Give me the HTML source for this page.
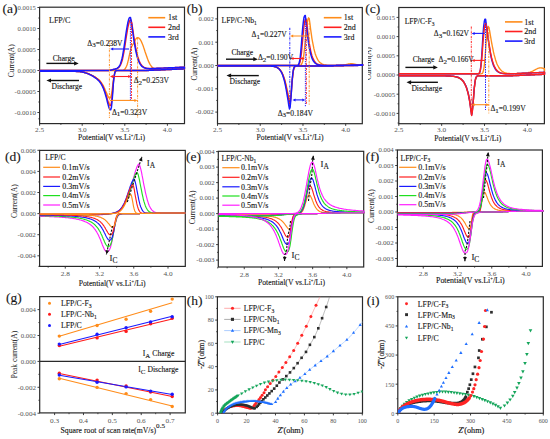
<!DOCTYPE html>
<html><head><meta charset="utf-8"><style>
html,body{margin:0;padding:0;background:#fff;width:550px;height:439px;overflow:hidden}
svg{display:block}
text{font-family:"Liberation Serif",serif}
</style></head><body>
<svg width="550" height="439" viewBox="0 0 550 439">
<rect width="550" height="439" fill="#fff"/>
<rect x="39.60" y="7.20" width="144.90" height="116.40" fill="none" stroke="#2a2a2a" stroke-width="1.2"/>
<line x1="37.40" y1="7.50" x2="39.60" y2="7.50" stroke="#2a2a2a" stroke-width="0.9"/>
<text x="35.90" y="9.84" font-size="7.1" font-family="Liberation Serif" fill="#555555" text-anchor="end" textLength="18.3" lengthAdjust="spacingAndGlyphs">0.0015</text>
<line x1="37.40" y1="28.50" x2="39.60" y2="28.50" stroke="#2a2a2a" stroke-width="0.9"/>
<text x="35.90" y="30.84" font-size="7.1" font-family="Liberation Serif" fill="#555555" text-anchor="end" textLength="18.3" lengthAdjust="spacingAndGlyphs">0.0010</text>
<line x1="37.40" y1="49.50" x2="39.60" y2="49.50" stroke="#2a2a2a" stroke-width="0.9"/>
<text x="35.90" y="51.84" font-size="7.1" font-family="Liberation Serif" fill="#555555" text-anchor="end" textLength="18.3" lengthAdjust="spacingAndGlyphs">0.0005</text>
<line x1="37.40" y1="70.50" x2="39.60" y2="70.50" stroke="#2a2a2a" stroke-width="0.9"/>
<text x="35.90" y="72.84" font-size="7.1" font-family="Liberation Serif" fill="#555555" text-anchor="end" textLength="18.3" lengthAdjust="spacingAndGlyphs">0.0000</text>
<line x1="37.40" y1="91.50" x2="39.60" y2="91.50" stroke="#2a2a2a" stroke-width="0.9"/>
<text x="35.90" y="93.84" font-size="7.1" font-family="Liberation Serif" fill="#555555" text-anchor="end" textLength="21.3" lengthAdjust="spacingAndGlyphs">-0.0005</text>
<line x1="37.40" y1="112.50" x2="39.60" y2="112.50" stroke="#2a2a2a" stroke-width="0.9"/>
<text x="35.90" y="114.84" font-size="7.1" font-family="Liberation Serif" fill="#555555" text-anchor="end" textLength="21.3" lengthAdjust="spacingAndGlyphs">-0.0010</text>
<line x1="38.30" y1="18.00" x2="39.60" y2="18.00" stroke="#2a2a2a" stroke-width="0.8"/>
<line x1="38.30" y1="39.00" x2="39.60" y2="39.00" stroke="#2a2a2a" stroke-width="0.8"/>
<line x1="38.30" y1="60.00" x2="39.60" y2="60.00" stroke="#2a2a2a" stroke-width="0.8"/>
<line x1="38.30" y1="81.00" x2="39.60" y2="81.00" stroke="#2a2a2a" stroke-width="0.8"/>
<line x1="38.30" y1="102.00" x2="39.60" y2="102.00" stroke="#2a2a2a" stroke-width="0.8"/>
<line x1="38.30" y1="118.80" x2="39.60" y2="118.80" stroke="#2a2a2a" stroke-width="0.8"/>
<line x1="39.60" y1="123.60" x2="39.60" y2="125.80" stroke="#2a2a2a" stroke-width="0.9"/>
<text x="39.60" y="132.40" font-size="7.1" font-family="Liberation Serif" fill="#555555" text-anchor="middle" textLength="9.1" lengthAdjust="spacingAndGlyphs">2.5</text>
<line x1="82.20" y1="123.60" x2="82.20" y2="125.80" stroke="#2a2a2a" stroke-width="0.9"/>
<text x="82.20" y="132.40" font-size="7.1" font-family="Liberation Serif" fill="#555555" text-anchor="middle" textLength="9.1" lengthAdjust="spacingAndGlyphs">3.0</text>
<line x1="124.80" y1="123.60" x2="124.80" y2="125.80" stroke="#2a2a2a" stroke-width="0.9"/>
<text x="124.80" y="132.40" font-size="7.1" font-family="Liberation Serif" fill="#555555" text-anchor="middle" textLength="9.1" lengthAdjust="spacingAndGlyphs">3.5</text>
<line x1="167.40" y1="123.60" x2="167.40" y2="125.80" stroke="#2a2a2a" stroke-width="0.9"/>
<text x="167.40" y="132.40" font-size="7.1" font-family="Liberation Serif" fill="#555555" text-anchor="middle" textLength="9.1" lengthAdjust="spacingAndGlyphs">4.0</text>
<line x1="60.90" y1="123.60" x2="60.90" y2="124.90" stroke="#2a2a2a" stroke-width="0.8"/>
<line x1="103.50" y1="123.60" x2="103.50" y2="124.90" stroke="#2a2a2a" stroke-width="0.8"/>
<line x1="146.10" y1="123.60" x2="146.10" y2="124.90" stroke="#2a2a2a" stroke-width="0.8"/>
<text x="2.40" y="13.40" font-size="13.5" font-family="Liberation Serif" fill="#161616" stroke="#161616" stroke-width="0.12" text-anchor="start" >(a)</text>
<text x="49.00" y="22.80" font-size="8" font-family="Liberation Serif" fill="#161616" stroke="#161616" stroke-width="0.12" text-anchor="start" >LFP/C</text>
<text x="0" y="0" font-size="7.4" font-family="Liberation Serif" fill="#161616" text-anchor="middle" transform="translate(14.30,60.80) rotate(-90)">Current(A)</text>
<text x="78.00" y="139.80" font-size="7.7" font-family="Liberation Serif" fill="#161616" stroke="#161616" stroke-width="0.12" text-anchor="start" >Potential(V vs.Li<tspan font-size="0.6em" dy="-3">+</tspan><tspan dy="3">/Li)</tspan></text>
<line x1="148.3" y1="17.70" x2="165.2" y2="17.70" stroke="#ff8c1a" stroke-width="1.6"/>
<text x="168.00" y="20.40" font-size="8" font-family="Liberation Serif" fill="#161616" stroke="#161616" stroke-width="0.12" text-anchor="start" >1st</text>
<line x1="148.3" y1="27.30" x2="165.2" y2="27.30" stroke="#ff2020" stroke-width="1.6"/>
<text x="168.00" y="30.00" font-size="8" font-family="Liberation Serif" fill="#161616" stroke="#161616" stroke-width="0.12" text-anchor="start" >2nd</text>
<line x1="148.3" y1="36.90" x2="165.2" y2="36.90" stroke="#1a1aff" stroke-width="1.6"/>
<text x="168.00" y="39.60" font-size="8" font-family="Liberation Serif" fill="#161616" stroke="#161616" stroke-width="0.12" text-anchor="start" >3rd</text>
<path d="M39.6,70.5 L40.3,70.5 L40.9,70.5 L41.6,70.5 L42.2,70.5 L42.9,70.5 L43.6,70.5 L44.2,70.5 L44.9,70.5 L45.5,70.5 L46.2,70.5 L46.8,70.5 L47.5,70.5 L48.2,70.5 L48.8,70.5 L49.5,70.5 L50.1,70.5 L50.8,70.5 L51.5,70.5 L52.1,70.5 L52.8,70.5 L53.4,70.5 L54.1,70.5 L54.7,70.5 L55.4,70.5 L56.1,70.5 L56.7,70.5 L57.4,70.5 L58.0,70.5 L58.7,70.5 L59.4,70.5 L60.0,70.5 L60.7,70.5 L61.3,70.5 L62.0,70.5 L62.6,70.5 L63.3,70.5 L64.0,70.5 L64.6,70.5 L65.3,70.5 L65.9,70.5 L66.6,70.5 L67.3,70.5 L67.9,70.5 L68.6,70.5 L69.2,70.5 L69.9,70.5 L70.5,70.5 L71.2,70.5 L71.9,70.5 L72.5,70.5 L73.2,70.5 L73.8,70.5 L74.5,70.5 L75.2,70.5 L75.8,70.5 L76.5,70.5 L77.1,70.5 L77.8,70.5 L78.4,70.5 L79.1,70.5 L79.8,70.5 L80.4,70.5 L81.1,70.5 L81.7,70.5 L82.4,70.5 L83.1,70.5 L83.7,70.5 L84.4,70.5 L85.0,70.5 L85.7,70.5 L86.3,70.5 L87.0,70.5 L87.7,70.5 L88.3,70.5 L89.0,70.5 L89.6,70.5 L90.3,70.5 L91.0,70.5 L91.6,70.5 L92.3,70.5 L92.9,70.5 L93.6,70.5 L94.2,70.5 L94.9,70.5 L95.6,70.5 L96.2,70.5 L96.9,70.5 L97.5,70.5 L98.2,70.5 L98.9,70.5 L99.5,70.5 L100.2,70.5 L100.8,70.5 L101.5,70.5 L102.1,70.5 L102.8,70.5 L103.5,70.5 L104.1,70.5 L104.8,70.5 L105.4,70.5 L106.1,70.5 L106.8,70.5 L107.4,70.5 L108.1,70.5 L108.7,70.5 L109.4,70.5 L110.0,70.5 L110.7,70.5 L111.4,70.5 L112.0,70.5 L112.7,70.5 L113.3,70.5 L114.0,70.5 L114.7,70.5 L115.3,70.5 L116.0,70.5 L116.6,70.5 L117.3,70.5 L117.9,70.5 L118.6,70.5 L119.3,70.5 L119.9,70.5 L120.6,70.5 L121.2,70.4 L121.9,70.4 L122.6,70.3 L123.2,70.1 L123.9,69.8 L124.5,69.4 L125.2,68.7 L125.8,67.7 L126.5,66.3 L127.2,64.5 L127.8,62.1 L128.5,59.4 L129.1,56.4 L129.8,53.4 L130.5,50.5 L131.1,48.1 L131.8,46.3 L132.4,45.1 L133.1,44.1 L133.7,43.0 L134.4,41.7 L135.1,40.3 L135.7,39.2 L136.4,38.3 L137.0,37.8 L137.7,37.7 L138.4,37.9 L139.0,38.2 L139.7,38.8 L140.3,39.7 L141.0,40.8 L141.6,42.1 L142.3,43.7 L143.0,45.4 L143.6,47.3 L144.3,49.3 L144.9,51.3 L145.6,53.3 L146.3,55.2 L146.9,57.1 L147.6,58.9 L148.2,60.6 L148.9,62.1 L149.5,63.4 L150.2,64.6 L150.9,65.6 L151.5,66.5 L152.2,67.3 L152.8,67.9 L153.5,68.4 L154.2,68.8 L154.8,69.1 L155.5,69.3 L156.1,69.5 L156.8,69.6 L157.4,69.7 L158.1,69.8 L158.8,69.8 L159.4,69.8 L160.1,69.8 L160.7,69.8 L161.4,69.8 L162.1,69.8 L162.7,69.8 L163.4,69.7 L164.0,69.7 L164.7,69.7 L165.3,69.7 L166.0,69.6 L166.7,69.6 L167.3,69.6 L168.0,69.5 L168.6,69.5 L169.3,69.5 L170.0,69.5 L170.6,69.4 L171.3,69.4 L171.9,69.4 L172.6,69.3 L173.2,69.3 L173.9,69.3 L174.6,69.3 L175.2,69.2 L175.9,69.2 L176.5,69.2 L177.2,69.1 L177.9,69.1 L178.5,69.1 L179.2,69.1 L179.8,69.0 L180.5,69.0 L181.1,69.0 L181.8,68.9 L182.5,68.9 L183.1,68.9 L183.8,68.8 L184.4,68.8 L184.4,68.8 L183.8,68.8 L183.1,68.9 L182.5,68.9 L181.8,68.9 L181.1,69.0 L180.5,69.0 L179.8,69.0 L179.2,69.1 L178.5,69.1 L177.9,69.1 L177.2,69.1 L176.5,69.2 L175.9,69.2 L175.2,69.2 L174.6,69.3 L173.9,69.3 L173.2,69.3 L172.6,69.3 L171.9,69.4 L171.3,69.4 L170.6,69.4 L170.0,69.5 L169.3,69.5 L168.6,69.5 L168.0,69.5 L167.3,69.6 L166.7,69.6 L166.0,69.6 L165.3,69.7 L164.7,69.7 L164.0,69.7 L163.4,69.7 L162.7,69.8 L162.1,69.8 L161.4,69.8 L160.7,69.9 L160.1,69.9 L159.4,69.9 L158.8,69.9 L158.1,70.0 L157.4,70.0 L156.8,70.0 L156.1,70.1 L155.5,70.1 L154.8,70.1 L154.2,70.1 L153.5,70.2 L152.8,70.2 L152.2,70.2 L151.5,70.3 L150.9,70.3 L150.2,70.3 L149.5,70.3 L148.9,70.4 L148.2,70.4 L147.6,70.4 L146.9,70.5 L146.3,70.5 L145.6,70.5 L144.9,70.5 L144.3,70.5 L143.6,70.5 L143.0,70.5 L142.3,70.5 L141.6,70.5 L141.0,70.5 L140.3,70.5 L139.7,70.5 L139.0,70.5 L138.4,70.5 L137.7,70.5 L137.0,70.5 L136.4,70.5 L135.7,70.5 L135.1,70.5 L134.4,70.5 L133.7,70.5 L133.1,70.5 L132.4,70.5 L131.8,70.5 L131.1,70.5 L130.5,70.5 L129.8,70.5 L129.1,70.5 L128.5,70.5 L127.8,70.5 L127.2,70.5 L126.5,70.5 L125.8,70.5 L125.2,70.5 L124.5,70.5 L123.9,70.5 L123.2,70.5 L122.6,70.5 L121.9,70.5 L121.2,70.5 L120.6,70.5 L119.9,70.5 L119.3,70.5 L118.6,70.5 L117.9,70.5 L117.3,70.5 L116.6,70.6 L116.0,70.9 L115.3,71.6 L114.7,73.2 L114.0,76.1 L113.3,80.3 L112.7,85.5 L112.0,90.7 L111.4,94.8 L110.7,97.3 L110.0,98.1 L109.4,98.0 L108.7,97.4 L108.1,96.4 L107.4,95.1 L106.8,93.6 L106.1,92.0 L105.4,90.4 L104.8,88.9 L104.1,87.5 L103.5,86.1 L102.8,84.9 L102.1,83.8 L101.5,82.8 L100.8,81.9 L100.2,81.1 L99.5,80.4 L98.9,79.7 L98.2,79.2 L97.5,78.6 L96.9,78.2 L96.2,77.7 L95.6,77.3 L94.9,76.9 L94.2,76.5 L93.6,76.2 L92.9,75.8 L92.3,75.4 L91.6,75.1 L91.0,74.8 L90.3,74.5 L89.6,74.2 L89.0,74.0 L88.3,73.7 L87.7,73.5 L87.0,73.2 L86.3,73.0 L85.7,72.8 L85.0,72.7 L84.4,72.5 L83.7,72.3 L83.1,72.2 L82.4,72.1 L81.7,72.0 L81.1,71.8 L80.4,71.8 L79.8,71.7 L79.1,71.6 L78.4,71.5 L77.8,71.5 L77.1,71.4 L76.5,71.4 L75.8,71.4 L75.2,71.4 L74.5,71.3 L73.8,71.3 L73.2,71.3 L72.5,71.3 L71.9,71.3 L71.2,71.3 L70.5,71.3 L69.9,71.3 L69.2,71.3 L68.6,71.3 L67.9,71.3 L67.3,71.3 L66.6,71.3 L65.9,71.3 L65.3,71.3 L64.6,71.3 L64.0,71.3 L63.3,71.3 L62.6,71.3 L62.0,71.3 L61.3,71.3 L60.7,71.3 L60.0,71.3 L59.4,71.3 L58.7,71.3 L58.0,71.3 L57.4,71.3 L56.7,71.3 L56.1,71.3 L55.4,71.3 L54.7,71.3 L54.1,71.3 L53.4,71.3 L52.8,71.3 L52.1,71.3 L51.5,71.3 L50.8,71.3 L50.1,71.3 L49.5,71.3 L48.8,71.3 L48.2,71.3 L47.5,71.3 L46.8,71.3 L46.2,71.3 L45.5,71.3 L44.9,71.3 L44.2,71.3 L43.6,71.3 L42.9,71.3 L42.2,71.3 L41.6,71.3 L40.9,71.3 L40.3,71.3 L39.6,71.3" fill="none" stroke="#ff8c1a" stroke-width="1.35" stroke-linejoin="round" />
<path d="M39.6,70.5 L40.3,70.5 L40.9,70.5 L41.6,70.5 L42.2,70.5 L42.9,70.5 L43.6,70.5 L44.2,70.5 L44.9,70.5 L45.5,70.5 L46.2,70.5 L46.8,70.5 L47.5,70.5 L48.2,70.5 L48.8,70.5 L49.5,70.5 L50.1,70.5 L50.8,70.5 L51.5,70.5 L52.1,70.5 L52.8,70.5 L53.4,70.5 L54.1,70.5 L54.7,70.5 L55.4,70.5 L56.1,70.5 L56.7,70.5 L57.4,70.5 L58.0,70.5 L58.7,70.5 L59.4,70.5 L60.0,70.5 L60.7,70.5 L61.3,70.5 L62.0,70.5 L62.6,70.5 L63.3,70.5 L64.0,70.5 L64.6,70.5 L65.3,70.5 L65.9,70.5 L66.6,70.5 L67.3,70.5 L67.9,70.5 L68.6,70.5 L69.2,70.5 L69.9,70.5 L70.5,70.5 L71.2,70.5 L71.9,70.5 L72.5,70.5 L73.2,70.5 L73.8,70.5 L74.5,70.5 L75.2,70.5 L75.8,70.5 L76.5,70.5 L77.1,70.5 L77.8,70.5 L78.4,70.5 L79.1,70.5 L79.8,70.5 L80.4,70.5 L81.1,70.5 L81.7,70.5 L82.4,70.5 L83.1,70.5 L83.7,70.5 L84.4,70.5 L85.0,70.5 L85.7,70.5 L86.3,70.5 L87.0,70.5 L87.7,70.5 L88.3,70.5 L89.0,70.5 L89.6,70.5 L90.3,70.5 L91.0,70.5 L91.6,70.5 L92.3,70.5 L92.9,70.5 L93.6,70.5 L94.2,70.5 L94.9,70.5 L95.6,70.5 L96.2,70.5 L96.9,70.5 L97.5,70.5 L98.2,70.5 L98.9,70.5 L99.5,70.5 L100.2,70.5 L100.8,70.5 L101.5,70.5 L102.1,70.5 L102.8,70.5 L103.5,70.5 L104.1,70.5 L104.8,70.5 L105.4,70.5 L106.1,70.5 L106.8,70.5 L107.4,70.5 L108.1,70.5 L108.7,70.5 L109.4,70.4 L110.0,70.3 L110.7,70.2 L111.4,70.0 L112.0,69.9 L112.7,69.7 L113.3,69.5 L114.0,69.4 L114.7,69.2 L115.3,69.0 L116.0,68.8 L116.6,68.6 L117.3,68.4 L117.9,68.0 L118.6,67.6 L119.3,66.9 L119.9,66.0 L120.6,64.8 L121.2,63.2 L121.9,61.2 L122.6,58.7 L123.2,55.6 L123.9,52.2 L124.5,48.3 L125.2,44.1 L125.8,39.8 L126.5,35.5 L127.2,31.4 L127.8,27.7 L128.5,24.6 L129.1,22.2 L129.8,20.6 L130.5,19.8 L131.1,20.1 L131.8,23.2 L132.4,27.2 L133.1,31.6 L133.7,36.0 L134.4,40.3 L135.1,44.2 L135.7,47.9 L136.4,51.1 L137.0,54.0 L137.7,56.5 L138.4,58.6 L139.0,60.5 L139.7,62.0 L140.3,63.3 L141.0,64.4 L141.6,65.3 L142.3,66.0 L143.0,66.6 L143.6,67.1 L144.3,67.4 L144.9,67.8 L145.6,68.0 L146.3,68.2 L146.9,68.3 L147.6,68.4 L148.2,68.4 L148.9,68.5 L149.5,68.5 L150.2,68.5 L150.9,68.5 L151.5,68.5 L152.2,68.5 L152.8,68.5 L153.5,68.5 L154.2,68.4 L154.8,68.4 L155.5,68.4 L156.1,68.4 L156.8,68.3 L157.4,68.3 L158.1,68.3 L158.8,68.3 L159.4,68.2 L160.1,68.2 L160.7,68.2 L161.4,68.1 L162.1,68.1 L162.7,68.1 L163.4,68.1 L164.0,68.0 L164.7,68.0 L165.3,68.0 L166.0,67.9 L166.7,67.9 L167.3,67.9 L168.0,67.9 L168.6,67.8 L169.3,67.8 L170.0,67.8 L170.6,67.7 L171.3,67.7 L171.9,67.7 L172.6,67.7 L173.2,67.6 L173.9,67.6 L174.6,67.6 L175.2,67.5 L175.9,67.5 L176.5,67.5 L177.2,67.5 L177.9,67.4 L178.5,67.4 L179.2,67.4 L179.8,67.3 L180.5,67.3 L181.1,67.3 L181.8,67.3 L182.5,67.2 L183.1,67.2 L183.8,67.2 L184.4,67.1 L184.4,68.8 L183.8,68.8 L183.1,68.9 L182.5,68.9 L181.8,68.9 L181.1,69.0 L180.5,69.0 L179.8,69.0 L179.2,69.1 L178.5,69.1 L177.9,69.1 L177.2,69.1 L176.5,69.2 L175.9,69.2 L175.2,69.2 L174.6,69.3 L173.9,69.3 L173.2,69.3 L172.6,69.3 L171.9,69.4 L171.3,69.4 L170.6,69.4 L170.0,69.5 L169.3,69.5 L168.6,69.5 L168.0,69.5 L167.3,69.6 L166.7,69.6 L166.0,69.6 L165.3,69.7 L164.7,69.7 L164.0,69.7 L163.4,69.7 L162.7,69.8 L162.1,69.8 L161.4,69.8 L160.7,69.9 L160.1,69.9 L159.4,69.9 L158.8,69.9 L158.1,70.0 L157.4,70.0 L156.8,70.0 L156.1,70.1 L155.5,70.1 L154.8,70.1 L154.2,70.1 L153.5,70.2 L152.8,70.2 L152.2,70.2 L151.5,70.3 L150.9,70.3 L150.2,70.3 L149.5,70.3 L148.9,70.4 L148.2,70.4 L147.6,70.4 L146.9,70.5 L146.3,70.5 L145.6,70.5 L144.9,70.5 L144.3,70.5 L143.6,70.5 L143.0,70.5 L142.3,70.5 L141.6,70.5 L141.0,70.5 L140.3,70.5 L139.7,70.5 L139.0,70.5 L138.4,70.5 L137.7,70.5 L137.0,70.5 L136.4,70.5 L135.7,70.5 L135.1,70.5 L134.4,70.5 L133.7,70.5 L133.1,70.5 L132.4,70.5 L131.8,70.5 L131.1,70.5 L130.5,70.5 L129.8,70.5 L129.1,70.5 L128.5,70.5 L127.8,70.5 L127.2,70.5 L126.5,70.5 L125.8,70.5 L125.2,70.5 L124.5,70.5 L123.9,70.5 L123.2,70.5 L122.6,70.5 L121.9,70.5 L121.2,70.5 L120.6,70.5 L119.9,70.5 L119.3,70.5 L118.6,70.5 L117.9,70.5 L117.3,70.5 L116.6,70.6 L116.0,70.7 L115.3,71.4 L114.7,73.3 L114.0,77.0 L113.3,83.0 L112.7,90.5 L112.0,97.8 L111.4,103.0 L110.7,105.3 L110.0,105.6 L109.4,104.9 L108.7,103.6 L108.1,101.8 L107.4,99.6 L106.8,97.3 L106.1,95.1 L105.4,92.9 L104.8,91.0 L104.1,89.2 L103.5,87.6 L102.8,86.1 L102.1,84.9 L101.5,83.7 L100.8,82.7 L100.2,81.8 L99.5,81.0 L98.9,80.3 L98.2,79.7 L97.5,79.1 L96.9,78.6 L96.2,78.1 L95.6,77.7 L94.9,77.2 L94.2,76.8 L93.6,76.4 L92.9,76.0 L92.3,75.6 L91.6,75.3 L91.0,74.9 L90.3,74.6 L89.6,74.3 L89.0,74.0 L88.3,73.8 L87.7,73.5 L87.0,73.3 L86.3,73.1 L85.7,72.9 L85.0,72.7 L84.4,72.5 L83.7,72.3 L83.1,72.2 L82.4,72.1 L81.7,71.9 L81.1,71.8 L80.4,71.7 L79.8,71.6 L79.1,71.6 L78.4,71.5 L77.8,71.5 L77.1,71.4 L76.5,71.4 L75.8,71.4 L75.2,71.3 L74.5,71.3 L73.8,71.3 L73.2,71.3 L72.5,71.3 L71.9,71.3 L71.2,71.3 L70.5,71.3 L69.9,71.3 L69.2,71.3 L68.6,71.3 L67.9,71.3 L67.3,71.3 L66.6,71.3 L65.9,71.3 L65.3,71.3 L64.6,71.3 L64.0,71.3 L63.3,71.3 L62.6,71.3 L62.0,71.3 L61.3,71.3 L60.7,71.3 L60.0,71.3 L59.4,71.3 L58.7,71.3 L58.0,71.3 L57.4,71.3 L56.7,71.3 L56.1,71.3 L55.4,71.3 L54.7,71.3 L54.1,71.3 L53.4,71.3 L52.8,71.3 L52.1,71.3 L51.5,71.3 L50.8,71.3 L50.1,71.3 L49.5,71.3 L48.8,71.3 L48.2,71.3 L47.5,71.3 L46.8,71.3 L46.2,71.3 L45.5,71.3 L44.9,71.3 L44.2,71.3 L43.6,71.3 L42.9,71.3 L42.2,71.3 L41.6,71.3 L40.9,71.3 L40.3,71.3 L39.6,71.3" fill="none" stroke="#ff2020" stroke-width="1.45" stroke-linejoin="round" />
<path d="M39.6,70.5 L40.3,70.5 L40.9,70.5 L41.6,70.5 L42.2,70.5 L42.9,70.5 L43.6,70.5 L44.2,70.5 L44.9,70.5 L45.5,70.5 L46.2,70.5 L46.8,70.5 L47.5,70.5 L48.2,70.5 L48.8,70.5 L49.5,70.5 L50.1,70.5 L50.8,70.5 L51.5,70.5 L52.1,70.5 L52.8,70.5 L53.4,70.5 L54.1,70.5 L54.7,70.5 L55.4,70.5 L56.1,70.5 L56.7,70.5 L57.4,70.5 L58.0,70.5 L58.7,70.5 L59.4,70.5 L60.0,70.5 L60.7,70.5 L61.3,70.5 L62.0,70.5 L62.6,70.5 L63.3,70.5 L64.0,70.5 L64.6,70.5 L65.3,70.5 L65.9,70.5 L66.6,70.5 L67.3,70.5 L67.9,70.5 L68.6,70.5 L69.2,70.5 L69.9,70.5 L70.5,70.5 L71.2,70.5 L71.9,70.5 L72.5,70.5 L73.2,70.5 L73.8,70.5 L74.5,70.5 L75.2,70.5 L75.8,70.5 L76.5,70.5 L77.1,70.5 L77.8,70.5 L78.4,70.5 L79.1,70.5 L79.8,70.5 L80.4,70.5 L81.1,70.5 L81.7,70.5 L82.4,70.5 L83.1,70.5 L83.7,70.5 L84.4,70.5 L85.0,70.5 L85.7,70.5 L86.3,70.5 L87.0,70.5 L87.7,70.5 L88.3,70.5 L89.0,70.5 L89.6,70.5 L90.3,70.5 L91.0,70.5 L91.6,70.5 L92.3,70.5 L92.9,70.5 L93.6,70.5 L94.2,70.5 L94.9,70.5 L95.6,70.5 L96.2,70.5 L96.9,70.5 L97.5,70.5 L98.2,70.5 L98.9,70.5 L99.5,70.5 L100.2,70.5 L100.8,70.5 L101.5,70.5 L102.1,70.5 L102.8,70.5 L103.5,70.5 L104.1,70.5 L104.8,70.5 L105.4,70.5 L106.1,70.5 L106.8,70.5 L107.4,70.5 L108.1,70.5 L108.7,70.5 L109.4,70.4 L110.0,70.3 L110.7,70.2 L111.4,70.0 L112.0,69.9 L112.7,69.7 L113.3,69.5 L114.0,69.3 L114.7,69.2 L115.3,69.0 L116.0,68.7 L116.6,68.5 L117.3,68.1 L117.9,67.7 L118.6,67.1 L119.3,66.2 L119.9,65.0 L120.6,63.5 L121.2,61.4 L121.9,58.9 L122.6,55.8 L123.2,52.2 L123.9,48.1 L124.5,43.8 L125.2,39.2 L125.8,34.6 L126.5,30.2 L127.2,26.2 L127.8,22.8 L128.5,20.1 L129.1,18.3 L129.8,17.4 L130.5,17.4 L131.1,20.6 L131.8,24.9 L132.4,29.6 L133.1,34.4 L133.7,38.9 L134.4,43.2 L135.1,47.1 L135.7,50.5 L136.4,53.6 L137.0,56.2 L137.7,58.5 L138.4,60.4 L139.0,62.0 L139.7,63.3 L140.3,64.4 L141.0,65.3 L141.6,66.1 L142.3,66.7 L143.0,67.1 L143.6,67.5 L144.3,67.8 L144.9,68.0 L145.6,68.2 L146.3,68.4 L146.9,68.4 L147.6,68.5 L148.2,68.5 L148.9,68.6 L149.5,68.6 L150.2,68.6 L150.9,68.6 L151.5,68.5 L152.2,68.5 L152.8,68.5 L153.5,68.5 L154.2,68.5 L154.8,68.4 L155.5,68.4 L156.1,68.4 L156.8,68.3 L157.4,68.3 L158.1,68.3 L158.8,68.3 L159.4,68.2 L160.1,68.2 L160.7,68.2 L161.4,68.1 L162.1,68.1 L162.7,68.1 L163.4,68.1 L164.0,68.0 L164.7,68.0 L165.3,68.0 L166.0,67.9 L166.7,67.9 L167.3,67.9 L168.0,67.9 L168.6,67.8 L169.3,67.8 L170.0,67.8 L170.6,67.7 L171.3,67.7 L171.9,67.7 L172.6,67.7 L173.2,67.6 L173.9,67.6 L174.6,67.6 L175.2,67.5 L175.9,67.5 L176.5,67.5 L177.2,67.5 L177.9,67.4 L178.5,67.4 L179.2,67.4 L179.8,67.3 L180.5,67.3 L181.1,67.3 L181.8,67.3 L182.5,67.2 L183.1,67.2 L183.8,67.2 L184.4,67.1 L184.4,68.8 L183.8,68.8 L183.1,68.9 L182.5,68.9 L181.8,68.9 L181.1,69.0 L180.5,69.0 L179.8,69.0 L179.2,69.1 L178.5,69.1 L177.9,69.1 L177.2,69.1 L176.5,69.2 L175.9,69.2 L175.2,69.2 L174.6,69.3 L173.9,69.3 L173.2,69.3 L172.6,69.3 L171.9,69.4 L171.3,69.4 L170.6,69.4 L170.0,69.5 L169.3,69.5 L168.6,69.5 L168.0,69.5 L167.3,69.6 L166.7,69.6 L166.0,69.6 L165.3,69.7 L164.7,69.7 L164.0,69.7 L163.4,69.7 L162.7,69.8 L162.1,69.8 L161.4,69.8 L160.7,69.9 L160.1,69.9 L159.4,69.9 L158.8,69.9 L158.1,70.0 L157.4,70.0 L156.8,70.0 L156.1,70.1 L155.5,70.1 L154.8,70.1 L154.2,70.1 L153.5,70.2 L152.8,70.2 L152.2,70.2 L151.5,70.3 L150.9,70.3 L150.2,70.3 L149.5,70.3 L148.9,70.4 L148.2,70.4 L147.6,70.4 L146.9,70.5 L146.3,70.5 L145.6,70.5 L144.9,70.5 L144.3,70.5 L143.6,70.5 L143.0,70.5 L142.3,70.5 L141.6,70.5 L141.0,70.5 L140.3,70.5 L139.7,70.5 L139.0,70.5 L138.4,70.5 L137.7,70.5 L137.0,70.5 L136.4,70.5 L135.7,70.5 L135.1,70.5 L134.4,70.5 L133.7,70.5 L133.1,70.5 L132.4,70.5 L131.8,70.5 L131.1,70.5 L130.5,70.5 L129.8,70.5 L129.1,70.5 L128.5,70.5 L127.8,70.5 L127.2,70.5 L126.5,70.5 L125.8,70.5 L125.2,70.5 L124.5,70.5 L123.9,70.5 L123.2,70.5 L122.6,70.5 L121.9,70.5 L121.2,70.5 L120.6,70.5 L119.9,70.5 L119.3,70.5 L118.6,70.5 L117.9,70.5 L117.3,70.5 L116.6,70.5 L116.0,70.7 L115.3,71.3 L114.7,73.2 L114.0,77.4 L113.3,84.5 L112.7,93.4 L112.0,101.9 L111.4,107.6 L110.7,109.7 L110.0,109.6 L109.4,108.6 L108.7,106.9 L108.1,104.6 L107.4,102.1 L106.8,99.4 L106.1,96.9 L105.4,94.5 L104.8,92.3 L104.1,90.4 L103.5,88.6 L102.8,87.1 L102.1,85.7 L101.5,84.5 L100.8,83.4 L100.2,82.5 L99.5,81.6 L98.9,80.9 L98.2,80.2 L97.5,79.6 L96.9,79.0 L96.2,78.5 L95.6,78.0 L94.9,77.6 L94.2,77.1 L93.6,76.7 L92.9,76.2 L92.3,75.8 L91.6,75.5 L91.0,75.1 L90.3,74.8 L89.6,74.5 L89.0,74.2 L88.3,73.9 L87.7,73.6 L87.0,73.4 L86.3,73.1 L85.7,72.9 L85.0,72.7 L84.4,72.5 L83.7,72.4 L83.1,72.2 L82.4,72.1 L81.7,71.9 L81.1,71.8 L80.4,71.7 L79.8,71.6 L79.1,71.6 L78.4,71.5 L77.8,71.4 L77.1,71.4 L76.5,71.4 L75.8,71.4 L75.2,71.3 L74.5,71.3 L73.8,71.3 L73.2,71.3 L72.5,71.3 L71.9,71.3 L71.2,71.3 L70.5,71.3 L69.9,71.3 L69.2,71.3 L68.6,71.3 L67.9,71.3 L67.3,71.3 L66.6,71.3 L65.9,71.3 L65.3,71.3 L64.6,71.3 L64.0,71.3 L63.3,71.3 L62.6,71.3 L62.0,71.3 L61.3,71.3 L60.7,71.3 L60.0,71.3 L59.4,71.3 L58.7,71.3 L58.0,71.3 L57.4,71.3 L56.7,71.3 L56.1,71.3 L55.4,71.3 L54.7,71.3 L54.1,71.3 L53.4,71.3 L52.8,71.3 L52.1,71.3 L51.5,71.3 L50.8,71.3 L50.1,71.3 L49.5,71.3 L48.8,71.3 L48.2,71.3 L47.5,71.3 L46.8,71.3 L46.2,71.3 L45.5,71.3 L44.9,71.3 L44.2,71.3 L43.6,71.3 L42.9,71.3 L42.2,71.3 L41.6,71.3 L40.9,71.3 L40.3,71.3 L39.6,71.3" fill="none" stroke="#1a1aff" stroke-width="1.45" stroke-linejoin="round" />
<line x1="109.40" y1="40.00" x2="109.40" y2="118.00" stroke="#ff8c1a" stroke-width="0.95" stroke-dasharray="2.2,1,0.6,1"/>
<line x1="137.60" y1="37.50" x2="137.60" y2="118.00" stroke="#ff8c1a" stroke-width="0.95" stroke-dasharray="2.2,1,0.6,1"/>
<line x1="130.40" y1="20.00" x2="130.40" y2="100.00" stroke="#1a1aff" stroke-width="0.95" stroke-dasharray="1.2,1"/>
<line x1="131.40" y1="22.00" x2="131.40" y2="100.00" stroke="#ff2020" stroke-width="0.95" stroke-dasharray="2,1"/>
<line x1="129.00" y1="49.00" x2="112.60" y2="49.00" stroke="#1a1aff" stroke-width="1.1"/>
<path d="M110.20,49.00 L113.20,47.50 L113.20,50.50 Z" fill="#1a1aff"/>
<line x1="112.40" y1="76.50" x2="128.80" y2="76.50" stroke="#ff2020" stroke-width="1.1"/>
<path d="M131.20,76.50 L128.20,78.00 L128.20,75.00 Z" fill="#ff2020"/>
<path d="M110.00,76.50 L113.00,78.00 L113.00,75.00 Z" fill="#ff2020"/>
<line x1="110.00" y1="100.40" x2="135.00" y2="100.40" stroke="#ff8c1a" stroke-width="1.1"/>
<path d="M137.40,100.40 L134.40,101.90 L134.40,98.90 Z" fill="#ff8c1a"/>
<text x="87.30" y="45.50" font-size="7.6" font-family="Liberation Serif" fill="#161616" stroke="#161616" stroke-width="0.12" text-anchor="start" >Δ<tspan font-size="0.92em" dy="1.7">3</tspan><tspan dy="-1.7">=0.238V</tspan></text>
<text x="133.70" y="83.00" font-size="7.6" font-family="Liberation Serif" fill="#161616" stroke="#161616" stroke-width="0.12" text-anchor="start" >Δ<tspan font-size="0.92em" dy="1.7">2</tspan><tspan dy="-1.7">=0.253V</tspan></text>
<text x="111.90" y="114.60" font-size="7.6" font-family="Liberation Serif" fill="#161616" stroke="#161616" stroke-width="0.12" text-anchor="start" >Δ<tspan font-size="0.92em" dy="1.7">1</tspan><tspan dy="-1.7">=0.323V</tspan></text>
<line x1="46.40" y1="63.40" x2="75.02" y2="63.40" stroke="#111" stroke-width="1.4"/>
<path d="M78.70,63.40 L74.10,65.50 L74.10,61.30 Z" fill="#111"/>
<line x1="79.00" y1="80.50" x2="50.08" y2="80.50" stroke="#111" stroke-width="1.4"/>
<path d="M46.40,80.50 L51.00,78.40 L51.00,82.60 Z" fill="#111"/>
<text x="52.80" y="61.30" font-size="7.6" font-family="Liberation Serif" fill="#161616" stroke="#161616" stroke-width="0.12" text-anchor="start" >Charge</text>
<text x="51.50" y="88.60" font-size="7.6" font-family="Liberation Serif" fill="#161616" stroke="#161616" stroke-width="0.12" text-anchor="start" >Discharge</text>
<rect x="217.50" y="7.50" width="144.80" height="116.20" fill="none" stroke="#2a2a2a" stroke-width="1.2"/>
<line x1="215.30" y1="18.90" x2="217.50" y2="18.90" stroke="#2a2a2a" stroke-width="0.9"/>
<text x="213.80" y="21.24" font-size="7.1" font-family="Liberation Serif" fill="#555555" text-anchor="end" textLength="15.2" lengthAdjust="spacingAndGlyphs">0.002</text>
<line x1="215.30" y1="42.20" x2="217.50" y2="42.20" stroke="#2a2a2a" stroke-width="0.9"/>
<text x="213.80" y="44.54" font-size="7.1" font-family="Liberation Serif" fill="#555555" text-anchor="end" textLength="15.2" lengthAdjust="spacingAndGlyphs">0.001</text>
<line x1="215.30" y1="65.50" x2="217.50" y2="65.50" stroke="#2a2a2a" stroke-width="0.9"/>
<text x="213.80" y="67.84" font-size="7.1" font-family="Liberation Serif" fill="#555555" text-anchor="end" textLength="15.2" lengthAdjust="spacingAndGlyphs">0.000</text>
<line x1="215.30" y1="88.80" x2="217.50" y2="88.80" stroke="#2a2a2a" stroke-width="0.9"/>
<text x="213.80" y="91.14" font-size="7.1" font-family="Liberation Serif" fill="#555555" text-anchor="end" textLength="18.3" lengthAdjust="spacingAndGlyphs">-0.001</text>
<line x1="215.30" y1="112.10" x2="217.50" y2="112.10" stroke="#2a2a2a" stroke-width="0.9"/>
<text x="213.80" y="114.44" font-size="7.1" font-family="Liberation Serif" fill="#555555" text-anchor="end" textLength="18.3" lengthAdjust="spacingAndGlyphs">-0.002</text>
<line x1="216.20" y1="30.55" x2="217.50" y2="30.55" stroke="#2a2a2a" stroke-width="0.8"/>
<line x1="216.20" y1="53.85" x2="217.50" y2="53.85" stroke="#2a2a2a" stroke-width="0.8"/>
<line x1="216.20" y1="77.15" x2="217.50" y2="77.15" stroke="#2a2a2a" stroke-width="0.8"/>
<line x1="216.20" y1="100.45" x2="217.50" y2="100.45" stroke="#2a2a2a" stroke-width="0.8"/>
<line x1="217.50" y1="123.70" x2="217.50" y2="125.90" stroke="#2a2a2a" stroke-width="0.9"/>
<text x="217.50" y="132.40" font-size="7.1" font-family="Liberation Serif" fill="#555555" text-anchor="middle" textLength="9.1" lengthAdjust="spacingAndGlyphs">2.5</text>
<line x1="260.23" y1="123.70" x2="260.23" y2="125.90" stroke="#2a2a2a" stroke-width="0.9"/>
<text x="260.23" y="132.40" font-size="7.1" font-family="Liberation Serif" fill="#555555" text-anchor="middle" textLength="9.1" lengthAdjust="spacingAndGlyphs">3.0</text>
<line x1="302.97" y1="123.70" x2="302.97" y2="125.90" stroke="#2a2a2a" stroke-width="0.9"/>
<text x="302.97" y="132.40" font-size="7.1" font-family="Liberation Serif" fill="#555555" text-anchor="middle" textLength="9.1" lengthAdjust="spacingAndGlyphs">3.5</text>
<line x1="345.70" y1="123.70" x2="345.70" y2="125.90" stroke="#2a2a2a" stroke-width="0.9"/>
<text x="345.70" y="132.40" font-size="7.1" font-family="Liberation Serif" fill="#555555" text-anchor="middle" textLength="9.1" lengthAdjust="spacingAndGlyphs">4.0</text>
<line x1="238.87" y1="123.70" x2="238.87" y2="125.00" stroke="#2a2a2a" stroke-width="0.8"/>
<line x1="281.60" y1="123.70" x2="281.60" y2="125.00" stroke="#2a2a2a" stroke-width="0.8"/>
<line x1="324.33" y1="123.70" x2="324.33" y2="125.00" stroke="#2a2a2a" stroke-width="0.8"/>
<text x="186.70" y="13.40" font-size="13.5" font-family="Liberation Serif" fill="#161616" stroke="#161616" stroke-width="0.12" text-anchor="start" >(b)</text>
<text x="221.60" y="22.70" font-size="7.7" font-family="Liberation Serif" fill="#161616" stroke="#161616" stroke-width="0.12" text-anchor="start" >LFP/C-Nb<tspan font-size="0.72em" dy="1.8">1</tspan><tspan dy="-1.8"></tspan></text>
<text x="0" y="0" font-size="7.4" font-family="Liberation Serif" fill="#161616" text-anchor="middle" transform="translate(197.30,64.20) rotate(-90)">Current(A)</text>
<text x="256.60" y="139.80" font-size="7.7" font-family="Liberation Serif" fill="#161616" stroke="#161616" stroke-width="0.12" text-anchor="start" >Potential(V vs.Li<tspan font-size="0.6em" dy="-3">+</tspan><tspan dy="3">/Li)</tspan></text>
<line x1="323.8" y1="17.70" x2="341.5" y2="17.70" stroke="#ff8c1a" stroke-width="1.6"/>
<text x="343.80" y="20.40" font-size="8" font-family="Liberation Serif" fill="#161616" stroke="#161616" stroke-width="0.12" text-anchor="start" >1st</text>
<line x1="323.8" y1="27.30" x2="341.5" y2="27.30" stroke="#ff2020" stroke-width="1.6"/>
<text x="343.80" y="30.00" font-size="8" font-family="Liberation Serif" fill="#161616" stroke="#161616" stroke-width="0.12" text-anchor="start" >2nd</text>
<line x1="323.8" y1="36.90" x2="341.5" y2="36.90" stroke="#1a1aff" stroke-width="1.6"/>
<text x="343.80" y="39.60" font-size="8" font-family="Liberation Serif" fill="#161616" stroke="#161616" stroke-width="0.12" text-anchor="start" >3rd</text>
<path d="M217.5,65.5 L218.2,65.5 L218.8,65.5 L219.5,65.5 L220.1,65.5 L220.8,65.5 L221.5,65.5 L222.1,65.5 L222.8,65.5 L223.4,65.5 L224.1,65.5 L224.8,65.5 L225.4,65.5 L226.1,65.5 L226.7,65.5 L227.4,65.5 L228.1,65.5 L228.7,65.5 L229.4,65.5 L230.0,65.5 L230.7,65.5 L231.4,65.5 L232.0,65.5 L232.7,65.5 L233.4,65.5 L234.0,65.5 L234.7,65.5 L235.3,65.5 L236.0,65.5 L236.7,65.5 L237.3,65.5 L238.0,65.5 L238.6,65.5 L239.3,65.5 L240.0,65.5 L240.6,65.5 L241.3,65.5 L241.9,65.5 L242.6,65.5 L243.3,65.5 L243.9,65.5 L244.6,65.5 L245.2,65.5 L245.9,65.5 L246.6,65.5 L247.2,65.5 L247.9,65.5 L248.5,65.5 L249.2,65.5 L249.9,65.5 L250.5,65.5 L251.2,65.5 L251.8,65.5 L252.5,65.5 L253.2,65.5 L253.8,65.5 L254.5,65.5 L255.1,65.5 L255.8,65.5 L256.5,65.5 L257.1,65.5 L257.8,65.5 L258.4,65.5 L259.1,65.5 L259.8,65.5 L260.4,65.5 L261.1,65.5 L261.7,65.5 L262.4,65.5 L263.1,65.5 L263.7,65.5 L264.4,65.5 L265.1,65.5 L265.7,65.5 L266.4,65.5 L267.0,65.5 L267.7,65.5 L268.4,65.5 L269.0,65.5 L269.7,65.5 L270.3,65.5 L271.0,65.5 L271.7,65.5 L272.3,65.5 L273.0,65.5 L273.6,65.5 L274.3,65.5 L275.0,65.5 L275.6,65.5 L276.3,65.5 L276.9,65.5 L277.6,65.5 L278.3,65.5 L278.9,65.5 L279.6,65.5 L280.2,65.5 L280.9,65.5 L281.6,65.5 L282.2,65.5 L282.9,65.5 L283.5,65.5 L284.2,65.5 L284.9,65.5 L285.5,65.5 L286.2,65.5 L286.8,65.5 L287.5,65.5 L288.2,65.5 L288.8,65.5 L289.5,65.5 L290.1,65.5 L290.8,65.5 L291.5,65.5 L292.1,65.5 L292.8,65.5 L293.4,65.5 L294.1,65.5 L294.8,65.5 L295.4,65.5 L296.1,65.5 L296.8,65.5 L297.4,65.5 L298.1,65.5 L298.7,65.5 L299.4,65.5 L300.1,65.4 L300.7,65.1 L301.4,64.5 L302.0,63.4 L302.7,61.3 L303.4,58.0 L304.0,53.2 L304.7,47.1 L305.3,40.1 L306.0,33.0 L306.7,26.8 L307.3,22.0 L308.0,19.0 L308.6,17.8 L309.3,19.2 L310.0,24.1 L310.6,29.1 L311.3,33.9 L311.9,38.3 L312.6,42.2 L313.3,45.7 L313.9,48.7 L314.6,51.4 L315.2,53.7 L315.9,55.6 L316.6,57.3 L317.2,58.7 L317.9,59.9 L318.5,60.8 L319.2,61.7 L319.9,62.4 L320.5,62.9 L321.2,63.4 L321.8,63.8 L322.5,64.1 L323.2,64.4 L323.8,64.6 L324.5,64.8 L325.1,64.9 L325.8,65.0 L326.5,65.1 L327.1,65.2 L327.8,65.3 L328.5,65.3 L329.1,65.3 L329.8,65.3 L330.4,65.4 L331.1,65.4 L331.8,65.4 L332.4,65.4 L333.1,65.4 L333.7,65.4 L334.4,65.4 L335.1,65.3 L335.7,65.3 L336.4,65.3 L337.0,65.3 L337.7,65.3 L338.4,65.3 L339.0,65.3 L339.7,65.3 L340.3,65.2 L341.0,65.2 L341.7,65.2 L342.3,65.1 L343.0,65.1 L343.6,65.0 L344.3,64.9 L345.0,64.8 L345.6,64.7 L346.3,64.5 L346.9,64.3 L347.6,64.2 L348.3,64.0 L348.9,63.9 L349.6,63.8 L350.2,63.7 L350.9,63.6 L351.6,63.7 L352.2,63.7 L352.9,63.8 L353.5,63.9 L354.2,64.1 L354.9,64.2 L355.5,64.3 L356.2,64.5 L356.8,64.6 L357.5,64.7 L358.2,64.7 L358.8,64.8 L359.5,64.8 L360.2,64.8 L360.8,64.8 L361.5,64.8 L362.1,64.8 L362.8,64.8 L362.8,65.3 L362.1,65.3 L361.5,65.3 L360.8,65.3 L360.2,65.3 L359.5,65.3 L358.8,65.3 L358.2,65.4 L357.5,65.4 L356.8,65.4 L356.2,65.4 L355.5,65.4 L354.9,65.4 L354.2,65.4 L353.5,65.5 L352.9,65.5 L352.2,65.5 L351.6,65.5 L350.9,65.5 L350.2,65.5 L349.6,65.5 L348.9,65.6 L348.3,65.6 L347.6,65.6 L346.9,65.6 L346.3,65.6 L345.6,65.6 L345.0,65.6 L344.3,65.6 L343.6,65.7 L343.0,65.7 L342.3,65.7 L341.7,65.7 L341.0,65.7 L340.3,65.7 L339.7,65.7 L339.0,65.8 L338.4,65.8 L337.7,65.8 L337.0,65.8 L336.4,65.8 L335.7,65.8 L335.1,65.8 L334.4,65.8 L333.7,65.9 L333.1,65.9 L332.4,65.9 L331.8,65.9 L331.1,65.9 L330.4,65.9 L329.8,65.9 L329.1,66.0 L328.5,66.0 L327.8,66.0 L327.1,66.0 L326.5,66.0 L325.8,66.0 L325.1,66.0 L324.5,66.0 L323.8,66.0 L323.2,66.0 L322.5,66.0 L321.8,66.0 L321.2,66.0 L320.5,66.0 L319.9,66.0 L319.2,66.0 L318.5,66.0 L317.9,66.0 L317.2,66.0 L316.6,66.0 L315.9,66.0 L315.2,66.0 L314.6,66.0 L313.9,66.0 L313.3,66.0 L312.6,66.0 L311.9,66.0 L311.3,66.0 L310.6,66.0 L310.0,66.0 L309.3,66.0 L308.6,66.0 L308.0,66.0 L307.3,66.0 L306.7,66.0 L306.0,66.0 L305.3,66.0 L304.7,66.0 L304.0,66.0 L303.4,66.0 L302.7,66.0 L302.0,66.0 L301.4,66.0 L300.7,66.0 L300.1,66.0 L299.4,66.0 L298.7,66.0 L298.1,66.0 L297.4,66.0 L296.8,66.0 L296.1,66.0 L295.4,66.2 L294.8,66.7 L294.1,67.8 L293.4,70.2 L292.8,74.3 L292.1,80.4 L291.5,87.9 L290.8,95.2 L290.1,100.0 L289.5,100.3 L288.8,97.6 L288.2,94.5 L287.5,91.3 L286.8,88.2 L286.2,85.3 L285.5,82.7 L284.9,80.3 L284.2,78.2 L283.5,76.3 L282.9,74.6 L282.2,73.2 L281.6,72.0 L280.9,71.0 L280.2,70.1 L279.6,69.4 L278.9,68.8 L278.3,68.3 L277.6,67.8 L276.9,67.5 L276.3,67.2 L275.6,67.0 L275.0,66.8 L274.3,66.6 L273.6,66.5 L273.0,66.4 L272.3,66.3 L271.7,66.2 L271.0,66.2 L270.3,66.1 L269.7,66.1 L269.0,66.1 L268.4,66.0 L267.7,66.0 L267.0,66.0 L266.4,66.0 L265.7,66.0 L265.1,66.0 L264.4,66.0 L263.7,66.0 L263.1,66.0 L262.4,66.0 L261.7,66.0 L261.1,66.0 L260.4,66.0 L259.8,66.0 L259.1,66.0 L258.4,66.0 L257.8,66.0 L257.1,66.0 L256.5,66.0 L255.8,66.0 L255.1,66.0 L254.5,66.0 L253.8,66.0 L253.2,66.0 L252.5,66.0 L251.8,66.0 L251.2,66.0 L250.5,66.0 L249.9,66.0 L249.2,66.0 L248.5,66.0 L247.9,66.0 L247.2,66.0 L246.6,66.0 L245.9,66.0 L245.2,66.0 L244.6,66.0 L243.9,66.0 L243.3,66.0 L242.6,66.0 L241.9,66.0 L241.3,66.0 L240.6,66.0 L240.0,66.0 L239.3,66.0 L238.6,66.0 L238.0,66.0 L237.3,66.0 L236.7,66.0 L236.0,66.0 L235.3,66.0 L234.7,66.0 L234.0,66.0 L233.4,66.0 L232.7,66.0 L232.0,66.0 L231.4,66.0 L230.7,66.0 L230.0,66.0 L229.4,66.0 L228.7,66.0 L228.1,66.0 L227.4,66.0 L226.7,66.0 L226.1,66.0 L225.4,66.0 L224.8,66.0 L224.1,66.0 L223.4,66.0 L222.8,66.0 L222.1,66.0 L221.5,66.0 L220.8,66.0 L220.1,66.0 L219.5,66.0 L218.8,66.0 L218.2,66.0 L217.5,66.0" fill="none" stroke="#ff8c1a" stroke-width="1.35" stroke-linejoin="round" />
<path d="M217.5,65.5 L218.2,65.5 L218.8,65.5 L219.5,65.5 L220.1,65.5 L220.8,65.5 L221.5,65.5 L222.1,65.5 L222.8,65.5 L223.4,65.5 L224.1,65.5 L224.8,65.5 L225.4,65.5 L226.1,65.5 L226.7,65.5 L227.4,65.5 L228.1,65.5 L228.7,65.5 L229.4,65.5 L230.0,65.5 L230.7,65.5 L231.4,65.5 L232.0,65.5 L232.7,65.5 L233.4,65.5 L234.0,65.5 L234.7,65.5 L235.3,65.5 L236.0,65.5 L236.7,65.5 L237.3,65.5 L238.0,65.5 L238.6,65.5 L239.3,65.5 L240.0,65.5 L240.6,65.5 L241.3,65.5 L241.9,65.5 L242.6,65.5 L243.3,65.5 L243.9,65.5 L244.6,65.5 L245.2,65.5 L245.9,65.5 L246.6,65.5 L247.2,65.5 L247.9,65.5 L248.5,65.5 L249.2,65.5 L249.9,65.5 L250.5,65.5 L251.2,65.5 L251.8,65.5 L252.5,65.5 L253.2,65.5 L253.8,65.5 L254.5,65.5 L255.1,65.5 L255.8,65.5 L256.5,65.5 L257.1,65.5 L257.8,65.5 L258.4,65.5 L259.1,65.5 L259.8,65.5 L260.4,65.5 L261.1,65.5 L261.7,65.5 L262.4,65.5 L263.1,65.5 L263.7,65.5 L264.4,65.5 L265.1,65.5 L265.7,65.5 L266.4,65.5 L267.0,65.5 L267.7,65.5 L268.4,65.5 L269.0,65.5 L269.7,65.5 L270.3,65.5 L271.0,65.5 L271.7,65.5 L272.3,65.5 L273.0,65.5 L273.6,65.5 L274.3,65.5 L275.0,65.5 L275.6,65.5 L276.3,65.5 L276.9,65.5 L277.6,65.5 L278.3,65.5 L278.9,65.5 L279.6,65.5 L280.2,65.5 L280.9,65.5 L281.6,65.5 L282.2,65.5 L282.9,65.5 L283.5,65.5 L284.2,65.5 L284.9,65.5 L285.5,65.5 L286.2,65.5 L286.8,65.5 L287.5,65.5 L288.2,65.5 L288.8,65.5 L289.5,65.5 L290.1,65.5 L290.8,65.5 L291.5,65.5 L292.1,65.5 L292.8,65.5 L293.4,65.5 L294.1,65.5 L294.8,65.5 L295.4,65.5 L296.1,65.5 L296.8,65.5 L297.4,65.4 L298.1,65.2 L298.7,64.8 L299.4,63.7 L300.1,61.7 L300.7,58.2 L301.4,53.1 L302.0,46.5 L302.7,39.1 L303.4,31.8 L304.0,25.8 L304.7,21.6 L305.3,19.5 L306.0,18.9 L306.7,22.8 L307.3,28.5 L308.0,34.1 L308.6,39.1 L309.3,43.5 L310.0,47.4 L310.6,50.6 L311.3,53.4 L311.9,55.7 L312.6,57.6 L313.3,59.1 L313.9,60.4 L314.6,61.4 L315.2,62.3 L315.9,63.0 L316.6,63.5 L317.2,63.9 L317.9,64.3 L318.5,64.5 L319.2,64.7 L319.9,64.9 L320.5,65.0 L321.2,65.1 L321.8,65.2 L322.5,65.3 L323.2,65.3 L323.8,65.4 L324.5,65.4 L325.1,65.4 L325.8,65.4 L326.5,65.5 L327.1,65.5 L327.8,65.5 L328.5,65.5 L329.1,65.5 L329.8,65.5 L330.4,65.5 L331.1,65.4 L331.8,65.4 L332.4,65.4 L333.1,65.4 L333.7,65.4 L334.4,65.4 L335.1,65.4 L335.7,65.4 L336.4,65.3 L337.0,65.3 L337.7,65.3 L338.4,65.3 L339.0,65.3 L339.7,65.3 L340.3,65.3 L341.0,65.2 L341.7,65.2 L342.3,65.2 L343.0,65.2 L343.6,65.2 L344.3,65.2 L345.0,65.2 L345.6,65.2 L346.3,65.1 L346.9,65.1 L347.6,65.1 L348.3,65.1 L348.9,65.1 L349.6,65.1 L350.2,65.1 L350.9,65.0 L351.6,65.0 L352.2,65.0 L352.9,65.0 L353.5,65.0 L354.2,65.0 L354.9,65.0 L355.5,64.9 L356.2,64.9 L356.8,64.9 L357.5,64.9 L358.2,64.9 L358.8,64.9 L359.5,64.9 L360.2,64.9 L360.8,64.8 L361.5,64.8 L362.1,64.8 L362.8,64.8 L362.8,65.3 L362.1,65.3 L361.5,65.3 L360.8,65.3 L360.2,65.3 L359.5,65.3 L358.8,65.3 L358.2,65.4 L357.5,65.4 L356.8,65.4 L356.2,65.4 L355.5,65.4 L354.9,65.4 L354.2,65.4 L353.5,65.5 L352.9,65.5 L352.2,65.5 L351.6,65.5 L350.9,65.5 L350.2,65.5 L349.6,65.5 L348.9,65.6 L348.3,65.6 L347.6,65.6 L346.9,65.6 L346.3,65.6 L345.6,65.6 L345.0,65.6 L344.3,65.6 L343.6,65.7 L343.0,65.7 L342.3,65.7 L341.7,65.7 L341.0,65.7 L340.3,65.7 L339.7,65.7 L339.0,65.8 L338.4,65.8 L337.7,65.8 L337.0,65.8 L336.4,65.8 L335.7,65.8 L335.1,65.8 L334.4,65.8 L333.7,65.9 L333.1,65.9 L332.4,65.9 L331.8,65.9 L331.1,65.9 L330.4,65.9 L329.8,65.9 L329.1,66.0 L328.5,66.0 L327.8,66.0 L327.1,66.0 L326.5,66.0 L325.8,66.0 L325.1,66.0 L324.5,66.0 L323.8,66.0 L323.2,66.0 L322.5,66.0 L321.8,66.0 L321.2,66.0 L320.5,66.0 L319.9,66.0 L319.2,66.0 L318.5,66.0 L317.9,66.0 L317.2,66.0 L316.6,66.0 L315.9,66.0 L315.2,66.0 L314.6,66.0 L313.9,66.0 L313.3,66.0 L312.6,66.0 L311.9,66.0 L311.3,66.0 L310.6,66.0 L310.0,66.0 L309.3,66.0 L308.6,66.0 L308.0,66.0 L307.3,66.0 L306.7,66.0 L306.0,66.0 L305.3,66.0 L304.7,66.0 L304.0,66.0 L303.4,66.0 L302.7,66.0 L302.0,66.0 L301.4,66.0 L300.7,66.0 L300.1,66.0 L299.4,66.0 L298.7,66.0 L298.1,66.0 L297.4,66.0 L296.8,66.0 L296.1,66.0 L295.4,66.2 L294.8,66.8 L294.1,68.0 L293.4,70.6 L292.8,75.2 L292.1,82.0 L291.5,90.3 L290.8,98.3 L290.1,103.6 L289.5,104.0 L288.8,100.9 L288.2,97.3 L287.5,93.6 L286.8,90.1 L286.2,86.8 L285.5,83.9 L284.9,81.2 L284.2,78.8 L283.5,76.8 L282.9,75.0 L282.2,73.5 L281.6,72.2 L280.9,71.1 L280.2,70.2 L279.6,69.4 L278.9,68.7 L278.3,68.2 L277.6,67.8 L276.9,67.4 L276.3,67.1 L275.6,66.9 L275.0,66.7 L274.3,66.6 L273.6,66.4 L273.0,66.3 L272.3,66.3 L271.7,66.2 L271.0,66.1 L270.3,66.1 L269.7,66.1 L269.0,66.0 L268.4,66.0 L267.7,66.0 L267.0,66.0 L266.4,66.0 L265.7,66.0 L265.1,66.0 L264.4,66.0 L263.7,66.0 L263.1,66.0 L262.4,66.0 L261.7,66.0 L261.1,66.0 L260.4,66.0 L259.8,66.0 L259.1,66.0 L258.4,66.0 L257.8,66.0 L257.1,66.0 L256.5,66.0 L255.8,66.0 L255.1,66.0 L254.5,66.0 L253.8,66.0 L253.2,66.0 L252.5,66.0 L251.8,66.0 L251.2,66.0 L250.5,66.0 L249.9,66.0 L249.2,66.0 L248.5,66.0 L247.9,66.0 L247.2,66.0 L246.6,66.0 L245.9,66.0 L245.2,66.0 L244.6,66.0 L243.9,66.0 L243.3,66.0 L242.6,66.0 L241.9,66.0 L241.3,66.0 L240.6,66.0 L240.0,66.0 L239.3,66.0 L238.6,66.0 L238.0,66.0 L237.3,66.0 L236.7,66.0 L236.0,66.0 L235.3,66.0 L234.7,66.0 L234.0,66.0 L233.4,66.0 L232.7,66.0 L232.0,66.0 L231.4,66.0 L230.7,66.0 L230.0,66.0 L229.4,66.0 L228.7,66.0 L228.1,66.0 L227.4,66.0 L226.7,66.0 L226.1,66.0 L225.4,66.0 L224.8,66.0 L224.1,66.0 L223.4,66.0 L222.8,66.0 L222.1,66.0 L221.5,66.0 L220.8,66.0 L220.1,66.0 L219.5,66.0 L218.8,66.0 L218.2,66.0 L217.5,66.0" fill="none" stroke="#ff2020" stroke-width="1.45" stroke-linejoin="round" />
<path d="M217.5,65.5 L218.2,65.5 L218.8,65.5 L219.5,65.5 L220.1,65.5 L220.8,65.5 L221.5,65.5 L222.1,65.5 L222.8,65.5 L223.4,65.5 L224.1,65.5 L224.8,65.5 L225.4,65.5 L226.1,65.5 L226.7,65.5 L227.4,65.5 L228.1,65.5 L228.7,65.5 L229.4,65.5 L230.0,65.5 L230.7,65.5 L231.4,65.5 L232.0,65.5 L232.7,65.5 L233.4,65.5 L234.0,65.5 L234.7,65.5 L235.3,65.5 L236.0,65.5 L236.7,65.5 L237.3,65.5 L238.0,65.5 L238.6,65.5 L239.3,65.5 L240.0,65.5 L240.6,65.5 L241.3,65.5 L241.9,65.5 L242.6,65.5 L243.3,65.5 L243.9,65.5 L244.6,65.5 L245.2,65.5 L245.9,65.5 L246.6,65.5 L247.2,65.5 L247.9,65.5 L248.5,65.5 L249.2,65.5 L249.9,65.5 L250.5,65.5 L251.2,65.5 L251.8,65.5 L252.5,65.5 L253.2,65.5 L253.8,65.5 L254.5,65.5 L255.1,65.5 L255.8,65.5 L256.5,65.5 L257.1,65.5 L257.8,65.5 L258.4,65.5 L259.1,65.5 L259.8,65.5 L260.4,65.5 L261.1,65.5 L261.7,65.5 L262.4,65.5 L263.1,65.5 L263.7,65.5 L264.4,65.5 L265.1,65.5 L265.7,65.5 L266.4,65.5 L267.0,65.5 L267.7,65.5 L268.4,65.5 L269.0,65.5 L269.7,65.5 L270.3,65.5 L271.0,65.5 L271.7,65.5 L272.3,65.5 L273.0,65.5 L273.6,65.5 L274.3,65.5 L275.0,65.5 L275.6,65.5 L276.3,65.5 L276.9,65.5 L277.6,65.5 L278.3,65.5 L278.9,65.5 L279.6,65.5 L280.2,65.5 L280.9,65.5 L281.6,65.5 L282.2,65.5 L282.9,65.5 L283.5,65.5 L284.2,65.5 L284.9,65.5 L285.5,65.5 L286.2,65.5 L286.8,65.5 L287.5,65.5 L288.2,65.5 L288.8,65.5 L289.5,65.5 L290.1,65.5 L290.8,65.5 L291.5,65.5 L292.1,65.5 L292.8,65.5 L293.4,65.5 L294.1,65.5 L294.8,65.5 L295.4,65.5 L296.1,65.5 L296.8,65.5 L297.4,65.4 L298.1,65.1 L298.7,64.2 L299.4,62.1 L300.1,58.3 L300.7,52.4 L301.4,44.5 L302.0,35.8 L302.7,27.7 L303.4,21.4 L304.0,17.4 L304.7,15.7 L305.3,15.4 L306.0,20.9 L306.7,27.3 L307.3,33.4 L308.0,38.8 L308.6,43.6 L309.3,47.6 L310.0,51.0 L310.6,53.8 L311.3,56.1 L311.9,58.0 L312.6,59.6 L313.3,60.8 L313.9,61.8 L314.6,62.6 L315.2,63.3 L315.9,63.7 L316.6,64.1 L317.2,64.4 L317.9,64.7 L318.5,64.9 L319.2,65.0 L319.9,65.1 L320.5,65.2 L321.2,65.3 L321.8,65.3 L322.5,65.4 L323.2,65.4 L323.8,65.4 L324.5,65.4 L325.1,65.5 L325.8,65.5 L326.5,65.5 L327.1,65.5 L327.8,65.5 L328.5,65.5 L329.1,65.5 L329.8,65.5 L330.4,65.5 L331.1,65.4 L331.8,65.4 L332.4,65.4 L333.1,65.4 L333.7,65.4 L334.4,65.4 L335.1,65.4 L335.7,65.4 L336.4,65.3 L337.0,65.3 L337.7,65.3 L338.4,65.3 L339.0,65.3 L339.7,65.3 L340.3,65.3 L341.0,65.2 L341.7,65.2 L342.3,65.2 L343.0,65.2 L343.6,65.2 L344.3,65.2 L345.0,65.2 L345.6,65.2 L346.3,65.1 L346.9,65.1 L347.6,65.1 L348.3,65.1 L348.9,65.1 L349.6,65.1 L350.2,65.1 L350.9,65.0 L351.6,65.0 L352.2,65.0 L352.9,65.0 L353.5,65.0 L354.2,65.0 L354.9,65.0 L355.5,64.9 L356.2,64.9 L356.8,64.9 L357.5,64.9 L358.2,64.9 L358.8,64.9 L359.5,64.9 L360.2,64.9 L360.8,64.8 L361.5,64.8 L362.1,64.8 L362.8,64.8 L362.8,65.3 L362.1,65.3 L361.5,65.3 L360.8,65.3 L360.2,65.3 L359.5,65.3 L358.8,65.3 L358.2,65.4 L357.5,65.4 L356.8,65.4 L356.2,65.4 L355.5,65.4 L354.9,65.4 L354.2,65.4 L353.5,65.5 L352.9,65.5 L352.2,65.5 L351.6,65.5 L350.9,65.5 L350.2,65.5 L349.6,65.5 L348.9,65.6 L348.3,65.6 L347.6,65.6 L346.9,65.6 L346.3,65.6 L345.6,65.6 L345.0,65.6 L344.3,65.6 L343.6,65.7 L343.0,65.7 L342.3,65.7 L341.7,65.7 L341.0,65.7 L340.3,65.7 L339.7,65.7 L339.0,65.8 L338.4,65.8 L337.7,65.8 L337.0,65.8 L336.4,65.8 L335.7,65.8 L335.1,65.8 L334.4,65.8 L333.7,65.9 L333.1,65.9 L332.4,65.9 L331.8,65.9 L331.1,65.9 L330.4,65.9 L329.8,65.9 L329.1,66.0 L328.5,66.0 L327.8,66.0 L327.1,66.0 L326.5,66.0 L325.8,66.0 L325.1,66.0 L324.5,66.0 L323.8,66.0 L323.2,66.0 L322.5,66.0 L321.8,66.0 L321.2,66.0 L320.5,66.0 L319.9,66.0 L319.2,66.0 L318.5,66.0 L317.9,66.0 L317.2,66.0 L316.6,66.0 L315.9,66.0 L315.2,66.0 L314.6,66.0 L313.9,66.0 L313.3,66.0 L312.6,66.0 L311.9,66.0 L311.3,66.0 L310.6,66.0 L310.0,66.0 L309.3,66.0 L308.6,66.0 L308.0,66.0 L307.3,66.0 L306.7,66.0 L306.0,66.0 L305.3,66.0 L304.7,66.0 L304.0,66.0 L303.4,66.0 L302.7,66.0 L302.0,66.0 L301.4,66.0 L300.7,66.0 L300.1,66.0 L299.4,66.0 L298.7,66.0 L298.1,66.0 L297.4,66.0 L296.8,66.0 L296.1,66.0 L295.4,66.1 L294.8,66.4 L294.1,67.3 L293.4,69.4 L292.8,73.6 L292.1,80.7 L291.5,90.2 L290.8,100.2 L290.1,107.6 L289.5,109.1 L288.8,105.6 L288.2,101.4 L287.5,97.2 L286.8,93.1 L286.2,89.3 L285.5,85.9 L284.9,82.8 L284.2,80.1 L283.5,77.8 L282.9,75.7 L282.2,74.0 L281.6,72.6 L280.9,71.4 L280.2,70.4 L279.6,69.5 L278.9,68.8 L278.3,68.3 L277.6,67.8 L276.9,67.4 L276.3,67.1 L275.6,66.9 L275.0,66.7 L274.3,66.5 L273.6,66.4 L273.0,66.3 L272.3,66.2 L271.7,66.2 L271.0,66.1 L270.3,66.1 L269.7,66.1 L269.0,66.0 L268.4,66.0 L267.7,66.0 L267.0,66.0 L266.4,66.0 L265.7,66.0 L265.1,66.0 L264.4,66.0 L263.7,66.0 L263.1,66.0 L262.4,66.0 L261.7,66.0 L261.1,66.0 L260.4,66.0 L259.8,66.0 L259.1,66.0 L258.4,66.0 L257.8,66.0 L257.1,66.0 L256.5,66.0 L255.8,66.0 L255.1,66.0 L254.5,66.0 L253.8,66.0 L253.2,66.0 L252.5,66.0 L251.8,66.0 L251.2,66.0 L250.5,66.0 L249.9,66.0 L249.2,66.0 L248.5,66.0 L247.9,66.0 L247.2,66.0 L246.6,66.0 L245.9,66.0 L245.2,66.0 L244.6,66.0 L243.9,66.0 L243.3,66.0 L242.6,66.0 L241.9,66.0 L241.3,66.0 L240.6,66.0 L240.0,66.0 L239.3,66.0 L238.6,66.0 L238.0,66.0 L237.3,66.0 L236.7,66.0 L236.0,66.0 L235.3,66.0 L234.7,66.0 L234.0,66.0 L233.4,66.0 L232.7,66.0 L232.0,66.0 L231.4,66.0 L230.7,66.0 L230.0,66.0 L229.4,66.0 L228.7,66.0 L228.1,66.0 L227.4,66.0 L226.7,66.0 L226.1,66.0 L225.4,66.0 L224.8,66.0 L224.1,66.0 L223.4,66.0 L222.8,66.0 L222.1,66.0 L221.5,66.0 L220.8,66.0 L220.1,66.0 L219.5,66.0 L218.8,66.0 L218.2,66.0 L217.5,66.0" fill="none" stroke="#1a1aff" stroke-width="1.45" stroke-linejoin="round" />
<line x1="289.80" y1="27.80" x2="289.80" y2="108.00" stroke="#1a1aff" stroke-width="0.95" stroke-dasharray="2.2,1,0.6,1"/>
<line x1="305.40" y1="17.00" x2="305.40" y2="106.40" stroke="#1a1aff" stroke-width="0.95" stroke-dasharray="1.2,1"/>
<line x1="306.40" y1="20.00" x2="306.40" y2="104.00" stroke="#ff2020" stroke-width="0.95" stroke-dasharray="2.2,1,0.6,1"/>
<line x1="309.20" y1="18.00" x2="309.20" y2="105.00" stroke="#ff8c1a" stroke-width="0.95" stroke-dasharray="2.2,1,0.6,1"/>
<line x1="309.20" y1="36.00" x2="292.60" y2="36.00" stroke="#ff8c1a" stroke-width="1.0"/>
<path d="M290.20,36.00 L293.20,34.50 L293.20,37.50 Z" fill="#ff8c1a"/>
<line x1="292.90" y1="58.50" x2="302.40" y2="58.50" stroke="#ff2020" stroke-width="1.1"/>
<path d="M304.80,58.50 L301.80,60.00 L301.80,57.00 Z" fill="#ff2020"/>
<path d="M290.50,58.50 L293.50,60.00 L293.50,57.00 Z" fill="#ff2020"/>
<line x1="294.90" y1="99.90" x2="302.90" y2="99.90" stroke="#1a1aff" stroke-width="1.1"/>
<path d="M305.30,99.90 L302.30,101.40 L302.30,98.40 Z" fill="#1a1aff"/>
<path d="M292.50,99.90 L295.50,101.40 L295.50,98.40 Z" fill="#1a1aff"/>
<text x="251.50" y="37.30" font-size="7.6" font-family="Liberation Serif" fill="#161616" stroke="#161616" stroke-width="0.12" text-anchor="start" >Δ<tspan font-size="0.92em" dy="1.7">1</tspan><tspan dy="-1.7">=0.227V</tspan></text>
<text x="257.90" y="60.20" font-size="7.6" font-family="Liberation Serif" fill="#161616" stroke="#161616" stroke-width="0.12" text-anchor="start" >Δ<tspan font-size="0.92em" dy="1.7">2</tspan><tspan dy="-1.7">=0.190V</tspan></text>
<text x="277.70" y="115.50" font-size="7.6" font-family="Liberation Serif" fill="#161616" stroke="#161616" stroke-width="0.12" text-anchor="start" >Δ<tspan font-size="0.92em" dy="1.7">3</tspan><tspan dy="-1.7">=0.184V</tspan></text>
<line x1="226.00" y1="59.20" x2="254.22" y2="59.20" stroke="#111" stroke-width="1.4"/>
<path d="M257.90,59.20 L253.30,61.30 L253.30,57.10 Z" fill="#111"/>
<line x1="258.80" y1="75.60" x2="230.18" y2="75.60" stroke="#111" stroke-width="1.4"/>
<path d="M226.50,75.60 L231.10,73.50 L231.10,77.70 Z" fill="#111"/>
<text x="231.40" y="54.60" font-size="7.6" font-family="Liberation Serif" fill="#161616" stroke="#161616" stroke-width="0.12" text-anchor="start" >Charge</text>
<text x="229.60" y="84.40" font-size="7.6" font-family="Liberation Serif" fill="#161616" stroke="#161616" stroke-width="0.12" text-anchor="start" >Discharge</text>
<rect x="398.80" y="7.50" width="145.60" height="116.20" fill="none" stroke="#2a2a2a" stroke-width="1.2"/>
<line x1="396.60" y1="17.40" x2="398.80" y2="17.40" stroke="#2a2a2a" stroke-width="0.9"/>
<text x="395.10" y="19.74" font-size="7.1" font-family="Liberation Serif" fill="#555555" text-anchor="end" textLength="18.3" lengthAdjust="spacingAndGlyphs">0.0015</text>
<line x1="396.60" y1="36.60" x2="398.80" y2="36.60" stroke="#2a2a2a" stroke-width="0.9"/>
<text x="395.10" y="38.94" font-size="7.1" font-family="Liberation Serif" fill="#555555" text-anchor="end" textLength="18.3" lengthAdjust="spacingAndGlyphs">0.0010</text>
<line x1="396.60" y1="55.80" x2="398.80" y2="55.80" stroke="#2a2a2a" stroke-width="0.9"/>
<text x="395.10" y="58.14" font-size="7.1" font-family="Liberation Serif" fill="#555555" text-anchor="end" textLength="18.3" lengthAdjust="spacingAndGlyphs">0.0005</text>
<line x1="396.60" y1="75.00" x2="398.80" y2="75.00" stroke="#2a2a2a" stroke-width="0.9"/>
<text x="395.10" y="77.34" font-size="7.1" font-family="Liberation Serif" fill="#555555" text-anchor="end" textLength="18.3" lengthAdjust="spacingAndGlyphs">0.0000</text>
<line x1="396.60" y1="94.20" x2="398.80" y2="94.20" stroke="#2a2a2a" stroke-width="0.9"/>
<text x="395.10" y="96.54" font-size="7.1" font-family="Liberation Serif" fill="#555555" text-anchor="end" textLength="21.3" lengthAdjust="spacingAndGlyphs">-0.0005</text>
<line x1="396.60" y1="113.40" x2="398.80" y2="113.40" stroke="#2a2a2a" stroke-width="0.9"/>
<text x="395.10" y="115.74" font-size="7.1" font-family="Liberation Serif" fill="#555555" text-anchor="end" textLength="21.3" lengthAdjust="spacingAndGlyphs">-0.0010</text>
<line x1="397.50" y1="27.00" x2="398.80" y2="27.00" stroke="#2a2a2a" stroke-width="0.8"/>
<line x1="397.50" y1="46.20" x2="398.80" y2="46.20" stroke="#2a2a2a" stroke-width="0.8"/>
<line x1="397.50" y1="65.40" x2="398.80" y2="65.40" stroke="#2a2a2a" stroke-width="0.8"/>
<line x1="397.50" y1="84.60" x2="398.80" y2="84.60" stroke="#2a2a2a" stroke-width="0.8"/>
<line x1="397.50" y1="103.80" x2="398.80" y2="103.80" stroke="#2a2a2a" stroke-width="0.8"/>
<line x1="397.50" y1="123.00" x2="398.80" y2="123.00" stroke="#2a2a2a" stroke-width="0.8"/>
<line x1="398.80" y1="123.70" x2="398.80" y2="125.90" stroke="#2a2a2a" stroke-width="0.9"/>
<text x="398.80" y="132.40" font-size="7.1" font-family="Liberation Serif" fill="#555555" text-anchor="middle" textLength="9.1" lengthAdjust="spacingAndGlyphs">2.5</text>
<line x1="441.67" y1="123.70" x2="441.67" y2="125.90" stroke="#2a2a2a" stroke-width="0.9"/>
<text x="441.67" y="132.40" font-size="7.1" font-family="Liberation Serif" fill="#555555" text-anchor="middle" textLength="9.1" lengthAdjust="spacingAndGlyphs">3.0</text>
<line x1="484.53" y1="123.70" x2="484.53" y2="125.90" stroke="#2a2a2a" stroke-width="0.9"/>
<text x="484.53" y="132.40" font-size="7.1" font-family="Liberation Serif" fill="#555555" text-anchor="middle" textLength="9.1" lengthAdjust="spacingAndGlyphs">3.5</text>
<line x1="527.40" y1="123.70" x2="527.40" y2="125.90" stroke="#2a2a2a" stroke-width="0.9"/>
<text x="527.40" y="132.40" font-size="7.1" font-family="Liberation Serif" fill="#555555" text-anchor="middle" textLength="9.1" lengthAdjust="spacingAndGlyphs">4.0</text>
<line x1="420.23" y1="123.70" x2="420.23" y2="125.00" stroke="#2a2a2a" stroke-width="0.8"/>
<line x1="463.10" y1="123.70" x2="463.10" y2="125.00" stroke="#2a2a2a" stroke-width="0.8"/>
<line x1="505.97" y1="123.70" x2="505.97" y2="125.00" stroke="#2a2a2a" stroke-width="0.8"/>
<text x="365.20" y="13.40" font-size="13.5" font-family="Liberation Serif" fill="#161616" stroke="#161616" stroke-width="0.12" text-anchor="start" >(c)</text>
<text x="404.70" y="24.20" font-size="7.6" font-family="Liberation Serif" fill="#161616" stroke="#161616" stroke-width="0.12" text-anchor="start" >LFP/C-F<tspan font-size="0.72em" dy="1.8">3</tspan><tspan dy="-1.8"></tspan></text>
<clipPath id="cc"><rect x="368" y="0" width="30" height="140"/></clipPath><g clip-path="url(#cc)">
<text x="0" y="0" font-size="7.4" font-family="Liberation Serif" fill="#161616" text-anchor="middle" transform="translate(371.40,63.60) rotate(-90)">Current(A)</text>
</g>
<text x="434.30" y="141.00" font-size="7.7" font-family="Liberation Serif" fill="#161616" stroke="#161616" stroke-width="0.12" text-anchor="start" >Potential(V vs.Li<tspan font-size="0.6em" dy="-3">+</tspan><tspan dy="3">/Li)</tspan></text>
<line x1="505" y1="21.90" x2="522.5" y2="21.90" stroke="#ff8c1a" stroke-width="1.6"/>
<text x="524.30" y="24.60" font-size="8" font-family="Liberation Serif" fill="#161616" stroke="#161616" stroke-width="0.12" text-anchor="start" >1st</text>
<line x1="505" y1="31.50" x2="522.5" y2="31.50" stroke="#ff2020" stroke-width="1.6"/>
<text x="524.30" y="34.20" font-size="8" font-family="Liberation Serif" fill="#161616" stroke="#161616" stroke-width="0.12" text-anchor="start" >2nd</text>
<line x1="505" y1="41.10" x2="522.5" y2="41.10" stroke="#1a1aff" stroke-width="1.6"/>
<text x="524.30" y="43.80" font-size="8" font-family="Liberation Serif" fill="#161616" stroke="#161616" stroke-width="0.12" text-anchor="start" >3rd</text>
<path d="M398.8,73.8 L399.5,73.8 L400.1,73.8 L400.8,73.8 L401.4,73.8 L402.1,73.8 L402.8,73.8 L403.4,73.8 L404.1,73.8 L404.8,73.8 L405.4,73.8 L406.1,73.8 L406.7,73.8 L407.4,73.8 L408.1,73.8 L408.7,73.8 L409.4,73.8 L410.1,73.8 L410.7,73.8 L411.4,73.8 L412.0,73.8 L412.7,73.8 L413.4,73.8 L414.0,73.8 L414.7,73.8 L415.4,73.8 L416.0,73.8 L416.7,73.8 L417.3,73.8 L418.0,73.8 L418.7,73.8 L419.3,73.8 L420.0,73.8 L420.7,73.8 L421.3,73.8 L422.0,73.8 L422.6,73.8 L423.3,73.8 L424.0,73.8 L424.6,73.8 L425.3,73.8 L426.0,73.8 L426.6,73.8 L427.3,73.8 L427.9,73.8 L428.6,73.8 L429.3,73.8 L429.9,73.8 L430.6,73.8 L431.3,73.8 L431.9,73.8 L432.6,73.8 L433.2,73.8 L433.9,73.8 L434.6,73.8 L435.2,73.8 L435.9,73.8 L436.6,73.8 L437.2,73.8 L437.9,73.8 L438.5,73.8 L439.2,73.8 L439.9,73.8 L440.5,73.8 L441.2,73.8 L441.9,73.8 L442.5,73.8 L443.2,73.8 L443.8,73.8 L444.5,73.8 L445.2,73.8 L445.8,73.8 L446.5,73.8 L447.2,73.8 L447.8,73.8 L448.5,73.8 L449.1,73.8 L449.8,73.8 L450.5,73.8 L451.1,73.8 L451.8,73.8 L452.5,73.8 L453.1,73.8 L453.8,73.8 L454.4,73.8 L455.1,73.8 L455.8,73.8 L456.4,73.8 L457.1,73.8 L457.8,73.8 L458.4,73.8 L459.1,73.8 L459.7,73.8 L460.4,73.8 L461.1,73.8 L461.7,73.8 L462.4,73.8 L463.1,73.8 L463.7,73.8 L464.4,73.8 L465.0,73.8 L465.7,73.8 L466.4,73.8 L467.0,73.8 L467.7,73.8 L468.4,73.8 L469.0,73.8 L469.7,73.8 L470.3,73.8 L471.0,73.8 L471.7,73.8 L472.3,73.8 L473.0,73.8 L473.7,73.8 L474.3,73.8 L475.0,73.8 L475.6,73.8 L476.3,73.8 L477.0,73.8 L477.6,73.8 L478.3,73.8 L479.0,73.8 L479.6,73.8 L480.3,73.8 L480.9,73.8 L481.6,73.7 L482.3,73.3 L482.9,72.3 L483.6,70.0 L484.3,65.7 L484.9,58.9 L485.6,50.3 L486.2,41.1 L486.9,33.3 L487.6,28.3 L488.2,26.4 L488.9,27.3 L489.6,30.6 L490.2,34.4 L490.9,38.3 L491.5,42.0 L492.2,45.6 L492.9,49.0 L493.5,52.1 L494.2,54.9 L494.9,57.4 L495.5,59.7 L496.2,61.7 L496.8,63.4 L497.5,65.0 L498.2,66.3 L498.8,67.5 L499.5,68.5 L500.2,69.3 L500.8,70.1 L501.5,70.7 L502.1,71.2 L502.8,71.7 L503.5,72.0 L504.1,72.3 L504.8,72.6 L505.5,72.8 L506.1,73.0 L506.8,73.2 L507.4,73.3 L508.1,73.4 L508.8,73.5 L509.4,73.5 L510.1,73.6 L510.8,73.6 L511.4,73.6 L512.1,73.6 L512.7,73.6 L513.4,73.6 L514.1,73.6 L514.7,73.6 L515.4,73.6 L516.1,73.6 L516.7,73.5 L517.4,73.5 L518.0,73.5 L518.7,73.5 L519.4,73.4 L520.0,73.4 L520.7,73.4 L521.4,73.3 L522.0,73.3 L522.7,73.3 L523.3,73.2 L524.0,73.2 L524.7,73.1 L525.3,73.1 L526.0,73.0 L526.7,72.9 L527.3,72.8 L528.0,72.7 L528.6,72.5 L529.3,72.4 L530.0,72.2 L530.6,72.0 L531.3,71.7 L532.0,71.4 L532.6,71.1 L533.3,70.8 L533.9,70.4 L534.6,70.1 L535.3,69.7 L535.9,69.3 L536.6,69.0 L537.3,68.7 L537.9,68.4 L538.6,68.2 L539.2,68.0 L539.9,67.9 L540.6,67.9 L541.2,67.9 L541.9,68.0 L542.6,68.1 L543.2,68.3 L543.9,68.5 L544.5,68.7 L544.5,74.2 L543.9,74.3 L543.2,74.3 L542.6,74.3 L541.9,74.4 L541.2,74.4 L540.6,74.4 L539.9,74.4 L539.2,74.5 L538.6,74.5 L537.9,74.5 L537.3,74.6 L536.6,74.6 L535.9,74.6 L535.3,74.6 L534.6,74.7 L533.9,74.7 L533.3,74.7 L532.6,74.8 L532.0,74.8 L531.3,74.8 L530.6,74.9 L530.0,74.9 L529.3,74.9 L528.6,74.9 L528.0,75.0 L527.3,75.0 L526.7,75.0 L526.0,75.1 L525.3,75.1 L524.7,75.1 L524.0,75.2 L523.3,75.2 L522.7,75.2 L522.0,75.2 L521.4,75.3 L520.7,75.3 L520.0,75.3 L519.4,75.4 L518.7,75.4 L518.0,75.4 L517.4,75.4 L516.7,75.5 L516.1,75.5 L515.4,75.5 L514.7,75.6 L514.1,75.6 L513.4,75.6 L512.7,75.7 L512.1,75.7 L511.4,75.7 L510.8,75.7 L510.1,75.8 L509.4,75.8 L508.8,75.8 L508.1,75.8 L507.4,75.8 L506.8,75.8 L506.1,75.8 L505.5,75.8 L504.8,75.8 L504.1,75.8 L503.5,75.8 L502.8,75.8 L502.1,75.8 L501.5,75.8 L500.8,75.8 L500.2,75.8 L499.5,75.8 L498.8,75.8 L498.2,75.8 L497.5,75.8 L496.8,75.8 L496.2,75.8 L495.5,75.8 L494.9,75.8 L494.2,75.8 L493.5,75.8 L492.9,75.8 L492.2,75.8 L491.5,75.8 L490.9,75.8 L490.2,75.8 L489.6,75.8 L488.9,75.8 L488.2,75.8 L487.6,75.8 L486.9,75.8 L486.2,75.8 L485.6,75.8 L484.9,75.8 L484.3,75.8 L483.6,75.8 L482.9,75.8 L482.3,75.8 L481.6,75.8 L480.9,75.8 L480.3,75.8 L479.6,75.8 L479.0,75.8 L478.3,75.8 L477.6,75.9 L477.0,76.3 L476.3,77.2 L475.6,79.2 L475.0,82.9 L474.3,88.8 L473.7,96.5 L473.0,104.6 L472.3,111.0 L471.7,113.4 L471.0,108.3 L470.3,103.9 L469.7,100.1 L469.0,96.8 L468.4,93.9 L467.7,91.5 L467.0,89.3 L466.4,87.5 L465.7,85.9 L465.0,84.5 L464.4,83.3 L463.7,82.3 L463.1,81.4 L462.4,80.7 L461.7,80.0 L461.1,79.4 L460.4,78.9 L459.7,78.5 L459.1,78.1 L458.4,77.8 L457.8,77.5 L457.1,77.3 L456.4,77.1 L455.8,76.9 L455.1,76.8 L454.4,76.6 L453.8,76.5 L453.1,76.4 L452.5,76.3 L451.8,76.2 L451.1,76.2 L450.5,76.1 L449.8,76.1 L449.1,76.0 L448.5,76.0 L447.8,76.0 L447.2,75.9 L446.5,75.9 L445.8,75.9 L445.2,75.9 L444.5,75.9 L443.8,75.9 L443.2,75.8 L442.5,75.8 L441.9,75.8 L441.2,75.8 L440.5,75.8 L439.9,75.8 L439.2,75.8 L438.5,75.8 L437.9,75.8 L437.2,75.8 L436.6,75.8 L435.9,75.8 L435.2,75.8 L434.6,75.8 L433.9,75.8 L433.2,75.8 L432.6,75.8 L431.9,75.8 L431.3,75.8 L430.6,75.8 L429.9,75.8 L429.3,75.8 L428.6,75.8 L427.9,75.8 L427.3,75.8 L426.6,75.8 L426.0,75.8 L425.3,75.8 L424.6,75.8 L424.0,75.8 L423.3,75.8 L422.6,75.8 L422.0,75.8 L421.3,75.8 L420.7,75.8 L420.0,75.8 L419.3,75.8 L418.7,75.8 L418.0,75.8 L417.3,75.8 L416.7,75.8 L416.0,75.8 L415.4,75.8 L414.7,75.8 L414.0,75.8 L413.4,75.8 L412.7,75.8 L412.0,75.8 L411.4,75.8 L410.7,75.8 L410.1,75.8 L409.4,75.8 L408.7,75.8 L408.1,75.8 L407.4,75.8 L406.7,75.8 L406.1,75.8 L405.4,75.8 L404.8,75.8 L404.1,75.8 L403.4,75.8 L402.8,75.8 L402.1,75.8 L401.4,75.8 L400.8,75.8 L400.1,75.8 L399.5,75.8 L398.8,75.8" fill="none" stroke="#ff8c1a" stroke-width="1.35" stroke-linejoin="round" />
<path d="M398.8,73.8 L399.5,73.8 L400.1,73.8 L400.8,73.8 L401.4,73.8 L402.1,73.8 L402.8,73.8 L403.4,73.8 L404.1,73.8 L404.8,73.8 L405.4,73.8 L406.1,73.8 L406.7,73.8 L407.4,73.8 L408.1,73.8 L408.7,73.8 L409.4,73.8 L410.1,73.8 L410.7,73.8 L411.4,73.8 L412.0,73.8 L412.7,73.8 L413.4,73.8 L414.0,73.8 L414.7,73.8 L415.4,73.8 L416.0,73.8 L416.7,73.8 L417.3,73.8 L418.0,73.8 L418.7,73.8 L419.3,73.8 L420.0,73.8 L420.7,73.8 L421.3,73.8 L422.0,73.8 L422.6,73.8 L423.3,73.8 L424.0,73.8 L424.6,73.8 L425.3,73.8 L426.0,73.8 L426.6,73.8 L427.3,73.8 L427.9,73.8 L428.6,73.8 L429.3,73.8 L429.9,73.8 L430.6,73.8 L431.3,73.8 L431.9,73.8 L432.6,73.8 L433.2,73.8 L433.9,73.8 L434.6,73.8 L435.2,73.8 L435.9,73.8 L436.6,73.8 L437.2,73.8 L437.9,73.8 L438.5,73.8 L439.2,73.8 L439.9,73.8 L440.5,73.8 L441.2,73.8 L441.9,73.8 L442.5,73.8 L443.2,73.8 L443.8,73.8 L444.5,73.8 L445.2,73.8 L445.8,73.8 L446.5,73.8 L447.2,73.8 L447.8,73.8 L448.5,73.8 L449.1,73.8 L449.8,73.8 L450.5,73.8 L451.1,73.8 L451.8,73.8 L452.5,73.8 L453.1,73.8 L453.8,73.8 L454.4,73.8 L455.1,73.8 L455.8,73.8 L456.4,73.8 L457.1,73.8 L457.8,73.8 L458.4,73.8 L459.1,73.8 L459.7,73.8 L460.4,73.8 L461.1,73.8 L461.7,73.8 L462.4,73.8 L463.1,73.8 L463.7,73.8 L464.4,73.8 L465.0,73.8 L465.7,73.8 L466.4,73.8 L467.0,73.8 L467.7,73.8 L468.4,73.8 L469.0,73.8 L469.7,73.8 L470.3,73.8 L471.0,73.8 L471.7,73.8 L472.3,73.8 L473.0,73.8 L473.7,73.8 L474.3,73.8 L475.0,73.8 L475.6,73.8 L476.3,73.8 L477.0,73.8 L477.6,73.8 L478.3,73.8 L479.0,73.6 L479.6,72.7 L480.3,70.5 L480.9,65.6 L481.6,57.6 L482.3,47.1 L482.9,36.2 L483.6,27.1 L484.3,21.5 L484.9,19.2 L485.6,19.3 L486.2,23.6 L486.9,28.8 L487.6,34.2 L488.2,39.4 L488.9,44.2 L489.6,48.5 L490.2,52.4 L490.9,55.9 L491.5,58.8 L492.2,61.4 L492.9,63.6 L493.5,65.4 L494.2,67.0 L494.9,68.2 L495.5,69.3 L496.2,70.2 L496.8,70.9 L497.5,71.5 L498.2,72.0 L498.8,72.4 L499.5,72.7 L500.2,72.9 L500.8,73.1 L501.5,73.3 L502.1,73.4 L502.8,73.5 L503.5,73.6 L504.1,73.6 L504.8,73.7 L505.5,73.7 L506.1,73.8 L506.8,73.8 L507.4,73.8 L508.1,73.8 L508.8,73.8 L509.4,73.8 L510.1,73.8 L510.8,73.8 L511.4,73.8 L512.1,73.8 L512.7,73.7 L513.4,73.7 L514.1,73.7 L514.7,73.6 L515.4,73.6 L516.1,73.6 L516.7,73.6 L517.4,73.5 L518.0,73.5 L518.7,73.5 L519.4,73.4 L520.0,73.4 L520.7,73.4 L521.4,73.4 L522.0,73.3 L522.7,73.3 L523.3,73.3 L524.0,73.2 L524.7,73.2 L525.3,73.2 L526.0,73.1 L526.7,73.1 L527.3,73.1 L528.0,73.1 L528.6,73.0 L529.3,73.0 L530.0,73.0 L530.6,72.9 L531.3,72.9 L532.0,72.9 L532.6,72.8 L533.3,72.8 L533.9,72.8 L534.6,72.8 L535.3,72.7 L535.9,72.7 L536.6,72.7 L537.3,72.6 L537.9,72.6 L538.6,72.6 L539.2,72.5 L539.9,72.5 L540.6,72.5 L541.2,72.5 L541.9,72.4 L542.6,72.4 L543.2,72.4 L543.9,72.3 L544.5,72.3 L544.5,74.2 L543.9,74.3 L543.2,74.3 L542.6,74.3 L541.9,74.4 L541.2,74.4 L540.6,74.4 L539.9,74.4 L539.2,74.5 L538.6,74.5 L537.9,74.5 L537.3,74.6 L536.6,74.6 L535.9,74.6 L535.3,74.6 L534.6,74.7 L533.9,74.7 L533.3,74.7 L532.6,74.8 L532.0,74.8 L531.3,74.8 L530.6,74.9 L530.0,74.9 L529.3,74.9 L528.6,74.9 L528.0,75.0 L527.3,75.0 L526.7,75.0 L526.0,75.1 L525.3,75.1 L524.7,75.1 L524.0,75.2 L523.3,75.2 L522.7,75.2 L522.0,75.2 L521.4,75.3 L520.7,75.3 L520.0,75.3 L519.4,75.4 L518.7,75.4 L518.0,75.4 L517.4,75.4 L516.7,75.5 L516.1,75.5 L515.4,75.5 L514.7,75.6 L514.1,75.6 L513.4,75.6 L512.7,75.7 L512.1,75.7 L511.4,75.7 L510.8,75.7 L510.1,75.8 L509.4,75.8 L508.8,75.8 L508.1,75.8 L507.4,75.8 L506.8,75.8 L506.1,75.8 L505.5,75.8 L504.8,75.8 L504.1,75.8 L503.5,75.8 L502.8,75.8 L502.1,75.8 L501.5,75.8 L500.8,75.8 L500.2,75.8 L499.5,75.8 L498.8,75.8 L498.2,75.8 L497.5,75.8 L496.8,75.8 L496.2,75.8 L495.5,75.8 L494.9,75.8 L494.2,75.8 L493.5,75.8 L492.9,75.8 L492.2,75.8 L491.5,75.8 L490.9,75.8 L490.2,75.8 L489.6,75.8 L488.9,75.8 L488.2,75.8 L487.6,75.8 L486.9,75.8 L486.2,75.8 L485.6,75.8 L484.9,75.8 L484.3,75.8 L483.6,75.8 L482.9,75.8 L482.3,75.8 L481.6,75.8 L480.9,75.8 L480.3,75.8 L479.6,75.8 L479.0,75.8 L478.3,75.8 L477.6,75.9 L477.0,76.2 L476.3,77.0 L475.6,78.7 L475.0,82.0 L474.3,87.5 L473.7,95.1 L473.0,103.7 L472.3,111.0 L471.7,114.8 L471.0,110.6 L470.3,105.5 L469.7,101.2 L469.0,97.5 L468.4,94.3 L467.7,91.6 L467.0,89.3 L466.4,87.3 L465.7,85.6 L465.0,84.2 L464.4,83.0 L463.7,81.9 L463.1,81.0 L462.4,80.3 L461.7,79.6 L461.1,79.0 L460.4,78.6 L459.7,78.2 L459.1,77.8 L458.4,77.5 L457.8,77.3 L457.1,77.0 L456.4,76.9 L455.8,76.7 L455.1,76.6 L454.4,76.4 L453.8,76.3 L453.1,76.3 L452.5,76.2 L451.8,76.1 L451.1,76.1 L450.5,76.0 L449.8,76.0 L449.1,76.0 L448.5,75.9 L447.8,75.9 L447.2,75.9 L446.5,75.9 L445.8,75.9 L445.2,75.8 L444.5,75.8 L443.8,75.8 L443.2,75.8 L442.5,75.8 L441.9,75.8 L441.2,75.8 L440.5,75.8 L439.9,75.8 L439.2,75.8 L438.5,75.8 L437.9,75.8 L437.2,75.8 L436.6,75.8 L435.9,75.8 L435.2,75.8 L434.6,75.8 L433.9,75.8 L433.2,75.8 L432.6,75.8 L431.9,75.8 L431.3,75.8 L430.6,75.8 L429.9,75.8 L429.3,75.8 L428.6,75.8 L427.9,75.8 L427.3,75.8 L426.6,75.8 L426.0,75.8 L425.3,75.8 L424.6,75.8 L424.0,75.8 L423.3,75.8 L422.6,75.8 L422.0,75.8 L421.3,75.8 L420.7,75.8 L420.0,75.8 L419.3,75.8 L418.7,75.8 L418.0,75.8 L417.3,75.8 L416.7,75.8 L416.0,75.8 L415.4,75.8 L414.7,75.8 L414.0,75.8 L413.4,75.8 L412.7,75.8 L412.0,75.8 L411.4,75.8 L410.7,75.8 L410.1,75.8 L409.4,75.8 L408.7,75.8 L408.1,75.8 L407.4,75.8 L406.7,75.8 L406.1,75.8 L405.4,75.8 L404.8,75.8 L404.1,75.8 L403.4,75.8 L402.8,75.8 L402.1,75.8 L401.4,75.8 L400.8,75.8 L400.1,75.8 L399.5,75.8 L398.8,75.8" fill="none" stroke="#1a1aff" stroke-width="1.45" stroke-linejoin="round" />
<path d="M398.8,73.8 L399.5,73.8 L400.1,73.8 L400.8,73.8 L401.4,73.8 L402.1,73.8 L402.8,73.8 L403.4,73.8 L404.1,73.8 L404.8,73.8 L405.4,73.8 L406.1,73.8 L406.7,73.8 L407.4,73.8 L408.1,73.8 L408.7,73.8 L409.4,73.8 L410.1,73.8 L410.7,73.8 L411.4,73.8 L412.0,73.8 L412.7,73.8 L413.4,73.8 L414.0,73.8 L414.7,73.8 L415.4,73.8 L416.0,73.8 L416.7,73.8 L417.3,73.8 L418.0,73.8 L418.7,73.8 L419.3,73.8 L420.0,73.8 L420.7,73.8 L421.3,73.8 L422.0,73.8 L422.6,73.8 L423.3,73.8 L424.0,73.8 L424.6,73.8 L425.3,73.8 L426.0,73.8 L426.6,73.8 L427.3,73.8 L427.9,73.8 L428.6,73.8 L429.3,73.8 L429.9,73.8 L430.6,73.8 L431.3,73.8 L431.9,73.8 L432.6,73.8 L433.2,73.8 L433.9,73.8 L434.6,73.8 L435.2,73.8 L435.9,73.8 L436.6,73.8 L437.2,73.8 L437.9,73.8 L438.5,73.8 L439.2,73.8 L439.9,73.8 L440.5,73.8 L441.2,73.8 L441.9,73.8 L442.5,73.8 L443.2,73.8 L443.8,73.8 L444.5,73.8 L445.2,73.8 L445.8,73.8 L446.5,73.8 L447.2,73.8 L447.8,73.8 L448.5,73.8 L449.1,73.8 L449.8,73.8 L450.5,73.8 L451.1,73.8 L451.8,73.8 L452.5,73.8 L453.1,73.8 L453.8,73.8 L454.4,73.8 L455.1,73.8 L455.8,73.8 L456.4,73.8 L457.1,73.8 L457.8,73.8 L458.4,73.8 L459.1,73.8 L459.7,73.8 L460.4,73.8 L461.1,73.8 L461.7,73.8 L462.4,73.8 L463.1,73.8 L463.7,73.8 L464.4,73.8 L465.0,73.8 L465.7,73.8 L466.4,73.8 L467.0,73.8 L467.7,73.8 L468.4,73.8 L469.0,73.8 L469.7,73.8 L470.3,73.8 L471.0,73.8 L471.7,73.8 L472.3,73.8 L473.0,73.8 L473.7,73.8 L474.3,73.8 L475.0,73.8 L475.6,73.8 L476.3,73.8 L477.0,73.8 L477.6,73.8 L478.3,73.7 L479.0,73.3 L479.6,72.4 L480.3,70.3 L480.9,66.5 L481.6,60.4 L482.3,52.4 L482.9,43.5 L483.6,35.2 L484.3,28.7 L484.9,25.0 L485.6,23.6 L486.2,25.0 L486.9,29.2 L487.6,33.9 L488.2,38.7 L488.9,43.2 L489.6,47.4 L490.2,51.2 L490.9,54.6 L491.5,57.6 L492.2,60.2 L492.9,62.4 L493.5,64.4 L494.2,66.0 L494.9,67.4 L495.5,68.6 L496.2,69.5 L496.8,70.4 L497.5,71.0 L498.2,71.6 L498.8,72.0 L499.5,72.4 L500.2,72.7 L500.8,72.9 L501.5,73.1 L502.1,73.3 L502.8,73.4 L503.5,73.5 L504.1,73.6 L504.8,73.6 L505.5,73.7 L506.1,73.7 L506.8,73.7 L507.4,73.8 L508.1,73.8 L508.8,73.8 L509.4,73.8 L510.1,73.8 L510.8,73.8 L511.4,73.8 L512.1,73.8 L512.7,73.7 L513.4,73.7 L514.1,73.7 L514.7,73.6 L515.4,73.6 L516.1,73.6 L516.7,73.6 L517.4,73.5 L518.0,73.5 L518.7,73.5 L519.4,73.4 L520.0,73.4 L520.7,73.4 L521.4,73.4 L522.0,73.3 L522.7,73.3 L523.3,73.3 L524.0,73.2 L524.7,73.2 L525.3,73.2 L526.0,73.1 L526.7,73.1 L527.3,73.1 L528.0,73.1 L528.6,73.0 L529.3,73.0 L530.0,73.0 L530.6,72.9 L531.3,72.9 L532.0,72.9 L532.6,72.8 L533.3,72.8 L533.9,72.8 L534.6,72.8 L535.3,72.7 L535.9,72.7 L536.6,72.7 L537.3,72.6 L537.9,72.6 L538.6,72.6 L539.2,72.5 L539.9,72.5 L540.6,72.5 L541.2,72.5 L541.9,72.4 L542.6,72.4 L543.2,72.4 L543.9,72.3 L544.5,72.3 L544.5,74.2 L543.9,74.3 L543.2,74.3 L542.6,74.3 L541.9,74.4 L541.2,74.4 L540.6,74.4 L539.9,74.4 L539.2,74.5 L538.6,74.5 L537.9,74.5 L537.3,74.6 L536.6,74.6 L535.9,74.6 L535.3,74.6 L534.6,74.7 L533.9,74.7 L533.3,74.7 L532.6,74.8 L532.0,74.8 L531.3,74.8 L530.6,74.9 L530.0,74.9 L529.3,74.9 L528.6,74.9 L528.0,75.0 L527.3,75.0 L526.7,75.0 L526.0,75.1 L525.3,75.1 L524.7,75.1 L524.0,75.2 L523.3,75.2 L522.7,75.2 L522.0,75.2 L521.4,75.3 L520.7,75.3 L520.0,75.3 L519.4,75.4 L518.7,75.4 L518.0,75.4 L517.4,75.4 L516.7,75.5 L516.1,75.5 L515.4,75.5 L514.7,75.6 L514.1,75.6 L513.4,75.6 L512.7,75.7 L512.1,75.7 L511.4,75.7 L510.8,75.7 L510.1,75.8 L509.4,75.8 L508.8,75.8 L508.1,75.8 L507.4,75.8 L506.8,75.8 L506.1,75.8 L505.5,75.8 L504.8,75.8 L504.1,75.8 L503.5,75.8 L502.8,75.8 L502.1,75.8 L501.5,75.8 L500.8,75.8 L500.2,75.8 L499.5,75.8 L498.8,75.8 L498.2,75.8 L497.5,75.8 L496.8,75.8 L496.2,75.8 L495.5,75.8 L494.9,75.8 L494.2,75.8 L493.5,75.8 L492.9,75.8 L492.2,75.8 L491.5,75.8 L490.9,75.8 L490.2,75.8 L489.6,75.8 L488.9,75.8 L488.2,75.8 L487.6,75.8 L486.9,75.8 L486.2,75.8 L485.6,75.8 L484.9,75.8 L484.3,75.8 L483.6,75.8 L482.9,75.8 L482.3,75.8 L481.6,75.8 L480.9,75.8 L480.3,75.8 L479.6,75.8 L479.0,75.8 L478.3,75.8 L477.6,75.9 L477.0,76.2 L476.3,77.0 L475.6,78.7 L475.0,82.1 L474.3,87.8 L473.7,95.5 L473.0,104.2 L472.3,111.7 L471.7,115.5 L471.0,111.3 L470.3,106.1 L469.7,101.7 L469.0,97.9 L468.4,94.7 L467.7,91.9 L467.0,89.6 L466.4,87.5 L465.7,85.8 L465.0,84.4 L464.4,83.1 L463.7,82.0 L463.1,81.1 L462.4,80.3 L461.7,79.7 L461.1,79.1 L460.4,78.6 L459.7,78.2 L459.1,77.8 L458.4,77.5 L457.8,77.3 L457.1,77.1 L456.4,76.9 L455.8,76.7 L455.1,76.6 L454.4,76.5 L453.8,76.4 L453.1,76.3 L452.5,76.2 L451.8,76.1 L451.1,76.1 L450.5,76.0 L449.8,76.0 L449.1,76.0 L448.5,75.9 L447.8,75.9 L447.2,75.9 L446.5,75.9 L445.8,75.9 L445.2,75.8 L444.5,75.8 L443.8,75.8 L443.2,75.8 L442.5,75.8 L441.9,75.8 L441.2,75.8 L440.5,75.8 L439.9,75.8 L439.2,75.8 L438.5,75.8 L437.9,75.8 L437.2,75.8 L436.6,75.8 L435.9,75.8 L435.2,75.8 L434.6,75.8 L433.9,75.8 L433.2,75.8 L432.6,75.8 L431.9,75.8 L431.3,75.8 L430.6,75.8 L429.9,75.8 L429.3,75.8 L428.6,75.8 L427.9,75.8 L427.3,75.8 L426.6,75.8 L426.0,75.8 L425.3,75.8 L424.6,75.8 L424.0,75.8 L423.3,75.8 L422.6,75.8 L422.0,75.8 L421.3,75.8 L420.7,75.8 L420.0,75.8 L419.3,75.8 L418.7,75.8 L418.0,75.8 L417.3,75.8 L416.7,75.8 L416.0,75.8 L415.4,75.8 L414.7,75.8 L414.0,75.8 L413.4,75.8 L412.7,75.8 L412.0,75.8 L411.4,75.8 L410.7,75.8 L410.1,75.8 L409.4,75.8 L408.7,75.8 L408.1,75.8 L407.4,75.8 L406.7,75.8 L406.1,75.8 L405.4,75.8 L404.8,75.8 L404.1,75.8 L403.4,75.8 L402.8,75.8 L402.1,75.8 L401.4,75.8 L400.8,75.8 L400.1,75.8 L399.5,75.8 L398.8,75.8" fill="none" stroke="#ff2020" stroke-width="1.45" stroke-linejoin="round" />
<line x1="471.30" y1="26.50" x2="471.30" y2="116.00" stroke="#ff2020" stroke-width="0.95" stroke-dasharray="2.2,1,0.6,1"/>
<line x1="485.50" y1="19.00" x2="485.50" y2="110.00" stroke="#1a1aff" stroke-width="0.95" stroke-dasharray="1.5,1"/>
<line x1="488.80" y1="27.00" x2="488.80" y2="113.80" stroke="#ff8c1a" stroke-width="0.95" stroke-dasharray="2.2,1,0.6,1"/>
<line x1="484.70" y1="33.40" x2="474.00" y2="33.40" stroke="#1a1aff" stroke-width="1.1"/>
<path d="M471.60,33.40 L474.60,31.90 L474.60,34.90 Z" fill="#1a1aff"/>
<line x1="484.70" y1="60.40" x2="474.00" y2="60.40" stroke="#ff2020" stroke-width="1.1"/>
<path d="M471.60,60.40 L474.60,58.90 L474.60,61.90 Z" fill="#ff2020"/>
<line x1="474.00" y1="104.70" x2="486.80" y2="104.70" stroke="#ff8c1a" stroke-width="1.1"/>
<path d="M489.20,104.70 L486.20,106.20 L486.20,103.20 Z" fill="#ff8c1a"/>
<path d="M471.60,104.70 L474.60,106.20 L474.60,103.20 Z" fill="#ff8c1a"/>
<text x="433.80" y="36.20" font-size="7.6" font-family="Liberation Serif" fill="#161616" stroke="#161616" stroke-width="0.12" text-anchor="start" >Δ<tspan font-size="0.92em" dy="1.7">3</tspan><tspan dy="-1.7">=0.162V</tspan></text>
<text x="438.60" y="62.40" font-size="7.6" font-family="Liberation Serif" fill="#161616" stroke="#161616" stroke-width="0.12" text-anchor="start" >Δ<tspan font-size="0.92em" dy="1.7">2</tspan><tspan dy="-1.7">=0.166V</tspan></text>
<text x="490.40" y="111.00" font-size="7.6" font-family="Liberation Serif" fill="#161616" stroke="#161616" stroke-width="0.12" text-anchor="start" >Δ<tspan font-size="0.92em" dy="1.7">1</tspan><tspan dy="-1.7">=0.199V</tspan></text>
<line x1="405.40" y1="67.40" x2="434.22" y2="67.40" stroke="#111" stroke-width="1.4"/>
<path d="M437.90,67.40 L433.30,69.50 L433.30,65.30 Z" fill="#111"/>
<line x1="437.90" y1="82.30" x2="410.18" y2="82.30" stroke="#111" stroke-width="1.4"/>
<path d="M406.50,82.30 L411.10,80.20 L411.10,84.40 Z" fill="#111"/>
<text x="412.70" y="62.40" font-size="7.6" font-family="Liberation Serif" fill="#161616" stroke="#161616" stroke-width="0.12" text-anchor="start" >Charge</text>
<text x="411.40" y="90.50" font-size="7.6" font-family="Liberation Serif" fill="#161616" stroke="#161616" stroke-width="0.12" text-anchor="start" >Discharge</text>
<rect x="39.60" y="150.40" width="145.70" height="116.00" fill="none" stroke="#2a2a2a" stroke-width="1.2"/>
<line x1="37.40" y1="150.30" x2="39.60" y2="150.30" stroke="#2a2a2a" stroke-width="0.9"/>
<text x="35.90" y="152.64" font-size="7.1" font-family="Liberation Serif" fill="#555555" text-anchor="end" textLength="15.2" lengthAdjust="spacingAndGlyphs">0.006</text>
<line x1="37.40" y1="171.40" x2="39.60" y2="171.40" stroke="#2a2a2a" stroke-width="0.9"/>
<text x="35.90" y="173.74" font-size="7.1" font-family="Liberation Serif" fill="#555555" text-anchor="end" textLength="15.2" lengthAdjust="spacingAndGlyphs">0.004</text>
<line x1="37.40" y1="192.50" x2="39.60" y2="192.50" stroke="#2a2a2a" stroke-width="0.9"/>
<text x="35.90" y="194.84" font-size="7.1" font-family="Liberation Serif" fill="#555555" text-anchor="end" textLength="15.2" lengthAdjust="spacingAndGlyphs">0.002</text>
<line x1="37.40" y1="213.60" x2="39.60" y2="213.60" stroke="#2a2a2a" stroke-width="0.9"/>
<text x="35.90" y="215.94" font-size="7.1" font-family="Liberation Serif" fill="#555555" text-anchor="end" textLength="15.2" lengthAdjust="spacingAndGlyphs">0.000</text>
<line x1="37.40" y1="234.70" x2="39.60" y2="234.70" stroke="#2a2a2a" stroke-width="0.9"/>
<text x="35.90" y="237.04" font-size="7.1" font-family="Liberation Serif" fill="#555555" text-anchor="end" textLength="18.3" lengthAdjust="spacingAndGlyphs">-0.002</text>
<line x1="37.40" y1="255.80" x2="39.60" y2="255.80" stroke="#2a2a2a" stroke-width="0.9"/>
<text x="35.90" y="258.14" font-size="7.1" font-family="Liberation Serif" fill="#555555" text-anchor="end" textLength="18.3" lengthAdjust="spacingAndGlyphs">-0.004</text>
<line x1="38.30" y1="160.85" x2="39.60" y2="160.85" stroke="#2a2a2a" stroke-width="0.8"/>
<line x1="38.30" y1="181.95" x2="39.60" y2="181.95" stroke="#2a2a2a" stroke-width="0.8"/>
<line x1="38.30" y1="203.05" x2="39.60" y2="203.05" stroke="#2a2a2a" stroke-width="0.8"/>
<line x1="38.30" y1="224.15" x2="39.60" y2="224.15" stroke="#2a2a2a" stroke-width="0.8"/>
<line x1="38.30" y1="245.25" x2="39.60" y2="245.25" stroke="#2a2a2a" stroke-width="0.8"/>
<line x1="38.30" y1="266.35" x2="39.60" y2="266.35" stroke="#2a2a2a" stroke-width="0.8"/>
<line x1="65.28" y1="266.40" x2="65.28" y2="268.60" stroke="#2a2a2a" stroke-width="0.9"/>
<text x="65.28" y="275.80" font-size="7.1" font-family="Liberation Serif" fill="#555555" text-anchor="middle" textLength="9.1" lengthAdjust="spacingAndGlyphs">2.8</text>
<line x1="99.52" y1="266.40" x2="99.52" y2="268.60" stroke="#2a2a2a" stroke-width="0.9"/>
<text x="99.52" y="275.80" font-size="7.1" font-family="Liberation Serif" fill="#555555" text-anchor="middle" textLength="9.1" lengthAdjust="spacingAndGlyphs">3.2</text>
<line x1="133.76" y1="266.40" x2="133.76" y2="268.60" stroke="#2a2a2a" stroke-width="0.9"/>
<text x="133.76" y="275.80" font-size="7.1" font-family="Liberation Serif" fill="#555555" text-anchor="middle" textLength="9.1" lengthAdjust="spacingAndGlyphs">3.6</text>
<line x1="168.00" y1="266.40" x2="168.00" y2="268.60" stroke="#2a2a2a" stroke-width="0.9"/>
<text x="168.00" y="275.80" font-size="7.1" font-family="Liberation Serif" fill="#555555" text-anchor="middle" textLength="9.1" lengthAdjust="spacingAndGlyphs">4.0</text>
<line x1="48.16" y1="266.40" x2="48.16" y2="267.70" stroke="#2a2a2a" stroke-width="0.8"/>
<line x1="82.40" y1="266.40" x2="82.40" y2="267.70" stroke="#2a2a2a" stroke-width="0.8"/>
<line x1="116.64" y1="266.40" x2="116.64" y2="267.70" stroke="#2a2a2a" stroke-width="0.8"/>
<line x1="150.88" y1="266.40" x2="150.88" y2="267.70" stroke="#2a2a2a" stroke-width="0.8"/>
<text x="4.90" y="160.60" font-size="13.5" font-family="Liberation Serif" fill="#161616" stroke="#161616" stroke-width="0.12" text-anchor="start" >(d)</text>
<text x="45.20" y="160.00" font-size="7.6" font-family="Liberation Serif" fill="#161616" stroke="#161616" stroke-width="0.12" text-anchor="start" >LFP/C</text>
<text x="0" y="0" font-size="7.6" font-family="Liberation Serif" fill="#161616" text-anchor="middle" transform="translate(17.00,201.20) rotate(-90)">Current(A)</text>
<text x="78.70" y="285.50" font-size="7.7" font-family="Liberation Serif" fill="#161616" stroke="#161616" stroke-width="0.12" text-anchor="start" >Potential(V vs.Li<tspan font-size="0.6em" dy="-3">+</tspan><tspan dy="3">/Li)</tspan></text>
<line x1="43.2" y1="167.30" x2="60.1" y2="167.30" stroke="#ff8c1a" stroke-width="1.2"/>
<text x="62.30" y="170.00" font-size="8" font-family="Liberation Serif" fill="#161616" stroke="#161616" stroke-width="0.12" text-anchor="start" >0.1mV/s</text>
<line x1="43.2" y1="177.00" x2="60.1" y2="177.00" stroke="#ff2020" stroke-width="1.2"/>
<text x="62.30" y="179.70" font-size="8" font-family="Liberation Serif" fill="#161616" stroke="#161616" stroke-width="0.12" text-anchor="start" >0.2mV/s</text>
<line x1="43.2" y1="186.40" x2="60.1" y2="186.40" stroke="#1a1aff" stroke-width="1.2"/>
<text x="62.30" y="189.10" font-size="8" font-family="Liberation Serif" fill="#161616" stroke="#161616" stroke-width="0.12" text-anchor="start" >0.3mV/s</text>
<line x1="43.2" y1="195.60" x2="60.1" y2="195.60" stroke="#1fdf1f" stroke-width="1.2"/>
<text x="62.30" y="198.30" font-size="8" font-family="Liberation Serif" fill="#161616" stroke="#161616" stroke-width="0.12" text-anchor="start" >0.4mV/s</text>
<line x1="43.2" y1="205.00" x2="60.1" y2="205.00" stroke="#ff1fff" stroke-width="1.2"/>
<text x="62.30" y="207.70" font-size="8" font-family="Liberation Serif" fill="#161616" stroke="#161616" stroke-width="0.12" text-anchor="start" >0.5mV/s</text>
<path d="M39.6,215.1 L40.3,215.1 L40.9,215.1 L41.6,215.1 L42.2,215.1 L42.9,215.1 L43.6,215.1 L44.2,215.1 L44.9,215.1 L45.6,215.1 L46.2,215.1 L46.9,215.1 L47.5,215.1 L48.2,215.1 L48.9,215.1 L49.5,215.1 L50.2,215.1 L50.8,215.1 L51.5,215.1 L52.2,215.1 L52.8,215.1 L53.5,215.1 L54.2,215.1 L54.8,215.1 L55.5,215.1 L56.1,215.1 L56.8,215.1 L57.5,215.1 L58.1,215.1 L58.8,215.1 L59.4,215.1 L60.1,215.1 L60.8,215.1 L61.4,215.1 L62.1,215.1 L62.8,215.1 L63.4,215.1 L64.1,215.1 L64.7,215.1 L65.4,215.1 L66.1,215.1 L66.7,215.1 L67.4,215.1 L68.0,215.1 L68.7,215.1 L69.4,215.1 L70.0,215.1 L70.7,215.1 L71.3,215.1 L72.0,215.1 L72.7,215.1 L73.3,215.1 L74.0,215.1 L74.7,215.1 L75.3,215.1 L76.0,215.1 L76.6,215.1 L77.3,215.1 L78.0,215.1 L78.6,215.1 L79.3,215.1 L79.9,215.1 L80.6,215.1 L81.3,215.1 L81.9,215.1 L82.6,215.1 L83.3,215.1 L83.9,215.1 L84.6,215.1 L85.2,215.1 L85.9,215.1 L86.6,215.1 L87.2,215.1 L87.9,215.1 L88.5,215.1 L89.2,215.1 L89.9,215.1 L90.5,215.1 L91.2,215.1 L91.9,215.1 L92.5,215.1 L93.2,215.1 L93.8,215.0 L94.5,215.0 L95.2,215.0 L95.8,215.0 L96.5,214.9 L97.1,214.9 L97.8,214.9 L98.5,214.8 L99.1,214.8 L99.8,214.8 L100.5,214.7 L101.1,214.7 L101.8,214.6 L102.4,214.6 L103.1,214.5 L103.8,214.4 L104.4,214.4 L105.1,214.3 L105.7,214.3 L106.4,214.2 L107.1,214.1 L107.7,214.0 L108.4,213.9 L109.1,213.9 L109.7,213.8 L110.4,213.7 L111.0,213.5 L111.7,213.4 L112.4,213.3 L113.0,213.1 L113.7,212.9 L114.3,212.7 L115.0,212.5 L115.7,212.3 L116.3,212.0 L117.0,211.7 L117.7,211.3 L118.3,210.9 L119.0,210.5 L119.6,210.0 L120.3,209.4 L121.0,208.8 L121.6,208.1 L122.3,207.3 L122.9,206.4 L123.6,205.4 L124.3,204.3 L124.9,203.1 L125.6,201.8 L126.3,200.4 L126.9,198.9 L127.6,197.3 L128.2,195.5 L128.9,193.6 L129.6,191.6 L130.2,189.5 L130.9,187.3 L131.5,185.1 L132.2,182.7 L132.9,180.4 L133.5,178.0 L134.2,175.7 L134.8,173.4 L135.5,171.2 L136.2,169.1 L136.8,167.3 L137.5,165.7 L138.2,164.6 L138.8,164.0 L139.5,164.8 L140.1,166.6 L140.8,169.1 L141.5,172.1 L142.1,175.4 L142.8,178.8 L143.4,182.3 L144.1,185.8 L144.8,189.1 L145.4,192.3 L146.1,195.2 L146.8,197.9 L147.4,200.3 L148.1,202.4 L148.7,204.3 L149.4,205.9 L150.1,207.2 L150.7,208.4 L151.4,209.3 L152.0,210.1 L152.7,210.8 L153.4,211.3 L154.0,211.7 L154.7,212.0 L155.4,212.3 L156.0,212.5 L156.7,212.6 L157.3,212.7 L158.0,212.8 L158.7,212.9 L159.3,212.9 L160.0,212.9 L160.6,213.0 L161.3,213.0 L162.0,213.0 L162.6,213.0 L163.3,213.0 L164.0,213.0 L164.6,213.0 L165.3,213.0 L165.9,213.0 L166.6,213.0 L167.3,213.0 L167.9,213.0 L168.6,213.0 L169.2,213.0 L169.9,213.0 L170.6,213.0 L171.2,213.0 L171.9,213.0 L172.6,213.0 L173.2,213.0 L173.9,213.0 L174.5,213.0 L175.2,213.0 L175.9,213.0 L176.5,213.0 L177.2,213.0 L177.8,213.0 L178.5,213.0 L179.2,213.0 L179.8,213.0 L180.5,213.0 L181.2,213.0 L181.8,213.0 L182.5,213.0 L183.1,213.0 L183.8,213.0 L184.5,213.0 L185.1,213.0 L185.1,213.0 L184.5,213.0 L183.8,213.0 L183.1,213.0 L182.5,213.0 L181.8,213.0 L181.2,213.0 L180.5,213.0 L179.8,213.0 L179.2,213.0 L178.5,213.0 L177.8,213.0 L177.2,213.0 L176.5,213.0 L175.9,213.0 L175.2,213.0 L174.5,213.0 L173.9,213.0 L173.2,213.0 L172.6,213.0 L171.9,213.0 L171.2,213.0 L170.6,213.0 L169.9,213.0 L169.2,213.0 L168.6,213.0 L167.9,213.0 L167.3,213.0 L166.6,213.0 L165.9,213.0 L165.3,213.0 L164.6,213.0 L164.0,213.0 L163.3,213.0 L162.6,213.0 L162.0,213.0 L161.3,213.0 L160.6,213.0 L160.0,213.1 L159.3,213.1 L158.7,213.1 L158.0,213.1 L157.3,213.1 L156.7,213.1 L156.0,213.1 L155.4,213.2 L154.7,213.2 L154.0,213.2 L153.4,213.2 L152.7,213.2 L152.0,213.3 L151.4,213.3 L150.7,213.3 L150.1,213.3 L149.4,213.3 L148.7,213.3 L148.1,213.4 L147.4,213.4 L146.8,213.4 L146.1,213.4 L145.4,213.4 L144.8,213.4 L144.1,213.5 L143.4,213.5 L142.8,213.5 L142.1,213.5 L141.5,213.5 L140.8,213.5 L140.1,213.5 L139.5,213.6 L138.8,213.6 L138.2,213.6 L137.5,213.6 L136.8,213.6 L136.2,213.6 L135.5,213.6 L134.8,213.6 L134.2,213.6 L133.5,213.6 L132.9,213.6 L132.2,213.6 L131.5,213.6 L130.9,213.6 L130.2,213.6 L129.6,213.6 L128.9,213.6 L128.2,213.6 L127.6,213.6 L126.9,213.6 L126.3,213.6 L125.6,213.6 L124.9,213.6 L124.3,213.6 L123.6,213.7 L122.9,213.7 L122.3,213.8 L121.6,213.9 L121.0,214.0 L120.3,214.2 L119.6,214.5 L119.0,214.9 L118.3,215.5 L117.7,216.5 L117.0,217.8 L116.3,219.7 L115.7,222.1 L115.0,225.0 L114.3,228.3 L113.7,232.0 L113.0,235.7 L112.4,239.2 L111.7,242.5 L111.0,245.3 L110.4,247.6 L109.7,249.3 L109.1,250.5 L108.4,251.1 L107.7,251.5 L107.1,251.6 L106.4,251.6 L105.7,251.2 L105.1,250.5 L104.4,249.4 L103.8,248.1 L103.1,246.5 L102.4,244.9 L101.8,243.2 L101.1,241.5 L100.5,239.8 L99.8,238.2 L99.1,236.7 L98.5,235.3 L97.8,234.0 L97.1,232.8 L96.5,231.6 L95.8,230.6 L95.2,229.6 L94.5,228.8 L93.8,227.9 L93.2,227.2 L92.5,226.5 L91.9,225.9 L91.2,225.3 L90.5,224.8 L89.9,224.3 L89.2,223.8 L88.5,223.4 L87.9,223.0 L87.2,222.6 L86.6,222.3 L85.9,222.0 L85.2,221.7 L84.6,221.4 L83.9,221.1 L83.3,220.9 L82.6,220.7 L81.9,220.4 L81.3,220.2 L80.6,220.0 L79.9,219.9 L79.3,219.7 L78.6,219.5 L78.0,219.4 L77.3,219.2 L76.6,219.1 L76.0,219.0 L75.3,218.8 L74.7,218.7 L74.0,218.6 L73.3,218.5 L72.7,218.4 L72.0,218.3 L71.3,218.2 L70.7,218.1 L70.0,218.1 L69.4,218.0 L68.7,217.9 L68.0,217.8 L67.4,217.7 L66.7,217.7 L66.1,217.6 L65.4,217.6 L64.7,217.5 L64.1,217.4 L63.4,217.4 L62.8,217.3 L62.1,217.3 L61.4,217.2 L60.8,217.2 L60.1,217.1 L59.4,217.1 L58.8,217.0 L58.1,217.0 L57.5,217.0 L56.8,216.9 L56.1,216.9 L55.5,216.8 L54.8,216.8 L54.2,216.8 L53.5,216.7 L52.8,216.7 L52.2,216.7 L51.5,216.7 L50.8,216.6 L50.2,216.6 L49.5,216.6 L48.9,216.5 L48.2,216.5 L47.5,216.5 L46.9,216.5 L46.2,216.4 L45.6,216.4 L44.9,216.4 L44.2,216.4 L43.6,216.4 L42.9,216.3 L42.2,216.3 L41.6,216.3 L40.9,216.3 L40.3,216.3 L39.6,216.2" fill="none" stroke="#ff1fff" stroke-width="1.15" stroke-linejoin="round" />
<path d="M39.6,214.8 L40.3,214.8 L40.9,214.8 L41.6,214.8 L42.2,214.8 L42.9,214.8 L43.6,214.8 L44.2,214.8 L44.9,214.8 L45.6,214.8 L46.2,214.8 L46.9,214.8 L47.5,214.8 L48.2,214.8 L48.9,214.8 L49.5,214.8 L50.2,214.8 L50.8,214.8 L51.5,214.8 L52.2,214.8 L52.8,214.8 L53.5,214.8 L54.2,214.8 L54.8,214.8 L55.5,214.8 L56.1,214.8 L56.8,214.8 L57.5,214.8 L58.1,214.8 L58.8,214.8 L59.4,214.8 L60.1,214.8 L60.8,214.8 L61.4,214.8 L62.1,214.8 L62.8,214.8 L63.4,214.8 L64.1,214.8 L64.7,214.8 L65.4,214.8 L66.1,214.8 L66.7,214.8 L67.4,214.8 L68.0,214.8 L68.7,214.8 L69.4,214.8 L70.0,214.8 L70.7,214.8 L71.3,214.8 L72.0,214.8 L72.7,214.8 L73.3,214.8 L74.0,214.8 L74.7,214.8 L75.3,214.8 L76.0,214.8 L76.6,214.8 L77.3,214.8 L78.0,214.8 L78.6,214.8 L79.3,214.8 L79.9,214.8 L80.6,214.8 L81.3,214.8 L81.9,214.8 L82.6,214.8 L83.3,214.8 L83.9,214.8 L84.6,214.8 L85.2,214.8 L85.9,214.8 L86.6,214.8 L87.2,214.8 L87.9,214.8 L88.5,214.8 L89.2,214.8 L89.9,214.8 L90.5,214.8 L91.2,214.8 L91.9,214.8 L92.5,214.8 L93.2,214.7 L93.8,214.7 L94.5,214.7 L95.2,214.7 L95.8,214.7 L96.5,214.7 L97.1,214.6 L97.8,214.6 L98.5,214.6 L99.1,214.5 L99.8,214.5 L100.5,214.5 L101.1,214.4 L101.8,214.4 L102.4,214.4 L103.1,214.3 L103.8,214.3 L104.4,214.2 L105.1,214.2 L105.7,214.1 L106.4,214.1 L107.1,214.0 L107.7,214.0 L108.4,213.9 L109.1,213.8 L109.7,213.8 L110.4,213.7 L111.0,213.6 L111.7,213.5 L112.4,213.4 L113.0,213.3 L113.7,213.1 L114.3,213.0 L115.0,212.8 L115.7,212.6 L116.3,212.3 L117.0,212.0 L117.7,211.7 L118.3,211.3 L119.0,210.9 L119.6,210.4 L120.3,209.9 L121.0,209.2 L121.6,208.5 L122.3,207.7 L122.9,206.8 L123.6,205.8 L124.3,204.7 L124.9,203.5 L125.6,202.1 L126.3,200.7 L126.9,199.1 L127.6,197.4 L128.2,195.6 L128.9,193.7 L129.6,191.7 L130.2,189.7 L130.9,187.6 L131.5,185.4 L132.2,183.3 L132.9,181.2 L133.5,179.2 L134.2,177.4 L134.8,175.7 L135.5,174.3 L136.2,173.1 L136.8,172.5 L137.5,173.0 L138.2,174.7 L138.8,177.2 L139.5,180.2 L140.1,183.5 L140.8,187.0 L141.5,190.4 L142.1,193.6 L142.8,196.7 L143.4,199.5 L144.1,201.9 L144.8,204.1 L145.4,205.9 L146.1,207.5 L146.8,208.7 L147.4,209.8 L148.1,210.6 L148.7,211.3 L149.4,211.8 L150.1,212.2 L150.7,212.4 L151.4,212.7 L152.0,212.8 L152.7,212.9 L153.4,213.0 L154.0,213.0 L154.7,213.1 L155.4,213.1 L156.0,213.1 L156.7,213.1 L157.3,213.1 L158.0,213.1 L158.7,213.1 L159.3,213.1 L160.0,213.1 L160.6,213.0 L161.3,213.0 L162.0,213.0 L162.6,213.0 L163.3,213.0 L164.0,213.0 L164.6,213.0 L165.3,213.0 L165.9,213.0 L166.6,213.0 L167.3,213.0 L167.9,213.0 L168.6,213.0 L169.2,213.0 L169.9,213.0 L170.6,213.0 L171.2,213.0 L171.9,213.0 L172.6,213.0 L173.2,213.0 L173.9,213.0 L174.5,213.0 L175.2,213.0 L175.9,213.0 L176.5,213.0 L177.2,213.0 L177.8,213.0 L178.5,213.0 L179.2,213.0 L179.8,213.0 L180.5,213.0 L181.2,213.0 L181.8,213.0 L182.5,213.0 L183.1,213.0 L183.8,213.0 L184.5,213.0 L185.1,213.0 L185.1,213.0 L184.5,213.0 L183.8,213.0 L183.1,213.0 L182.5,213.0 L181.8,213.0 L181.2,213.0 L180.5,213.0 L179.8,213.0 L179.2,213.0 L178.5,213.0 L177.8,213.0 L177.2,213.0 L176.5,213.0 L175.9,213.0 L175.2,213.0 L174.5,213.0 L173.9,213.0 L173.2,213.0 L172.6,213.0 L171.9,213.0 L171.2,213.0 L170.6,213.0 L169.9,213.0 L169.2,213.0 L168.6,213.0 L167.9,213.0 L167.3,213.0 L166.6,213.0 L165.9,213.0 L165.3,213.0 L164.6,213.0 L164.0,213.0 L163.3,213.0 L162.6,213.0 L162.0,213.0 L161.3,213.0 L160.6,213.0 L160.0,213.1 L159.3,213.1 L158.7,213.1 L158.0,213.1 L157.3,213.1 L156.7,213.1 L156.0,213.1 L155.4,213.2 L154.7,213.2 L154.0,213.2 L153.4,213.2 L152.7,213.2 L152.0,213.3 L151.4,213.3 L150.7,213.3 L150.1,213.3 L149.4,213.3 L148.7,213.3 L148.1,213.4 L147.4,213.4 L146.8,213.4 L146.1,213.4 L145.4,213.4 L144.8,213.4 L144.1,213.5 L143.4,213.5 L142.8,213.5 L142.1,213.5 L141.5,213.5 L140.8,213.5 L140.1,213.5 L139.5,213.6 L138.8,213.6 L138.2,213.6 L137.5,213.6 L136.8,213.6 L136.2,213.6 L135.5,213.6 L134.8,213.6 L134.2,213.6 L133.5,213.6 L132.9,213.6 L132.2,213.6 L131.5,213.6 L130.9,213.6 L130.2,213.6 L129.6,213.6 L128.9,213.6 L128.2,213.6 L127.6,213.6 L126.9,213.6 L126.3,213.6 L125.6,213.6 L124.9,213.6 L124.3,213.6 L123.6,213.6 L122.9,213.7 L122.3,213.8 L121.6,213.8 L121.0,213.9 L120.3,214.0 L119.6,214.2 L119.0,214.5 L118.3,215.0 L117.7,215.9 L117.0,217.2 L116.3,219.0 L115.7,221.5 L115.0,224.6 L114.3,228.1 L113.7,231.8 L113.0,235.4 L112.4,238.7 L111.7,241.4 L111.0,243.6 L110.4,245.0 L109.7,245.9 L109.1,246.3 L108.4,246.4 L107.7,246.4 L107.1,246.0 L106.4,245.3 L105.7,244.2 L105.1,242.9 L104.4,241.5 L103.8,239.9 L103.1,238.4 L102.4,236.8 L101.8,235.3 L101.1,233.9 L100.5,232.6 L99.8,231.3 L99.1,230.2 L98.5,229.1 L97.8,228.2 L97.1,227.3 L96.5,226.5 L95.8,225.8 L95.2,225.1 L94.5,224.5 L93.8,223.9 L93.2,223.4 L92.5,222.9 L91.9,222.5 L91.2,222.1 L90.5,221.7 L89.9,221.4 L89.2,221.1 L88.5,220.8 L87.9,220.5 L87.2,220.2 L86.6,220.0 L85.9,219.8 L85.2,219.6 L84.6,219.4 L83.9,219.2 L83.3,219.0 L82.6,218.8 L81.9,218.7 L81.3,218.5 L80.6,218.4 L79.9,218.3 L79.3,218.2 L78.6,218.0 L78.0,217.9 L77.3,217.8 L76.6,217.7 L76.0,217.6 L75.3,217.6 L74.7,217.5 L74.0,217.4 L73.3,217.3 L72.7,217.2 L72.0,217.2 L71.3,217.1 L70.7,217.0 L70.0,217.0 L69.4,216.9 L68.7,216.9 L68.0,216.8 L67.4,216.8 L66.7,216.7 L66.1,216.7 L65.4,216.6 L64.7,216.6 L64.1,216.5 L63.4,216.5 L62.8,216.5 L62.1,216.4 L61.4,216.4 L60.8,216.3 L60.1,216.3 L59.4,216.3 L58.8,216.2 L58.1,216.2 L57.5,216.2 L56.8,216.2 L56.1,216.1 L55.5,216.1 L54.8,216.1 L54.2,216.0 L53.5,216.0 L52.8,216.0 L52.2,216.0 L51.5,216.0 L50.8,215.9 L50.2,215.9 L49.5,215.9 L48.9,215.9 L48.2,215.9 L47.5,215.8 L46.9,215.8 L46.2,215.8 L45.6,215.8 L44.9,215.8 L44.2,215.7 L43.6,215.7 L42.9,215.7 L42.2,215.7 L41.6,215.7 L40.9,215.7 L40.3,215.7 L39.6,215.6" fill="none" stroke="#1fdf1f" stroke-width="1.15" stroke-linejoin="round" />
<path d="M39.6,214.4 L40.3,214.4 L40.9,214.4 L41.6,214.4 L42.2,214.4 L42.9,214.4 L43.6,214.4 L44.2,214.4 L44.9,214.4 L45.6,214.4 L46.2,214.4 L46.9,214.4 L47.5,214.4 L48.2,214.4 L48.9,214.4 L49.5,214.4 L50.2,214.4 L50.8,214.4 L51.5,214.4 L52.2,214.4 L52.8,214.4 L53.5,214.4 L54.2,214.4 L54.8,214.4 L55.5,214.4 L56.1,214.4 L56.8,214.4 L57.5,214.4 L58.1,214.4 L58.8,214.4 L59.4,214.4 L60.1,214.4 L60.8,214.4 L61.4,214.4 L62.1,214.4 L62.8,214.4 L63.4,214.4 L64.1,214.4 L64.7,214.4 L65.4,214.4 L66.1,214.4 L66.7,214.4 L67.4,214.4 L68.0,214.4 L68.7,214.4 L69.4,214.4 L70.0,214.4 L70.7,214.4 L71.3,214.4 L72.0,214.4 L72.7,214.4 L73.3,214.4 L74.0,214.4 L74.7,214.4 L75.3,214.4 L76.0,214.4 L76.6,214.4 L77.3,214.4 L78.0,214.4 L78.6,214.4 L79.3,214.4 L79.9,214.4 L80.6,214.4 L81.3,214.4 L81.9,214.4 L82.6,214.4 L83.3,214.4 L83.9,214.4 L84.6,214.4 L85.2,214.4 L85.9,214.4 L86.6,214.4 L87.2,214.4 L87.9,214.4 L88.5,214.4 L89.2,214.4 L89.9,214.4 L90.5,214.4 L91.2,214.4 L91.9,214.4 L92.5,214.4 L93.2,214.4 L93.8,214.4 L94.5,214.4 L95.2,214.4 L95.8,214.4 L96.5,214.4 L97.1,214.4 L97.8,214.3 L98.5,214.3 L99.1,214.3 L99.8,214.3 L100.5,214.2 L101.1,214.2 L101.8,214.2 L102.4,214.2 L103.1,214.1 L103.8,214.1 L104.4,214.1 L105.1,214.0 L105.7,214.0 L106.4,214.0 L107.1,213.9 L107.7,213.9 L108.4,213.8 L109.1,213.8 L109.7,213.7 L110.4,213.7 L111.0,213.6 L111.7,213.5 L112.4,213.4 L113.0,213.3 L113.7,213.1 L114.3,212.9 L115.0,212.7 L115.7,212.5 L116.3,212.2 L117.0,211.9 L117.7,211.5 L118.3,211.1 L119.0,210.6 L119.6,210.0 L120.3,209.3 L121.0,208.5 L121.6,207.6 L122.3,206.6 L122.9,205.5 L123.6,204.2 L124.3,202.9 L124.9,201.4 L125.6,199.8 L126.3,198.1 L126.9,196.3 L127.6,194.4 L128.2,192.4 L128.9,190.4 L129.6,188.5 L130.2,186.5 L130.9,184.7 L131.5,183.0 L132.2,181.6 L132.9,180.4 L133.5,179.5 L134.2,179.2 L134.8,180.6 L135.5,183.0 L136.2,186.2 L136.8,189.6 L137.5,193.2 L138.2,196.6 L138.8,199.8 L139.5,202.6 L140.1,205.0 L140.8,207.0 L141.5,208.6 L142.1,209.9 L142.8,210.9 L143.4,211.6 L144.1,212.2 L144.8,212.6 L145.4,212.8 L146.1,213.0 L146.8,213.1 L147.4,213.2 L148.1,213.3 L148.7,213.3 L149.4,213.3 L150.1,213.3 L150.7,213.3 L151.4,213.3 L152.0,213.2 L152.7,213.2 L153.4,213.2 L154.0,213.2 L154.7,213.2 L155.4,213.2 L156.0,213.1 L156.7,213.1 L157.3,213.1 L158.0,213.1 L158.7,213.1 L159.3,213.1 L160.0,213.1 L160.6,213.0 L161.3,213.0 L162.0,213.0 L162.6,213.0 L163.3,213.0 L164.0,213.0 L164.6,213.0 L165.3,213.0 L165.9,213.0 L166.6,213.0 L167.3,213.0 L167.9,213.0 L168.6,213.0 L169.2,213.0 L169.9,213.0 L170.6,213.0 L171.2,213.0 L171.9,213.0 L172.6,213.0 L173.2,213.0 L173.9,213.0 L174.5,213.0 L175.2,213.0 L175.9,213.0 L176.5,213.0 L177.2,213.0 L177.8,213.0 L178.5,213.0 L179.2,213.0 L179.8,213.0 L180.5,213.0 L181.2,213.0 L181.8,213.0 L182.5,213.0 L183.1,213.0 L183.8,213.0 L184.5,213.0 L185.1,213.0 L185.1,213.0 L184.5,213.0 L183.8,213.0 L183.1,213.0 L182.5,213.0 L181.8,213.0 L181.2,213.0 L180.5,213.0 L179.8,213.0 L179.2,213.0 L178.5,213.0 L177.8,213.0 L177.2,213.0 L176.5,213.0 L175.9,213.0 L175.2,213.0 L174.5,213.0 L173.9,213.0 L173.2,213.0 L172.6,213.0 L171.9,213.0 L171.2,213.0 L170.6,213.0 L169.9,213.0 L169.2,213.0 L168.6,213.0 L167.9,213.0 L167.3,213.0 L166.6,213.0 L165.9,213.0 L165.3,213.0 L164.6,213.0 L164.0,213.0 L163.3,213.0 L162.6,213.0 L162.0,213.0 L161.3,213.0 L160.6,213.0 L160.0,213.1 L159.3,213.1 L158.7,213.1 L158.0,213.1 L157.3,213.1 L156.7,213.1 L156.0,213.1 L155.4,213.2 L154.7,213.2 L154.0,213.2 L153.4,213.2 L152.7,213.2 L152.0,213.3 L151.4,213.3 L150.7,213.3 L150.1,213.3 L149.4,213.3 L148.7,213.3 L148.1,213.4 L147.4,213.4 L146.8,213.4 L146.1,213.4 L145.4,213.4 L144.8,213.4 L144.1,213.5 L143.4,213.5 L142.8,213.5 L142.1,213.5 L141.5,213.5 L140.8,213.5 L140.1,213.5 L139.5,213.6 L138.8,213.6 L138.2,213.6 L137.5,213.6 L136.8,213.6 L136.2,213.6 L135.5,213.6 L134.8,213.6 L134.2,213.6 L133.5,213.6 L132.9,213.6 L132.2,213.6 L131.5,213.6 L130.9,213.6 L130.2,213.6 L129.6,213.6 L128.9,213.6 L128.2,213.6 L127.6,213.6 L126.9,213.6 L126.3,213.6 L125.6,213.6 L124.9,213.6 L124.3,213.6 L123.6,213.6 L122.9,213.7 L122.3,213.7 L121.6,213.8 L121.0,213.8 L120.3,213.9 L119.6,214.0 L119.0,214.2 L118.3,214.6 L117.7,215.4 L117.0,216.6 L116.3,218.5 L115.7,221.1 L115.0,224.2 L114.3,227.7 L113.7,231.1 L113.0,234.2 L112.4,236.7 L111.7,238.4 L111.0,239.5 L110.4,239.9 L109.7,240.1 L109.1,240.0 L108.4,239.7 L107.7,239.0 L107.1,238.0 L106.4,236.8 L105.7,235.5 L105.1,234.1 L104.4,232.7 L103.8,231.4 L103.1,230.1 L102.4,229.0 L101.8,227.9 L101.1,226.9 L100.5,226.0 L99.8,225.2 L99.1,224.4 L98.5,223.7 L97.8,223.1 L97.1,222.6 L96.5,222.0 L95.8,221.6 L95.2,221.2 L94.5,220.8 L93.8,220.4 L93.2,220.1 L92.5,219.8 L91.9,219.5 L91.2,219.2 L90.5,219.0 L89.9,218.8 L89.2,218.6 L88.5,218.4 L87.9,218.2 L87.2,218.1 L86.6,217.9 L85.9,217.8 L85.2,217.6 L84.6,217.5 L83.9,217.4 L83.3,217.3 L82.6,217.2 L81.9,217.1 L81.3,217.0 L80.6,216.9 L79.9,216.8 L79.3,216.7 L78.6,216.7 L78.0,216.6 L77.3,216.5 L76.6,216.5 L76.0,216.4 L75.3,216.3 L74.7,216.3 L74.0,216.2 L73.3,216.2 L72.7,216.1 L72.0,216.1 L71.3,216.0 L70.7,216.0 L70.0,216.0 L69.4,215.9 L68.7,215.9 L68.0,215.8 L67.4,215.8 L66.7,215.8 L66.1,215.7 L65.4,215.7 L64.7,215.7 L64.1,215.7 L63.4,215.6 L62.8,215.6 L62.1,215.6 L61.4,215.6 L60.8,215.5 L60.1,215.5 L59.4,215.5 L58.8,215.5 L58.1,215.4 L57.5,215.4 L56.8,215.4 L56.1,215.4 L55.5,215.4 L54.8,215.4 L54.2,215.3 L53.5,215.3 L52.8,215.3 L52.2,215.3 L51.5,215.3 L50.8,215.3 L50.2,215.2 L49.5,215.2 L48.9,215.2 L48.2,215.2 L47.5,215.2 L46.9,215.2 L46.2,215.2 L45.6,215.2 L44.9,215.1 L44.2,215.1 L43.6,215.1 L42.9,215.1 L42.2,215.1 L41.6,215.1 L40.9,215.1 L40.3,215.1 L39.6,215.1" fill="none" stroke="#1a1aff" stroke-width="1.15" stroke-linejoin="round" />
<path d="M39.6,214.1 L40.3,214.1 L40.9,214.1 L41.6,214.1 L42.2,214.1 L42.9,214.1 L43.6,214.1 L44.2,214.1 L44.9,214.1 L45.6,214.1 L46.2,214.1 L46.9,214.1 L47.5,214.1 L48.2,214.1 L48.9,214.1 L49.5,214.1 L50.2,214.1 L50.8,214.1 L51.5,214.1 L52.2,214.1 L52.8,214.1 L53.5,214.1 L54.2,214.1 L54.8,214.1 L55.5,214.1 L56.1,214.1 L56.8,214.1 L57.5,214.1 L58.1,214.1 L58.8,214.1 L59.4,214.1 L60.1,214.1 L60.8,214.1 L61.4,214.1 L62.1,214.1 L62.8,214.1 L63.4,214.1 L64.1,214.1 L64.7,214.1 L65.4,214.1 L66.1,214.1 L66.7,214.1 L67.4,214.1 L68.0,214.1 L68.7,214.1 L69.4,214.1 L70.0,214.1 L70.7,214.1 L71.3,214.1 L72.0,214.1 L72.7,214.1 L73.3,214.1 L74.0,214.1 L74.7,214.1 L75.3,214.1 L76.0,214.1 L76.6,214.1 L77.3,214.1 L78.0,214.1 L78.6,214.1 L79.3,214.1 L79.9,214.1 L80.6,214.1 L81.3,214.1 L81.9,214.1 L82.6,214.1 L83.3,214.1 L83.9,214.1 L84.6,214.1 L85.2,214.1 L85.9,214.1 L86.6,214.1 L87.2,214.1 L87.9,214.1 L88.5,214.1 L89.2,214.1 L89.9,214.1 L90.5,214.1 L91.2,214.1 L91.9,214.1 L92.5,214.1 L93.2,214.1 L93.8,214.1 L94.5,214.1 L95.2,214.1 L95.8,214.1 L96.5,214.1 L97.1,214.1 L97.8,214.1 L98.5,214.0 L99.1,214.0 L99.8,214.0 L100.5,214.0 L101.1,214.0 L101.8,214.0 L102.4,214.0 L103.1,213.9 L103.8,213.9 L104.4,213.9 L105.1,213.9 L105.7,213.9 L106.4,213.8 L107.1,213.8 L107.7,213.8 L108.4,213.8 L109.1,213.7 L109.7,213.7 L110.4,213.7 L111.0,213.6 L111.7,213.6 L112.4,213.5 L113.0,213.4 L113.7,213.3 L114.3,213.2 L115.0,213.1 L115.7,212.9 L116.3,212.7 L117.0,212.5 L117.7,212.1 L118.3,211.8 L119.0,211.3 L119.6,210.8 L120.3,210.1 L121.0,209.4 L121.6,208.6 L122.3,207.6 L122.9,206.5 L123.6,205.2 L124.3,203.9 L124.9,202.4 L125.6,200.7 L126.3,199.0 L126.9,197.2 L127.6,195.4 L128.2,193.5 L128.9,191.7 L129.6,189.9 L130.2,188.3 L130.9,186.9 L131.5,185.7 L132.2,184.9 L132.9,184.6 L133.5,186.2 L134.2,189.2 L134.8,192.9 L135.5,196.8 L136.2,200.4 L136.8,203.7 L137.5,206.4 L138.2,208.5 L138.8,210.1 L139.5,211.3 L140.1,212.1 L140.8,212.6 L141.5,213.0 L142.1,213.2 L142.8,213.3 L143.4,213.4 L144.1,213.4 L144.8,213.4 L145.4,213.4 L146.1,213.4 L146.8,213.4 L147.4,213.4 L148.1,213.4 L148.7,213.3 L149.4,213.3 L150.1,213.3 L150.7,213.3 L151.4,213.3 L152.0,213.3 L152.7,213.2 L153.4,213.2 L154.0,213.2 L154.7,213.2 L155.4,213.2 L156.0,213.1 L156.7,213.1 L157.3,213.1 L158.0,213.1 L158.7,213.1 L159.3,213.1 L160.0,213.1 L160.6,213.0 L161.3,213.0 L162.0,213.0 L162.6,213.0 L163.3,213.0 L164.0,213.0 L164.6,213.0 L165.3,213.0 L165.9,213.0 L166.6,213.0 L167.3,213.0 L167.9,213.0 L168.6,213.0 L169.2,213.0 L169.9,213.0 L170.6,213.0 L171.2,213.0 L171.9,213.0 L172.6,213.0 L173.2,213.0 L173.9,213.0 L174.5,213.0 L175.2,213.0 L175.9,213.0 L176.5,213.0 L177.2,213.0 L177.8,213.0 L178.5,213.0 L179.2,213.0 L179.8,213.0 L180.5,213.0 L181.2,213.0 L181.8,213.0 L182.5,213.0 L183.1,213.0 L183.8,213.0 L184.5,213.0 L185.1,213.0 L185.1,213.0 L184.5,213.0 L183.8,213.0 L183.1,213.0 L182.5,213.0 L181.8,213.0 L181.2,213.0 L180.5,213.0 L179.8,213.0 L179.2,213.0 L178.5,213.0 L177.8,213.0 L177.2,213.0 L176.5,213.0 L175.9,213.0 L175.2,213.0 L174.5,213.0 L173.9,213.0 L173.2,213.0 L172.6,213.0 L171.9,213.0 L171.2,213.0 L170.6,213.0 L169.9,213.0 L169.2,213.0 L168.6,213.0 L167.9,213.0 L167.3,213.0 L166.6,213.0 L165.9,213.0 L165.3,213.0 L164.6,213.0 L164.0,213.0 L163.3,213.0 L162.6,213.0 L162.0,213.0 L161.3,213.0 L160.6,213.0 L160.0,213.1 L159.3,213.1 L158.7,213.1 L158.0,213.1 L157.3,213.1 L156.7,213.1 L156.0,213.1 L155.4,213.2 L154.7,213.2 L154.0,213.2 L153.4,213.2 L152.7,213.2 L152.0,213.3 L151.4,213.3 L150.7,213.3 L150.1,213.3 L149.4,213.3 L148.7,213.3 L148.1,213.4 L147.4,213.4 L146.8,213.4 L146.1,213.4 L145.4,213.4 L144.8,213.4 L144.1,213.5 L143.4,213.5 L142.8,213.5 L142.1,213.5 L141.5,213.5 L140.8,213.5 L140.1,213.5 L139.5,213.6 L138.8,213.6 L138.2,213.6 L137.5,213.6 L136.8,213.6 L136.2,213.6 L135.5,213.6 L134.8,213.6 L134.2,213.6 L133.5,213.6 L132.9,213.6 L132.2,213.6 L131.5,213.6 L130.9,213.6 L130.2,213.6 L129.6,213.6 L128.9,213.6 L128.2,213.6 L127.6,213.6 L126.9,213.6 L126.3,213.6 L125.6,213.6 L124.9,213.6 L124.3,213.6 L123.6,213.6 L122.9,213.6 L122.3,213.7 L121.6,213.7 L121.0,213.7 L120.3,213.8 L119.6,213.8 L119.0,213.9 L118.3,214.1 L117.7,214.5 L117.0,215.4 L116.3,216.9 L115.7,219.2 L115.0,222.2 L114.3,225.5 L113.7,228.8 L113.0,231.5 L112.4,233.3 L111.7,234.4 L111.0,234.8 L110.4,234.9 L109.7,234.8 L109.1,234.3 L108.4,233.5 L107.7,232.5 L107.1,231.4 L106.4,230.2 L105.7,229.0 L105.1,227.9 L104.4,226.8 L103.8,225.8 L103.1,224.9 L102.4,224.0 L101.8,223.2 L101.1,222.6 L100.5,221.9 L99.8,221.4 L99.1,220.9 L98.5,220.4 L97.8,220.0 L97.1,219.6 L96.5,219.3 L95.8,219.0 L95.2,218.7 L94.5,218.4 L93.8,218.2 L93.2,218.0 L92.5,217.8 L91.9,217.6 L91.2,217.4 L90.5,217.3 L89.9,217.1 L89.2,217.0 L88.5,216.8 L87.9,216.7 L87.2,216.6 L86.6,216.5 L85.9,216.4 L85.2,216.3 L84.6,216.2 L83.9,216.2 L83.3,216.1 L82.6,216.0 L81.9,216.0 L81.3,215.9 L80.6,215.8 L79.9,215.8 L79.3,215.7 L78.6,215.7 L78.0,215.6 L77.3,215.6 L76.6,215.5 L76.0,215.5 L75.3,215.4 L74.7,215.4 L74.0,215.4 L73.3,215.3 L72.7,215.3 L72.0,215.3 L71.3,215.2 L70.7,215.2 L70.0,215.2 L69.4,215.2 L68.7,215.1 L68.0,215.1 L67.4,215.1 L66.7,215.1 L66.1,215.0 L65.4,215.0 L64.7,215.0 L64.1,215.0 L63.4,215.0 L62.8,214.9 L62.1,214.9 L61.4,214.9 L60.8,214.9 L60.1,214.9 L59.4,214.9 L58.8,214.8 L58.1,214.8 L57.5,214.8 L56.8,214.8 L56.1,214.8 L55.5,214.8 L54.8,214.8 L54.2,214.8 L53.5,214.7 L52.8,214.7 L52.2,214.7 L51.5,214.7 L50.8,214.7 L50.2,214.7 L49.5,214.7 L48.9,214.7 L48.2,214.7 L47.5,214.7 L46.9,214.6 L46.2,214.6 L45.6,214.6 L44.9,214.6 L44.2,214.6 L43.6,214.6 L42.9,214.6 L42.2,214.6 L41.6,214.6 L40.9,214.6 L40.3,214.6 L39.6,214.6" fill="none" stroke="#ff2020" stroke-width="1.15" stroke-linejoin="round" />
<path d="M39.6,213.8 L40.3,213.8 L40.9,213.8 L41.6,213.8 L42.2,213.8 L42.9,213.8 L43.6,213.8 L44.2,213.8 L44.9,213.8 L45.6,213.8 L46.2,213.8 L46.9,213.8 L47.5,213.8 L48.2,213.8 L48.9,213.8 L49.5,213.8 L50.2,213.8 L50.8,213.8 L51.5,213.8 L52.2,213.8 L52.8,213.8 L53.5,213.8 L54.2,213.8 L54.8,213.8 L55.5,213.8 L56.1,213.8 L56.8,213.8 L57.5,213.8 L58.1,213.8 L58.8,213.8 L59.4,213.8 L60.1,213.8 L60.8,213.8 L61.4,213.8 L62.1,213.8 L62.8,213.8 L63.4,213.8 L64.1,213.8 L64.7,213.8 L65.4,213.8 L66.1,213.8 L66.7,213.8 L67.4,213.8 L68.0,213.8 L68.7,213.8 L69.4,213.8 L70.0,213.8 L70.7,213.8 L71.3,213.8 L72.0,213.8 L72.7,213.8 L73.3,213.8 L74.0,213.8 L74.7,213.8 L75.3,213.8 L76.0,213.8 L76.6,213.8 L77.3,213.8 L78.0,213.8 L78.6,213.8 L79.3,213.8 L79.9,213.8 L80.6,213.8 L81.3,213.8 L81.9,213.8 L82.6,213.8 L83.3,213.8 L83.9,213.8 L84.6,213.8 L85.2,213.8 L85.9,213.8 L86.6,213.8 L87.2,213.8 L87.9,213.8 L88.5,213.8 L89.2,213.8 L89.9,213.8 L90.5,213.8 L91.2,213.8 L91.9,213.8 L92.5,213.8 L93.2,213.8 L93.8,213.8 L94.5,213.8 L95.2,213.8 L95.8,213.8 L96.5,213.8 L97.1,213.8 L97.8,213.8 L98.5,213.8 L99.1,213.8 L99.8,213.8 L100.5,213.8 L101.1,213.8 L101.8,213.7 L102.4,213.7 L103.1,213.7 L103.8,213.7 L104.4,213.7 L105.1,213.7 L105.7,213.7 L106.4,213.7 L107.1,213.7 L107.7,213.7 L108.4,213.7 L109.1,213.7 L109.7,213.6 L110.4,213.6 L111.0,213.6 L111.7,213.6 L112.4,213.6 L113.0,213.5 L113.7,213.5 L114.3,213.4 L115.0,213.3 L115.7,213.2 L116.3,213.1 L117.0,212.9 L117.7,212.7 L118.3,212.4 L119.0,212.0 L119.6,211.6 L120.3,211.1 L121.0,210.4 L121.6,209.7 L122.3,208.9 L122.9,207.9 L123.6,206.9 L124.3,205.7 L124.9,204.4 L125.6,203.1 L126.3,201.7 L126.9,200.3 L127.6,199.0 L128.2,197.7 L128.9,196.6 L129.6,195.6 L130.2,195.0 L130.9,194.6 L131.5,195.8 L132.2,199.1 L132.9,202.9 L133.5,206.3 L134.2,209.0 L134.8,211.0 L135.5,212.2 L136.2,212.9 L136.8,213.2 L137.5,213.4 L138.2,213.5 L138.8,213.5 L139.5,213.5 L140.1,213.5 L140.8,213.5 L141.5,213.5 L142.1,213.5 L142.8,213.5 L143.4,213.5 L144.1,213.5 L144.8,213.4 L145.4,213.4 L146.1,213.4 L146.8,213.4 L147.4,213.4 L148.1,213.4 L148.7,213.3 L149.4,213.3 L150.1,213.3 L150.7,213.3 L151.4,213.3 L152.0,213.3 L152.7,213.2 L153.4,213.2 L154.0,213.2 L154.7,213.2 L155.4,213.2 L156.0,213.1 L156.7,213.1 L157.3,213.1 L158.0,213.1 L158.7,213.1 L159.3,213.1 L160.0,213.1 L160.6,213.0 L161.3,213.0 L162.0,213.0 L162.6,213.0 L163.3,213.0 L164.0,213.0 L164.6,213.0 L165.3,213.0 L165.9,213.0 L166.6,213.0 L167.3,213.0 L167.9,213.0 L168.6,213.0 L169.2,213.0 L169.9,213.0 L170.6,213.0 L171.2,213.0 L171.9,213.0 L172.6,213.0 L173.2,213.0 L173.9,213.0 L174.5,213.0 L175.2,213.0 L175.9,213.0 L176.5,213.0 L177.2,213.0 L177.8,213.0 L178.5,213.0 L179.2,213.0 L179.8,213.0 L180.5,213.0 L181.2,213.0 L181.8,213.0 L182.5,213.0 L183.1,213.0 L183.8,213.0 L184.5,213.0 L185.1,213.0 L185.1,213.0 L184.5,213.0 L183.8,213.0 L183.1,213.0 L182.5,213.0 L181.8,213.0 L181.2,213.0 L180.5,213.0 L179.8,213.0 L179.2,213.0 L178.5,213.0 L177.8,213.0 L177.2,213.0 L176.5,213.0 L175.9,213.0 L175.2,213.0 L174.5,213.0 L173.9,213.0 L173.2,213.0 L172.6,213.0 L171.9,213.0 L171.2,213.0 L170.6,213.0 L169.9,213.0 L169.2,213.0 L168.6,213.0 L167.9,213.0 L167.3,213.0 L166.6,213.0 L165.9,213.0 L165.3,213.0 L164.6,213.0 L164.0,213.0 L163.3,213.0 L162.6,213.0 L162.0,213.0 L161.3,213.0 L160.6,213.0 L160.0,213.1 L159.3,213.1 L158.7,213.1 L158.0,213.1 L157.3,213.1 L156.7,213.1 L156.0,213.1 L155.4,213.2 L154.7,213.2 L154.0,213.2 L153.4,213.2 L152.7,213.2 L152.0,213.3 L151.4,213.3 L150.7,213.3 L150.1,213.3 L149.4,213.3 L148.7,213.3 L148.1,213.4 L147.4,213.4 L146.8,213.4 L146.1,213.4 L145.4,213.4 L144.8,213.4 L144.1,213.5 L143.4,213.5 L142.8,213.5 L142.1,213.5 L141.5,213.5 L140.8,213.5 L140.1,213.5 L139.5,213.6 L138.8,213.6 L138.2,213.6 L137.5,213.6 L136.8,213.6 L136.2,213.6 L135.5,213.6 L134.8,213.6 L134.2,213.6 L133.5,213.6 L132.9,213.6 L132.2,213.6 L131.5,213.6 L130.9,213.6 L130.2,213.6 L129.6,213.6 L128.9,213.6 L128.2,213.6 L127.6,213.6 L126.9,213.6 L126.3,213.6 L125.6,213.6 L124.9,213.6 L124.3,213.6 L123.6,213.6 L122.9,213.6 L122.3,213.6 L121.6,213.6 L121.0,213.7 L120.3,213.7 L119.6,213.7 L119.0,213.8 L118.3,214.1 L117.7,214.8 L117.0,216.3 L116.3,218.5 L115.7,221.2 L115.0,223.8 L114.3,225.7 L113.7,226.7 L113.0,227.1 L112.4,227.1 L111.7,226.9 L111.0,226.4 L110.4,225.8 L109.7,225.0 L109.1,224.2 L108.4,223.4 L107.7,222.6 L107.1,221.8 L106.4,221.1 L105.7,220.5 L105.1,219.9 L104.4,219.4 L103.8,219.0 L103.1,218.6 L102.4,218.2 L101.8,217.9 L101.1,217.6 L100.5,217.3 L99.8,217.1 L99.1,216.9 L98.5,216.7 L97.8,216.5 L97.1,216.3 L96.5,216.2 L95.8,216.1 L95.2,215.9 L94.5,215.8 L93.8,215.7 L93.2,215.6 L92.5,215.5 L91.9,215.5 L91.2,215.4 L90.5,215.3 L89.9,215.2 L89.2,215.2 L88.5,215.1 L87.9,215.1 L87.2,215.0 L86.6,215.0 L85.9,214.9 L85.2,214.9 L84.6,214.9 L83.9,214.8 L83.3,214.8 L82.6,214.7 L81.9,214.7 L81.3,214.7 L80.6,214.7 L79.9,214.6 L79.3,214.6 L78.6,214.6 L78.0,214.6 L77.3,214.5 L76.6,214.5 L76.0,214.5 L75.3,214.5 L74.7,214.5 L74.0,214.4 L73.3,214.4 L72.7,214.4 L72.0,214.4 L71.3,214.4 L70.7,214.4 L70.0,214.4 L69.4,214.3 L68.7,214.3 L68.0,214.3 L67.4,214.3 L66.7,214.3 L66.1,214.3 L65.4,214.3 L64.7,214.3 L64.1,214.3 L63.4,214.2 L62.8,214.2 L62.1,214.2 L61.4,214.2 L60.8,214.2 L60.1,214.2 L59.4,214.2 L58.8,214.2 L58.1,214.2 L57.5,214.2 L56.8,214.2 L56.1,214.2 L55.5,214.2 L54.8,214.1 L54.2,214.1 L53.5,214.1 L52.8,214.1 L52.2,214.1 L51.5,214.1 L50.8,214.1 L50.2,214.1 L49.5,214.1 L48.9,214.1 L48.2,214.1 L47.5,214.1 L46.9,214.1 L46.2,214.1 L45.6,214.1 L44.9,214.1 L44.2,214.1 L43.6,214.1 L42.9,214.1 L42.2,214.1 L41.6,214.1 L40.9,214.0 L40.3,214.0 L39.6,214.0" fill="none" stroke="#ff8c1a" stroke-width="1.15" stroke-linejoin="round" />
<path d="M127.3,202.0 L141.9,156.8" fill="none" stroke="#111" stroke-width="1.1" stroke-dasharray="2.2,1.4"/>
<line x1="134.60" y1="179.40" x2="140.87" y2="160.00" stroke="#111" stroke-width="0.01"/>
<path d="M141.90,156.80 L142.42,161.38 L138.80,160.21 Z" fill="#111"/>
<path d="M112.5,226.0 L106.4,254.5" fill="none" stroke="#111" stroke-width="1.1" stroke-dasharray="2.2,1.4"/>
<line x1="109.45" y1="240.25" x2="107.10" y2="251.21" stroke="#111" stroke-width="0.01"/>
<path d="M106.40,254.50 L105.42,250.00 L109.14,250.79 Z" fill="#111"/>
<text x="146.80" y="165.50" font-size="8.8" font-family="Liberation Serif" fill="#161616" stroke="#161616" stroke-width="0.12" text-anchor="start" >I<tspan font-size="0.85em" dy="2.0">A</tspan><tspan dy="-2.0"></tspan></text>
<text x="109.50" y="261.20" font-size="8.8" font-family="Liberation Serif" fill="#161616" stroke="#161616" stroke-width="0.12" text-anchor="start" >I<tspan font-size="0.85em" dy="2.0">C</tspan><tspan dy="-2.0"></tspan></text>
<rect x="218.30" y="151.30" width="145.40" height="115.70" fill="none" stroke="#2a2a2a" stroke-width="1.2"/>
<line x1="216.10" y1="151.60" x2="218.30" y2="151.60" stroke="#2a2a2a" stroke-width="0.9"/>
<text x="214.60" y="153.94" font-size="7.1" font-family="Liberation Serif" fill="#555555" text-anchor="end" textLength="15.2" lengthAdjust="spacingAndGlyphs">0.004</text>
<line x1="216.10" y1="167.10" x2="218.30" y2="167.10" stroke="#2a2a2a" stroke-width="0.9"/>
<text x="214.60" y="169.44" font-size="7.1" font-family="Liberation Serif" fill="#555555" text-anchor="end" textLength="15.2" lengthAdjust="spacingAndGlyphs">0.003</text>
<line x1="216.10" y1="182.60" x2="218.30" y2="182.60" stroke="#2a2a2a" stroke-width="0.9"/>
<text x="214.60" y="184.94" font-size="7.1" font-family="Liberation Serif" fill="#555555" text-anchor="end" textLength="15.2" lengthAdjust="spacingAndGlyphs">0.002</text>
<line x1="216.10" y1="198.10" x2="218.30" y2="198.10" stroke="#2a2a2a" stroke-width="0.9"/>
<text x="214.60" y="200.44" font-size="7.1" font-family="Liberation Serif" fill="#555555" text-anchor="end" textLength="15.2" lengthAdjust="spacingAndGlyphs">0.001</text>
<line x1="216.10" y1="213.60" x2="218.30" y2="213.60" stroke="#2a2a2a" stroke-width="0.9"/>
<text x="214.60" y="215.94" font-size="7.1" font-family="Liberation Serif" fill="#555555" text-anchor="end" textLength="15.2" lengthAdjust="spacingAndGlyphs">0.000</text>
<line x1="216.10" y1="229.10" x2="218.30" y2="229.10" stroke="#2a2a2a" stroke-width="0.9"/>
<text x="214.60" y="231.44" font-size="7.1" font-family="Liberation Serif" fill="#555555" text-anchor="end" textLength="18.3" lengthAdjust="spacingAndGlyphs">-0.001</text>
<line x1="216.10" y1="244.60" x2="218.30" y2="244.60" stroke="#2a2a2a" stroke-width="0.9"/>
<text x="214.60" y="246.94" font-size="7.1" font-family="Liberation Serif" fill="#555555" text-anchor="end" textLength="18.3" lengthAdjust="spacingAndGlyphs">-0.002</text>
<line x1="216.10" y1="260.10" x2="218.30" y2="260.10" stroke="#2a2a2a" stroke-width="0.9"/>
<text x="214.60" y="262.44" font-size="7.1" font-family="Liberation Serif" fill="#555555" text-anchor="end" textLength="18.3" lengthAdjust="spacingAndGlyphs">-0.003</text>
<line x1="217.00" y1="159.35" x2="218.30" y2="159.35" stroke="#2a2a2a" stroke-width="0.8"/>
<line x1="217.00" y1="174.85" x2="218.30" y2="174.85" stroke="#2a2a2a" stroke-width="0.8"/>
<line x1="217.00" y1="190.35" x2="218.30" y2="190.35" stroke="#2a2a2a" stroke-width="0.8"/>
<line x1="217.00" y1="205.85" x2="218.30" y2="205.85" stroke="#2a2a2a" stroke-width="0.8"/>
<line x1="217.00" y1="221.35" x2="218.30" y2="221.35" stroke="#2a2a2a" stroke-width="0.8"/>
<line x1="217.00" y1="236.85" x2="218.30" y2="236.85" stroke="#2a2a2a" stroke-width="0.8"/>
<line x1="217.00" y1="252.35" x2="218.30" y2="252.35" stroke="#2a2a2a" stroke-width="0.8"/>
<line x1="217.00" y1="267.85" x2="218.30" y2="267.85" stroke="#2a2a2a" stroke-width="0.8"/>
<line x1="244.25" y1="267.00" x2="244.25" y2="269.20" stroke="#2a2a2a" stroke-width="0.9"/>
<text x="244.25" y="277.00" font-size="7.1" font-family="Liberation Serif" fill="#555555" text-anchor="middle" textLength="9.1" lengthAdjust="spacingAndGlyphs">2.8</text>
<line x1="278.45" y1="267.00" x2="278.45" y2="269.20" stroke="#2a2a2a" stroke-width="0.9"/>
<text x="278.45" y="277.00" font-size="7.1" font-family="Liberation Serif" fill="#555555" text-anchor="middle" textLength="9.1" lengthAdjust="spacingAndGlyphs">3.2</text>
<line x1="312.65" y1="267.00" x2="312.65" y2="269.20" stroke="#2a2a2a" stroke-width="0.9"/>
<text x="312.65" y="277.00" font-size="7.1" font-family="Liberation Serif" fill="#555555" text-anchor="middle" textLength="9.1" lengthAdjust="spacingAndGlyphs">3.6</text>
<line x1="346.85" y1="267.00" x2="346.85" y2="269.20" stroke="#2a2a2a" stroke-width="0.9"/>
<text x="346.85" y="277.00" font-size="7.1" font-family="Liberation Serif" fill="#555555" text-anchor="middle" textLength="9.1" lengthAdjust="spacingAndGlyphs">4.0</text>
<line x1="227.15" y1="267.00" x2="227.15" y2="268.30" stroke="#2a2a2a" stroke-width="0.8"/>
<line x1="261.35" y1="267.00" x2="261.35" y2="268.30" stroke="#2a2a2a" stroke-width="0.8"/>
<line x1="295.55" y1="267.00" x2="295.55" y2="268.30" stroke="#2a2a2a" stroke-width="0.8"/>
<line x1="329.75" y1="267.00" x2="329.75" y2="268.30" stroke="#2a2a2a" stroke-width="0.8"/>
<text x="186.00" y="160.60" font-size="13.5" font-family="Liberation Serif" fill="#161616" stroke="#161616" stroke-width="0.12" text-anchor="start" >(e)</text>
<text x="221.40" y="161.00" font-size="7.6" font-family="Liberation Serif" fill="#161616" stroke="#161616" stroke-width="0.12" text-anchor="start" >LFP/C-Nb<tspan font-size="0.72em" dy="1.8">1</tspan><tspan dy="-1.8"></tspan></text>
<text x="0" y="0" font-size="7.6" font-family="Liberation Serif" fill="#161616" text-anchor="middle" transform="translate(194.50,207.40) rotate(-90)">Current(A)</text>
<text x="258.00" y="285.20" font-size="7.7" font-family="Liberation Serif" fill="#161616" stroke="#161616" stroke-width="0.12" text-anchor="start" >Potential(V vs.Li<tspan font-size="0.6em" dy="-3">+</tspan><tspan dy="3">/Li)</tspan></text>
<line x1="222.3" y1="167.70" x2="239.6" y2="167.70" stroke="#ff8c1a" stroke-width="1.2"/>
<text x="241.10" y="170.40" font-size="8" font-family="Liberation Serif" fill="#161616" stroke="#161616" stroke-width="0.12" text-anchor="start" >0.1mV/s</text>
<line x1="222.3" y1="177.30" x2="239.6" y2="177.30" stroke="#ff2020" stroke-width="1.2"/>
<text x="241.10" y="180.00" font-size="8" font-family="Liberation Serif" fill="#161616" stroke="#161616" stroke-width="0.12" text-anchor="start" >0.2mV/s</text>
<line x1="222.3" y1="186.80" x2="239.6" y2="186.80" stroke="#1a1aff" stroke-width="1.2"/>
<text x="241.10" y="189.50" font-size="8" font-family="Liberation Serif" fill="#161616" stroke="#161616" stroke-width="0.12" text-anchor="start" >0.3mV/s</text>
<line x1="222.3" y1="196.00" x2="239.6" y2="196.00" stroke="#1fdf1f" stroke-width="1.2"/>
<text x="241.10" y="198.70" font-size="8" font-family="Liberation Serif" fill="#161616" stroke="#161616" stroke-width="0.12" text-anchor="start" >0.4mV/s</text>
<line x1="222.3" y1="205.20" x2="239.6" y2="205.20" stroke="#ff1fff" stroke-width="1.2"/>
<text x="241.10" y="207.90" font-size="8" font-family="Liberation Serif" fill="#161616" stroke="#161616" stroke-width="0.12" text-anchor="start" >0.5mV/s</text>
<path d="M218.6,214.8 L219.3,214.8 L219.9,214.8 L220.6,214.8 L221.2,214.8 L221.9,214.8 L222.6,214.8 L223.2,214.8 L223.9,214.8 L224.5,214.8 L225.2,214.8 L225.9,214.8 L226.5,214.8 L227.2,214.8 L227.8,214.8 L228.5,214.8 L229.2,214.8 L229.8,214.8 L230.5,214.8 L231.2,214.8 L231.8,214.8 L232.5,214.8 L233.1,214.8 L233.8,214.8 L234.5,214.8 L235.1,214.8 L235.8,214.8 L236.4,214.8 L237.1,214.8 L237.8,214.8 L238.4,214.8 L239.1,214.8 L239.7,214.8 L240.4,214.8 L241.1,214.8 L241.7,214.8 L242.4,214.8 L243.0,214.8 L243.7,214.8 L244.4,214.8 L245.0,214.8 L245.7,214.8 L246.3,214.8 L247.0,214.8 L247.7,214.8 L248.3,214.8 L249.0,214.8 L249.7,214.8 L250.3,214.8 L251.0,214.8 L251.6,214.8 L252.3,214.8 L253.0,214.8 L253.6,214.8 L254.3,214.8 L254.9,214.8 L255.6,214.8 L256.3,214.8 L256.9,214.8 L257.6,214.8 L258.2,214.8 L258.9,214.8 L259.6,214.8 L260.2,214.8 L260.9,214.8 L261.5,214.8 L262.2,214.8 L262.9,214.8 L263.5,214.8 L264.2,214.8 L264.8,214.8 L265.5,214.8 L266.2,214.8 L266.8,214.8 L267.5,214.8 L268.2,214.8 L268.8,214.8 L269.5,214.8 L270.1,214.8 L270.8,214.8 L271.5,214.8 L272.1,214.8 L272.8,214.8 L273.4,214.8 L274.1,214.8 L274.8,214.8 L275.4,214.7 L276.1,214.7 L276.7,214.7 L277.4,214.6 L278.1,214.6 L278.7,214.6 L279.4,214.5 L280.0,214.5 L280.7,214.5 L281.4,214.4 L282.0,214.4 L282.7,214.4 L283.3,214.3 L284.0,214.3 L284.7,214.2 L285.3,214.2 L286.0,214.2 L286.7,214.1 L287.3,214.1 L288.0,214.0 L288.6,214.0 L289.3,214.0 L290.0,213.9 L290.6,213.9 L291.3,213.8 L291.9,213.8 L292.6,213.8 L293.3,213.8 L293.9,213.7 L294.6,213.7 L295.2,213.7 L295.9,213.7 L296.6,213.6 L297.2,213.6 L297.9,213.6 L298.5,213.5 L299.2,213.4 L299.9,213.2 L300.5,213.0 L301.2,212.6 L301.8,212.0 L302.5,211.1 L303.2,209.9 L303.8,208.4 L304.5,206.5 L305.1,204.4 L305.8,202.1 L306.5,199.8 L307.1,197.7 L307.8,196.1 L308.5,195.0 L309.1,194.7 L309.8,195.0 L310.4,195.9 L311.1,197.2 L311.8,198.7 L312.4,200.4 L313.1,202.1 L313.7,203.7 L314.4,205.2 L315.1,206.5 L315.7,207.6 L316.4,208.5 L317.0,209.3 L317.7,210.0 L318.4,210.5 L319.0,211.0 L319.7,211.4 L320.3,211.7 L321.0,211.9 L321.7,212.1 L322.3,212.3 L323.0,212.4 L323.6,212.5 L324.3,212.6 L325.0,212.7 L325.6,212.7 L326.3,212.8 L327.0,212.8 L327.6,212.8 L328.3,212.9 L328.9,212.9 L329.6,212.9 L330.3,212.9 L330.9,212.9 L331.6,212.9 L332.2,212.9 L332.9,212.8 L333.6,212.8 L334.2,212.8 L334.9,212.8 L335.5,212.8 L336.2,212.8 L336.9,212.8 L337.5,212.8 L338.2,212.7 L338.8,212.7 L339.5,212.7 L340.2,212.7 L340.8,212.7 L341.5,212.7 L342.1,212.7 L342.8,212.7 L343.5,212.7 L344.1,212.6 L344.8,212.6 L345.5,212.6 L346.1,212.6 L346.8,212.6 L347.4,212.6 L348.1,212.6 L348.8,212.6 L349.4,212.6 L350.1,212.6 L350.7,212.7 L351.4,212.7 L352.1,212.7 L352.7,212.7 L353.4,212.7 L354.0,212.7 L354.7,212.7 L355.4,212.7 L356.0,212.7 L356.7,212.7 L357.3,212.7 L358.0,212.7 L358.7,212.7 L359.3,212.7 L360.0,212.7 L360.6,212.7 L361.3,212.7 L362.0,212.7 L362.6,212.7 L363.3,212.7 L364.0,212.7 L364.0,212.7 L363.3,212.7 L362.6,212.7 L362.0,212.7 L361.3,212.7 L360.6,212.7 L360.0,212.7 L359.3,212.7 L358.7,212.7 L358.0,212.7 L357.3,212.7 L356.7,212.7 L356.0,212.7 L355.4,212.7 L354.7,212.7 L354.0,212.7 L353.4,212.7 L352.7,212.7 L352.1,212.7 L351.4,212.7 L350.7,212.7 L350.1,212.7 L349.4,212.7 L348.8,212.7 L348.1,212.7 L347.4,212.7 L346.8,212.7 L346.1,212.7 L345.5,212.7 L344.8,212.7 L344.1,212.7 L343.5,212.7 L342.8,212.7 L342.1,212.7 L341.5,212.7 L340.8,212.7 L340.2,212.8 L339.5,212.8 L338.8,212.8 L338.2,212.8 L337.5,212.8 L336.9,212.9 L336.2,212.9 L335.5,212.9 L334.9,212.9 L334.2,213.0 L333.6,213.0 L332.9,213.0 L332.2,213.0 L331.6,213.1 L330.9,213.1 L330.3,213.1 L329.6,213.1 L328.9,213.2 L328.3,213.2 L327.6,213.2 L327.0,213.2 L326.3,213.3 L325.6,213.3 L325.0,213.3 L324.3,213.3 L323.6,213.4 L323.0,213.4 L322.3,213.4 L321.7,213.4 L321.0,213.5 L320.3,213.5 L319.7,213.5 L319.0,213.5 L318.4,213.5 L317.7,213.5 L317.0,213.6 L316.4,213.6 L315.7,213.6 L315.1,213.6 L314.4,213.6 L313.7,213.6 L313.1,213.6 L312.4,213.6 L311.8,213.6 L311.1,213.6 L310.4,213.6 L309.8,213.6 L309.1,213.6 L308.5,213.6 L307.8,213.6 L307.1,213.6 L306.5,213.6 L305.8,213.6 L305.1,213.6 L304.5,213.6 L303.8,213.6 L303.2,213.6 L302.5,213.7 L301.8,213.7 L301.2,213.8 L300.5,213.8 L299.9,213.9 L299.2,214.0 L298.5,214.1 L297.9,214.2 L297.2,214.3 L296.6,214.4 L295.9,214.5 L295.2,214.6 L294.6,214.7 L293.9,215.2 L293.3,216.8 L292.6,219.9 L291.9,224.0 L291.3,227.4 L290.6,229.1 L290.0,229.4 L289.3,229.3 L288.6,229.0 L288.0,228.4 L287.3,227.6 L286.7,226.7 L286.0,225.8 L285.3,224.9 L284.7,224.0 L284.0,223.1 L283.3,222.3 L282.7,221.6 L282.0,221.0 L281.4,220.4 L280.7,219.9 L280.0,219.5 L279.4,219.1 L278.7,218.7 L278.1,218.4 L277.4,218.1 L276.7,217.8 L276.1,217.6 L275.4,217.4 L274.8,217.2 L274.1,217.1 L273.4,216.9 L272.8,216.8 L272.1,216.7 L271.5,216.5 L270.8,216.4 L270.1,216.3 L269.5,216.3 L268.8,216.2 L268.2,216.1 L267.5,216.0 L266.8,216.0 L266.2,215.9 L265.5,215.9 L264.8,215.8 L264.2,215.8 L263.5,215.7 L262.9,215.7 L262.2,215.6 L261.5,215.6 L260.9,215.6 L260.2,215.5 L259.6,215.5 L258.9,215.5 L258.2,215.5 L257.6,215.4 L256.9,215.4 L256.3,215.4 L255.6,215.4 L254.9,215.4 L254.3,215.3 L253.6,215.3 L253.0,215.3 L252.3,215.3 L251.6,215.3 L251.0,215.3 L250.3,215.2 L249.7,215.2 L249.0,215.2 L248.3,215.2 L247.7,215.2 L247.0,215.2 L246.3,215.2 L245.7,215.2 L245.0,215.2 L244.4,215.1 L243.7,215.1 L243.0,215.1 L242.4,215.1 L241.7,215.1 L241.1,215.1 L240.4,215.1 L239.7,215.1 L239.1,215.1 L238.4,215.1 L237.8,215.1 L237.1,215.1 L236.4,215.1 L235.8,215.1 L235.1,215.1 L234.5,215.0 L233.8,215.0 L233.1,215.0 L232.5,215.0 L231.8,215.0 L231.2,215.0 L230.5,215.0 L229.8,215.0 L229.2,215.0 L228.5,215.0 L227.8,215.0 L227.2,215.0 L226.5,215.0 L225.9,215.0 L225.2,215.0 L224.5,215.0 L223.9,215.0 L223.2,215.0 L222.6,215.0 L221.9,215.0 L221.2,215.0 L220.6,215.0 L219.9,215.0 L219.3,215.0 L218.6,215.0" fill="none" stroke="#ff8c1a" stroke-width="1.15" stroke-linejoin="round" />
<path d="M218.6,215.2 L219.3,215.2 L219.9,215.2 L220.6,215.2 L221.2,215.2 L221.9,215.2 L222.6,215.2 L223.2,215.2 L223.9,215.2 L224.5,215.2 L225.2,215.2 L225.9,215.2 L226.5,215.2 L227.2,215.2 L227.8,215.2 L228.5,215.2 L229.2,215.2 L229.8,215.2 L230.5,215.2 L231.2,215.2 L231.8,215.2 L232.5,215.2 L233.1,215.2 L233.8,215.2 L234.5,215.2 L235.1,215.2 L235.8,215.2 L236.4,215.2 L237.1,215.2 L237.8,215.2 L238.4,215.2 L239.1,215.2 L239.7,215.2 L240.4,215.2 L241.1,215.2 L241.7,215.2 L242.4,215.2 L243.0,215.2 L243.7,215.2 L244.4,215.2 L245.0,215.2 L245.7,215.2 L246.3,215.2 L247.0,215.2 L247.7,215.2 L248.3,215.2 L249.0,215.2 L249.7,215.2 L250.3,215.2 L251.0,215.2 L251.6,215.2 L252.3,215.2 L253.0,215.2 L253.6,215.2 L254.3,215.2 L254.9,215.2 L255.6,215.2 L256.3,215.2 L256.9,215.2 L257.6,215.2 L258.2,215.2 L258.9,215.2 L259.6,215.2 L260.2,215.2 L260.9,215.2 L261.5,215.2 L262.2,215.2 L262.9,215.2 L263.5,215.2 L264.2,215.2 L264.8,215.2 L265.5,215.2 L266.2,215.2 L266.8,215.2 L267.5,215.2 L268.2,215.2 L268.8,215.2 L269.5,215.2 L270.1,215.1 L270.8,215.1 L271.5,215.1 L272.1,215.1 L272.8,215.1 L273.4,215.1 L274.1,215.1 L274.8,215.0 L275.4,215.0 L276.1,215.0 L276.7,214.9 L277.4,214.9 L278.1,214.9 L278.7,214.8 L279.4,214.8 L280.0,214.7 L280.7,214.7 L281.4,214.6 L282.0,214.6 L282.7,214.5 L283.3,214.5 L284.0,214.4 L284.7,214.4 L285.3,214.3 L286.0,214.3 L286.7,214.2 L287.3,214.2 L288.0,214.1 L288.6,214.1 L289.3,214.0 L290.0,214.0 L290.6,214.0 L291.3,213.9 L291.9,213.9 L292.6,213.8 L293.3,213.8 L293.9,213.8 L294.6,213.7 L295.2,213.7 L295.9,213.6 L296.6,213.6 L297.2,213.5 L297.9,213.4 L298.5,213.3 L299.2,213.1 L299.9,212.8 L300.5,212.3 L301.2,211.7 L301.8,210.8 L302.5,209.6 L303.2,208.0 L303.8,206.1 L304.5,203.9 L305.1,201.3 L305.8,198.4 L306.5,195.5 L307.1,192.7 L307.8,190.1 L308.5,188.1 L309.1,186.6 L309.8,185.9 L310.4,186.0 L311.1,186.8 L311.8,188.3 L312.4,190.2 L313.1,192.3 L313.7,194.5 L314.4,196.7 L315.1,198.8 L315.7,200.7 L316.4,202.3 L317.0,203.8 L317.7,205.1 L318.4,206.2 L319.0,207.1 L319.7,207.9 L320.3,208.6 L321.0,209.2 L321.7,209.6 L322.3,210.1 L323.0,210.4 L323.6,210.7 L324.3,211.0 L325.0,211.2 L325.6,211.4 L326.3,211.6 L327.0,211.7 L327.6,211.8 L328.3,211.9 L328.9,212.0 L329.6,212.1 L330.3,212.1 L330.9,212.2 L331.6,212.2 L332.2,212.3 L332.9,212.3 L333.6,212.3 L334.2,212.4 L334.9,212.4 L335.5,212.4 L336.2,212.4 L336.9,212.4 L337.5,212.4 L338.2,212.4 L338.8,212.4 L339.5,212.4 L340.2,212.4 L340.8,212.4 L341.5,212.4 L342.1,212.4 L342.8,212.5 L343.5,212.5 L344.1,212.5 L344.8,212.5 L345.5,212.5 L346.1,212.5 L346.8,212.5 L347.4,212.5 L348.1,212.5 L348.8,212.5 L349.4,212.5 L350.1,212.5 L350.7,212.5 L351.4,212.5 L352.1,212.5 L352.7,212.6 L353.4,212.6 L354.0,212.6 L354.7,212.6 L355.4,212.6 L356.0,212.6 L356.7,212.6 L357.3,212.6 L358.0,212.6 L358.7,212.6 L359.3,212.6 L360.0,212.6 L360.6,212.6 L361.3,212.6 L362.0,212.6 L362.6,212.6 L363.3,212.6 L364.0,212.6 L364.0,212.7 L363.3,212.7 L362.6,212.7 L362.0,212.7 L361.3,212.7 L360.6,212.7 L360.0,212.7 L359.3,212.7 L358.7,212.7 L358.0,212.7 L357.3,212.7 L356.7,212.7 L356.0,212.7 L355.4,212.7 L354.7,212.7 L354.0,212.7 L353.4,212.7 L352.7,212.7 L352.1,212.7 L351.4,212.7 L350.7,212.7 L350.1,212.7 L349.4,212.7 L348.8,212.7 L348.1,212.7 L347.4,212.7 L346.8,212.7 L346.1,212.7 L345.5,212.7 L344.8,212.7 L344.1,212.7 L343.5,212.7 L342.8,212.7 L342.1,212.7 L341.5,212.7 L340.8,212.7 L340.2,212.8 L339.5,212.8 L338.8,212.8 L338.2,212.8 L337.5,212.8 L336.9,212.9 L336.2,212.9 L335.5,212.9 L334.9,212.9 L334.2,213.0 L333.6,213.0 L332.9,213.0 L332.2,213.0 L331.6,213.1 L330.9,213.1 L330.3,213.1 L329.6,213.1 L328.9,213.2 L328.3,213.2 L327.6,213.2 L327.0,213.2 L326.3,213.3 L325.6,213.3 L325.0,213.3 L324.3,213.3 L323.6,213.4 L323.0,213.4 L322.3,213.4 L321.7,213.4 L321.0,213.5 L320.3,213.5 L319.7,213.5 L319.0,213.5 L318.4,213.5 L317.7,213.5 L317.0,213.6 L316.4,213.6 L315.7,213.6 L315.1,213.6 L314.4,213.6 L313.7,213.6 L313.1,213.6 L312.4,213.6 L311.8,213.6 L311.1,213.6 L310.4,213.6 L309.8,213.6 L309.1,213.6 L308.5,213.6 L307.8,213.6 L307.1,213.6 L306.5,213.6 L305.8,213.6 L305.1,213.6 L304.5,213.6 L303.8,213.6 L303.2,213.6 L302.5,213.7 L301.8,213.7 L301.2,213.8 L300.5,213.9 L299.9,214.0 L299.2,214.1 L298.5,214.2 L297.9,214.3 L297.2,214.5 L296.6,214.6 L295.9,214.7 L295.2,214.8 L294.6,215.0 L293.9,215.3 L293.3,216.0 L292.6,217.8 L291.9,220.8 L291.3,225.0 L290.6,229.5 L290.0,233.4 L289.3,235.9 L288.6,237.0 L288.0,237.3 L287.3,237.2 L286.7,236.8 L286.0,236.1 L285.3,235.1 L284.7,233.9 L284.0,232.6 L283.3,231.3 L282.7,230.0 L282.0,228.8 L281.4,227.6 L280.7,226.5 L280.0,225.6 L279.4,224.7 L278.7,223.8 L278.1,223.1 L277.4,222.5 L276.7,221.9 L276.1,221.3 L275.4,220.9 L274.8,220.4 L274.1,220.0 L273.4,219.7 L272.8,219.4 L272.1,219.1 L271.5,218.8 L270.8,218.6 L270.1,218.4 L269.5,218.2 L268.8,218.0 L268.2,217.8 L267.5,217.7 L266.8,217.5 L266.2,217.4 L265.5,217.3 L264.8,217.2 L264.2,217.1 L263.5,217.0 L262.9,216.9 L262.2,216.8 L261.5,216.7 L260.9,216.7 L260.2,216.6 L259.6,216.5 L258.9,216.5 L258.2,216.4 L257.6,216.4 L256.9,216.3 L256.3,216.3 L255.6,216.2 L254.9,216.2 L254.3,216.1 L253.6,216.1 L253.0,216.1 L252.3,216.0 L251.6,216.0 L251.0,216.0 L250.3,216.0 L249.7,215.9 L249.0,215.9 L248.3,215.9 L247.7,215.9 L247.0,215.8 L246.3,215.8 L245.7,215.8 L245.0,215.8 L244.4,215.8 L243.7,215.7 L243.0,215.7 L242.4,215.7 L241.7,215.7 L241.1,215.7 L240.4,215.7 L239.7,215.6 L239.1,215.6 L238.4,215.6 L237.8,215.6 L237.1,215.6 L236.4,215.6 L235.8,215.6 L235.1,215.6 L234.5,215.6 L233.8,215.5 L233.1,215.5 L232.5,215.5 L231.8,215.5 L231.2,215.5 L230.5,215.5 L229.8,215.5 L229.2,215.5 L228.5,215.5 L227.8,215.5 L227.2,215.5 L226.5,215.5 L225.9,215.5 L225.2,215.4 L224.5,215.4 L223.9,215.4 L223.2,215.4 L222.6,215.4 L221.9,215.4 L221.2,215.4 L220.6,215.4 L219.9,215.4 L219.3,215.4 L218.6,215.4" fill="none" stroke="#ff2020" stroke-width="1.15" stroke-linejoin="round" />
<path d="M218.6,215.5 L219.3,215.5 L219.9,215.5 L220.6,215.5 L221.2,215.5 L221.9,215.5 L222.6,215.5 L223.2,215.5 L223.9,215.5 L224.5,215.5 L225.2,215.5 L225.9,215.5 L226.5,215.5 L227.2,215.5 L227.8,215.5 L228.5,215.5 L229.2,215.5 L229.8,215.5 L230.5,215.5 L231.2,215.5 L231.8,215.5 L232.5,215.5 L233.1,215.5 L233.8,215.5 L234.5,215.5 L235.1,215.5 L235.8,215.5 L236.4,215.5 L237.1,215.5 L237.8,215.5 L238.4,215.5 L239.1,215.5 L239.7,215.5 L240.4,215.5 L241.1,215.5 L241.7,215.5 L242.4,215.5 L243.0,215.5 L243.7,215.5 L244.4,215.5 L245.0,215.5 L245.7,215.5 L246.3,215.5 L247.0,215.5 L247.7,215.5 L248.3,215.5 L249.0,215.5 L249.7,215.5 L250.3,215.5 L251.0,215.5 L251.6,215.5 L252.3,215.5 L253.0,215.5 L253.6,215.5 L254.3,215.5 L254.9,215.5 L255.6,215.5 L256.3,215.5 L256.9,215.5 L257.6,215.5 L258.2,215.5 L258.9,215.5 L259.6,215.5 L260.2,215.5 L260.9,215.5 L261.5,215.5 L262.2,215.5 L262.9,215.5 L263.5,215.5 L264.2,215.5 L264.8,215.5 L265.5,215.5 L266.2,215.5 L266.8,215.5 L267.5,215.5 L268.2,215.5 L268.8,215.5 L269.5,215.5 L270.1,215.5 L270.8,215.5 L271.5,215.4 L272.1,215.4 L272.8,215.4 L273.4,215.4 L274.1,215.4 L274.8,215.3 L275.4,215.3 L276.1,215.3 L276.7,215.2 L277.4,215.2 L278.1,215.1 L278.7,215.1 L279.4,215.0 L280.0,215.0 L280.7,214.9 L281.4,214.9 L282.0,214.8 L282.7,214.7 L283.3,214.7 L284.0,214.6 L284.7,214.5 L285.3,214.5 L286.0,214.4 L286.7,214.4 L287.3,214.3 L288.0,214.2 L288.6,214.2 L289.3,214.1 L290.0,214.1 L290.6,214.0 L291.3,214.0 L291.9,213.9 L292.6,213.9 L293.3,213.8 L293.9,213.8 L294.6,213.7 L295.2,213.7 L295.9,213.6 L296.6,213.6 L297.2,213.5 L297.9,213.4 L298.5,213.2 L299.2,213.0 L299.9,212.6 L300.5,212.1 L301.2,211.5 L301.8,210.6 L302.5,209.5 L303.2,208.0 L303.8,206.2 L304.5,204.0 L305.1,201.5 L305.8,198.6 L306.5,195.5 L307.1,192.2 L307.8,189.0 L308.5,185.9 L309.1,183.1 L309.8,180.8 L310.4,179.1 L311.1,178.1 L311.8,178.0 L312.4,178.7 L313.1,180.1 L313.7,182.1 L314.4,184.5 L315.1,187.1 L315.7,189.7 L316.4,192.2 L317.0,194.5 L317.7,196.6 L318.4,198.5 L319.0,200.2 L319.7,201.6 L320.3,202.9 L321.0,204.0 L321.7,205.0 L322.3,205.8 L323.0,206.6 L323.6,207.2 L324.3,207.8 L325.0,208.3 L325.6,208.7 L326.3,209.1 L327.0,209.4 L327.6,209.7 L328.3,209.9 L328.9,210.2 L329.6,210.4 L330.3,210.5 L330.9,210.7 L331.6,210.8 L332.2,211.0 L332.9,211.1 L333.6,211.2 L334.2,211.3 L334.9,211.3 L335.5,211.4 L336.2,211.5 L336.9,211.5 L337.5,211.6 L338.2,211.6 L338.8,211.7 L339.5,211.7 L340.2,211.8 L340.8,211.8 L341.5,211.8 L342.1,211.9 L342.8,211.9 L343.5,211.9 L344.1,211.9 L344.8,212.0 L345.5,212.0 L346.1,212.0 L346.8,212.0 L347.4,212.1 L348.1,212.1 L348.8,212.1 L349.4,212.1 L350.1,212.2 L350.7,212.2 L351.4,212.2 L352.1,212.2 L352.7,212.2 L353.4,212.3 L354.0,212.3 L354.7,212.3 L355.4,212.3 L356.0,212.3 L356.7,212.3 L357.3,212.3 L358.0,212.3 L358.7,212.4 L359.3,212.4 L360.0,212.4 L360.6,212.4 L361.3,212.4 L362.0,212.4 L362.6,212.4 L363.3,212.4 L364.0,212.4 L364.0,212.7 L363.3,212.7 L362.6,212.7 L362.0,212.7 L361.3,212.7 L360.6,212.7 L360.0,212.7 L359.3,212.7 L358.7,212.7 L358.0,212.7 L357.3,212.7 L356.7,212.7 L356.0,212.7 L355.4,212.7 L354.7,212.7 L354.0,212.7 L353.4,212.7 L352.7,212.7 L352.1,212.7 L351.4,212.7 L350.7,212.7 L350.1,212.7 L349.4,212.7 L348.8,212.7 L348.1,212.7 L347.4,212.7 L346.8,212.7 L346.1,212.7 L345.5,212.7 L344.8,212.7 L344.1,212.7 L343.5,212.7 L342.8,212.7 L342.1,212.7 L341.5,212.7 L340.8,212.7 L340.2,212.8 L339.5,212.8 L338.8,212.8 L338.2,212.8 L337.5,212.8 L336.9,212.9 L336.2,212.9 L335.5,212.9 L334.9,212.9 L334.2,213.0 L333.6,213.0 L332.9,213.0 L332.2,213.0 L331.6,213.1 L330.9,213.1 L330.3,213.1 L329.6,213.1 L328.9,213.2 L328.3,213.2 L327.6,213.2 L327.0,213.2 L326.3,213.3 L325.6,213.3 L325.0,213.3 L324.3,213.3 L323.6,213.4 L323.0,213.4 L322.3,213.4 L321.7,213.4 L321.0,213.5 L320.3,213.5 L319.7,213.5 L319.0,213.5 L318.4,213.5 L317.7,213.5 L317.0,213.6 L316.4,213.6 L315.7,213.6 L315.1,213.6 L314.4,213.6 L313.7,213.6 L313.1,213.6 L312.4,213.6 L311.8,213.6 L311.1,213.6 L310.4,213.6 L309.8,213.6 L309.1,213.6 L308.5,213.6 L307.8,213.6 L307.1,213.6 L306.5,213.6 L305.8,213.6 L305.1,213.6 L304.5,213.6 L303.8,213.6 L303.2,213.6 L302.5,213.7 L301.8,213.8 L301.2,213.8 L300.5,214.0 L299.9,214.1 L299.2,214.2 L298.5,214.3 L297.9,214.5 L297.2,214.6 L296.6,214.8 L295.9,215.0 L295.2,215.2 L294.6,215.8 L293.9,216.8 L293.3,218.7 L292.6,221.7 L291.9,225.7 L291.3,230.3 L290.6,234.9 L290.0,238.8 L289.3,241.7 L288.6,243.5 L288.0,244.3 L287.3,244.4 L286.7,244.4 L286.0,243.9 L285.3,243.1 L284.7,242.0 L284.0,240.7 L283.3,239.2 L282.7,237.7 L282.0,236.1 L281.4,234.6 L280.7,233.1 L280.0,231.7 L279.4,230.4 L278.7,229.2 L278.1,228.1 L277.4,227.1 L276.7,226.2 L276.1,225.4 L275.4,224.7 L274.8,224.0 L274.1,223.4 L273.4,222.8 L272.8,222.3 L272.1,221.8 L271.5,221.4 L270.8,221.0 L270.1,220.7 L269.5,220.4 L268.8,220.1 L268.2,219.8 L267.5,219.6 L266.8,219.3 L266.2,219.1 L265.5,218.9 L264.8,218.7 L264.2,218.6 L263.5,218.4 L262.9,218.3 L262.2,218.1 L261.5,218.0 L260.9,217.9 L260.2,217.8 L259.6,217.7 L258.9,217.6 L258.2,217.5 L257.6,217.4 L256.9,217.3 L256.3,217.3 L255.6,217.2 L254.9,217.1 L254.3,217.1 L253.6,217.0 L253.0,217.0 L252.3,216.9 L251.6,216.8 L251.0,216.8 L250.3,216.8 L249.7,216.7 L249.0,216.7 L248.3,216.6 L247.7,216.6 L247.0,216.6 L246.3,216.5 L245.7,216.5 L245.0,216.5 L244.4,216.4 L243.7,216.4 L243.0,216.4 L242.4,216.3 L241.7,216.3 L241.1,216.3 L240.4,216.3 L239.7,216.3 L239.1,216.2 L238.4,216.2 L237.8,216.2 L237.1,216.2 L236.4,216.2 L235.8,216.1 L235.1,216.1 L234.5,216.1 L233.8,216.1 L233.1,216.1 L232.5,216.1 L231.8,216.0 L231.2,216.0 L230.5,216.0 L229.8,216.0 L229.2,216.0 L228.5,216.0 L227.8,216.0 L227.2,216.0 L226.5,216.0 L225.9,215.9 L225.2,215.9 L224.5,215.9 L223.9,215.9 L223.2,215.9 L222.6,215.9 L221.9,215.9 L221.2,215.9 L220.6,215.9 L219.9,215.9 L219.3,215.9 L218.6,215.8" fill="none" stroke="#1a1aff" stroke-width="1.15" stroke-linejoin="round" />
<path d="M218.6,215.8 L219.3,215.8 L219.9,215.8 L220.6,215.8 L221.2,215.8 L221.9,215.8 L222.6,215.8 L223.2,215.8 L223.9,215.8 L224.5,215.8 L225.2,215.8 L225.9,215.8 L226.5,215.8 L227.2,215.8 L227.8,215.8 L228.5,215.8 L229.2,215.8 L229.8,215.8 L230.5,215.8 L231.2,215.8 L231.8,215.8 L232.5,215.8 L233.1,215.8 L233.8,215.8 L234.5,215.8 L235.1,215.8 L235.8,215.8 L236.4,215.8 L237.1,215.8 L237.8,215.8 L238.4,215.8 L239.1,215.8 L239.7,215.8 L240.4,215.8 L241.1,215.8 L241.7,215.8 L242.4,215.8 L243.0,215.8 L243.7,215.8 L244.4,215.8 L245.0,215.8 L245.7,215.8 L246.3,215.8 L247.0,215.8 L247.7,215.8 L248.3,215.8 L249.0,215.8 L249.7,215.8 L250.3,215.8 L251.0,215.8 L251.6,215.8 L252.3,215.8 L253.0,215.8 L253.6,215.8 L254.3,215.8 L254.9,215.8 L255.6,215.8 L256.3,215.8 L256.9,215.8 L257.6,215.8 L258.2,215.8 L258.9,215.8 L259.6,215.8 L260.2,215.8 L260.9,215.8 L261.5,215.8 L262.2,215.8 L262.9,215.8 L263.5,215.8 L264.2,215.8 L264.8,215.8 L265.5,215.8 L266.2,215.8 L266.8,215.8 L267.5,215.8 L268.2,215.8 L268.8,215.8 L269.5,215.8 L270.1,215.8 L270.8,215.8 L271.5,215.8 L272.1,215.7 L272.8,215.7 L273.4,215.7 L274.1,215.7 L274.8,215.6 L275.4,215.6 L276.1,215.5 L276.7,215.5 L277.4,215.4 L278.1,215.4 L278.7,215.3 L279.4,215.3 L280.0,215.2 L280.7,215.1 L281.4,215.1 L282.0,215.0 L282.7,214.9 L283.3,214.8 L284.0,214.8 L284.7,214.7 L285.3,214.6 L286.0,214.6 L286.7,214.5 L287.3,214.4 L288.0,214.4 L288.6,214.3 L289.3,214.2 L290.0,214.2 L290.6,214.1 L291.3,214.0 L291.9,214.0 L292.6,213.9 L293.3,213.8 L293.9,213.8 L294.6,213.7 L295.2,213.6 L295.9,213.6 L296.6,213.4 L297.2,213.3 L297.9,213.1 L298.5,212.8 L299.2,212.5 L299.9,212.0 L300.5,211.3 L301.2,210.4 L301.8,209.3 L302.5,207.9 L303.2,206.1 L303.8,204.0 L304.5,201.6 L305.1,198.7 L305.8,195.6 L306.5,192.1 L307.1,188.5 L307.8,184.8 L308.5,181.2 L309.1,177.8 L309.8,174.8 L310.4,172.3 L311.1,170.5 L311.8,169.4 L312.4,169.1 L313.1,169.7 L313.7,171.2 L314.4,173.3 L315.1,175.9 L315.7,178.7 L316.4,181.6 L317.0,184.5 L317.7,187.2 L318.4,189.7 L319.0,192.0 L319.7,194.1 L320.3,195.9 L321.0,197.5 L321.7,199.0 L322.3,200.2 L323.0,201.4 L323.6,202.4 L324.3,203.3 L325.0,204.1 L325.6,204.8 L326.3,205.4 L327.0,205.9 L327.6,206.4 L328.3,206.9 L328.9,207.3 L329.6,207.6 L330.3,208.0 L330.9,208.3 L331.6,208.5 L332.2,208.8 L332.9,209.0 L333.6,209.2 L334.2,209.4 L334.9,209.5 L335.5,209.7 L336.2,209.8 L336.9,210.0 L337.5,210.1 L338.2,210.2 L338.8,210.3 L339.5,210.4 L340.2,210.5 L340.8,210.6 L341.5,210.6 L342.1,210.7 L342.8,210.8 L343.5,210.8 L344.1,210.9 L344.8,211.0 L345.5,211.0 L346.1,211.1 L346.8,211.1 L347.4,211.2 L348.1,211.3 L348.8,211.3 L349.4,211.3 L350.1,211.4 L350.7,211.4 L351.4,211.5 L352.1,211.5 L352.7,211.5 L353.4,211.6 L354.0,211.6 L354.7,211.6 L355.4,211.7 L356.0,211.7 L356.7,211.7 L357.3,211.8 L358.0,211.8 L358.7,211.8 L359.3,211.8 L360.0,211.9 L360.6,211.9 L361.3,211.9 L362.0,211.9 L362.6,211.9 L363.3,212.0 L364.0,212.0 L364.0,212.7 L363.3,212.7 L362.6,212.7 L362.0,212.7 L361.3,212.7 L360.6,212.7 L360.0,212.7 L359.3,212.7 L358.7,212.7 L358.0,212.7 L357.3,212.7 L356.7,212.7 L356.0,212.7 L355.4,212.7 L354.7,212.7 L354.0,212.7 L353.4,212.7 L352.7,212.7 L352.1,212.7 L351.4,212.7 L350.7,212.7 L350.1,212.7 L349.4,212.7 L348.8,212.7 L348.1,212.7 L347.4,212.7 L346.8,212.7 L346.1,212.7 L345.5,212.7 L344.8,212.7 L344.1,212.7 L343.5,212.7 L342.8,212.7 L342.1,212.7 L341.5,212.7 L340.8,212.7 L340.2,212.8 L339.5,212.8 L338.8,212.8 L338.2,212.8 L337.5,212.8 L336.9,212.9 L336.2,212.9 L335.5,212.9 L334.9,212.9 L334.2,213.0 L333.6,213.0 L332.9,213.0 L332.2,213.0 L331.6,213.1 L330.9,213.1 L330.3,213.1 L329.6,213.1 L328.9,213.2 L328.3,213.2 L327.6,213.2 L327.0,213.2 L326.3,213.3 L325.6,213.3 L325.0,213.3 L324.3,213.3 L323.6,213.4 L323.0,213.4 L322.3,213.4 L321.7,213.4 L321.0,213.5 L320.3,213.5 L319.7,213.5 L319.0,213.5 L318.4,213.5 L317.7,213.5 L317.0,213.6 L316.4,213.6 L315.7,213.6 L315.1,213.6 L314.4,213.6 L313.7,213.6 L313.1,213.6 L312.4,213.6 L311.8,213.6 L311.1,213.6 L310.4,213.6 L309.8,213.6 L309.1,213.6 L308.5,213.6 L307.8,213.6 L307.1,213.6 L306.5,213.6 L305.8,213.6 L305.1,213.6 L304.5,213.6 L303.8,213.6 L303.2,213.6 L302.5,213.7 L301.8,213.8 L301.2,213.9 L300.5,214.0 L299.9,214.2 L299.2,214.3 L298.5,214.5 L297.9,214.7 L297.2,214.9 L296.6,215.2 L295.9,215.7 L295.2,216.5 L294.6,218.0 L293.9,220.3 L293.3,223.5 L292.6,227.6 L291.9,232.3 L291.3,237.3 L290.6,241.9 L290.0,245.8 L289.3,248.7 L288.6,250.6 L288.0,251.6 L287.3,252.0 L286.7,252.0 L286.0,251.8 L285.3,251.2 L284.7,250.2 L284.0,248.9 L283.3,247.3 L282.7,245.6 L282.0,243.8 L281.4,242.0 L280.7,240.2 L280.0,238.5 L279.4,236.8 L278.7,235.3 L278.1,233.8 L277.4,232.5 L276.7,231.2 L276.1,230.1 L275.4,229.1 L274.8,228.1 L274.1,227.3 L273.4,226.5 L272.8,225.7 L272.1,225.1 L271.5,224.5 L270.8,223.9 L270.1,223.4 L269.5,223.0 L268.8,222.5 L268.2,222.1 L267.5,221.8 L266.8,221.5 L266.2,221.1 L265.5,220.9 L264.8,220.6 L264.2,220.4 L263.5,220.1 L262.9,219.9 L262.2,219.7 L261.5,219.5 L260.9,219.4 L260.2,219.2 L259.6,219.1 L258.9,218.9 L258.2,218.8 L257.6,218.7 L256.9,218.5 L256.3,218.4 L255.6,218.3 L254.9,218.2 L254.3,218.1 L253.6,218.0 L253.0,218.0 L252.3,217.9 L251.6,217.8 L251.0,217.7 L250.3,217.7 L249.7,217.6 L249.0,217.5 L248.3,217.5 L247.7,217.4 L247.0,217.4 L246.3,217.3 L245.7,217.3 L245.0,217.2 L244.4,217.2 L243.7,217.2 L243.0,217.1 L242.4,217.1 L241.7,217.0 L241.1,217.0 L240.4,217.0 L239.7,216.9 L239.1,216.9 L238.4,216.9 L237.8,216.8 L237.1,216.8 L236.4,216.8 L235.8,216.8 L235.1,216.7 L234.5,216.7 L233.8,216.7 L233.1,216.7 L232.5,216.7 L231.8,216.6 L231.2,216.6 L230.5,216.6 L229.8,216.6 L229.2,216.6 L228.5,216.5 L227.8,216.5 L227.2,216.5 L226.5,216.5 L225.9,216.5 L225.2,216.5 L224.5,216.4 L223.9,216.4 L223.2,216.4 L222.6,216.4 L221.9,216.4 L221.2,216.4 L220.6,216.4 L219.9,216.4 L219.3,216.3 L218.6,216.3" fill="none" stroke="#1fdf1f" stroke-width="1.15" stroke-linejoin="round" />
<path d="M218.6,213.6 L219.3,213.6 L219.9,213.6 L220.6,213.6 L221.2,213.6 L221.9,213.6 L222.6,213.6 L223.2,213.6 L223.9,213.6 L224.5,213.6 L225.2,213.6 L225.9,213.6 L226.5,213.6 L227.2,213.6 L227.8,213.6 L228.5,213.6 L229.2,213.6 L229.8,213.6 L230.5,213.6 L231.2,213.6 L231.8,213.6 L232.5,213.6 L233.1,213.6 L233.8,213.6 L234.5,213.6 L235.1,213.6 L235.8,213.6 L236.4,213.6 L237.1,213.6 L237.8,213.6 L238.4,213.6 L239.1,213.6 L239.7,213.6 L240.4,213.6 L241.1,213.6 L241.7,213.6 L242.4,213.6 L243.0,213.6 L243.7,213.6 L244.4,213.6 L245.0,213.6 L245.7,213.6 L246.3,213.6 L247.0,213.6 L247.7,213.6 L248.3,213.6 L249.0,213.6 L249.7,213.6 L250.3,213.6 L251.0,213.6 L251.6,213.6 L252.3,213.6 L253.0,213.6 L253.6,213.6 L254.3,213.6 L254.9,213.6 L255.6,213.6 L256.3,213.6 L256.9,213.6 L257.6,213.6 L258.2,213.6 L258.9,213.6 L259.6,213.6 L260.2,213.6 L260.9,213.6 L261.5,213.6 L262.2,213.6 L262.9,213.6 L263.5,213.6 L264.2,213.6 L264.8,213.6 L265.5,213.6 L266.2,213.6 L266.8,213.6 L267.5,213.6 L268.2,213.6 L268.8,213.6 L269.5,213.6 L270.1,213.6 L270.8,213.6 L271.5,213.6 L272.1,213.6 L272.8,213.6 L273.4,213.6 L274.1,213.6 L274.8,213.6 L275.4,213.6 L276.1,213.6 L276.7,213.6 L277.4,213.6 L278.1,213.6 L278.7,213.6 L279.4,213.6 L280.0,213.6 L280.7,213.6 L281.4,213.6 L282.0,213.6 L282.7,213.6 L283.3,213.6 L284.0,213.6 L284.7,213.6 L285.3,213.6 L286.0,213.6 L286.7,213.6 L287.3,213.6 L288.0,213.6 L288.6,213.6 L289.3,213.6 L290.0,213.6 L290.6,213.6 L291.3,213.6 L291.9,213.6 L292.6,213.5 L293.3,213.5 L293.9,213.4 L294.6,213.4 L295.2,213.3 L295.9,213.1 L296.6,212.9 L297.2,212.6 L297.9,212.2 L298.5,211.6 L299.2,210.9 L299.9,210.0 L300.5,208.9 L301.2,207.5 L301.8,205.8 L302.5,203.8 L303.2,201.4 L303.8,198.7 L304.5,195.6 L305.1,192.3 L305.8,188.7 L306.5,184.9 L307.1,181.1 L307.8,177.3 L308.5,173.7 L309.1,170.3 L309.8,167.4 L310.4,165.0 L311.1,163.3 L311.8,162.3 L312.4,162.0 L313.1,162.6 L313.7,164.1 L314.4,166.3 L315.1,169.0 L315.7,172.0 L316.4,175.1 L317.0,178.1 L317.7,181.0 L318.4,183.6 L319.0,186.1 L319.7,188.3 L320.3,190.3 L321.0,192.1 L321.7,193.8 L322.3,195.2 L323.0,196.5 L323.6,197.7 L324.3,198.8 L325.0,199.7 L325.6,200.5 L326.3,201.3 L327.0,202.0 L327.6,202.7 L328.3,203.2 L328.9,203.8 L329.6,204.2 L330.3,204.7 L330.9,205.1 L331.6,205.4 L332.2,205.8 L332.9,206.1 L333.6,206.4 L334.2,206.6 L334.9,206.9 L335.5,207.1 L336.2,207.3 L336.9,207.5 L337.5,207.7 L338.2,207.9 L338.8,208.1 L339.5,208.2 L340.2,208.4 L340.8,208.5 L341.5,208.6 L342.1,208.8 L342.8,208.9 L343.5,209.0 L344.1,209.1 L344.8,209.2 L345.5,209.3 L346.1,209.4 L346.8,209.5 L347.4,209.6 L348.1,209.7 L348.8,209.8 L349.4,209.8 L350.1,209.9 L350.7,210.0 L351.4,210.1 L352.1,210.1 L352.7,210.2 L353.4,210.3 L354.0,210.3 L354.7,210.4 L355.4,210.4 L356.0,210.5 L356.7,210.5 L357.3,210.6 L358.0,210.6 L358.7,210.7 L359.3,210.7 L360.0,210.8 L360.6,210.8 L361.3,210.8 L362.0,210.9 L362.6,210.9 L363.3,211.0 L364.0,211.0 L364.0,212.7 L363.3,212.7 L362.6,212.7 L362.0,212.7 L361.3,212.7 L360.6,212.7 L360.0,212.7 L359.3,212.7 L358.7,212.7 L358.0,212.7 L357.3,212.7 L356.7,212.7 L356.0,212.7 L355.4,212.7 L354.7,212.7 L354.0,212.7 L353.4,212.7 L352.7,212.7 L352.1,212.7 L351.4,212.7 L350.7,212.7 L350.1,212.7 L349.4,212.7 L348.8,212.7 L348.1,212.7 L347.4,212.7 L346.8,212.7 L346.1,212.7 L345.5,212.7 L344.8,212.7 L344.1,212.7 L343.5,212.7 L342.8,212.7 L342.1,212.7 L341.5,212.7 L340.8,212.7 L340.2,212.8 L339.5,212.8 L338.8,212.8 L338.2,212.8 L337.5,212.8 L336.9,212.9 L336.2,212.9 L335.5,212.9 L334.9,212.9 L334.2,213.0 L333.6,213.0 L332.9,213.0 L332.2,213.0 L331.6,213.1 L330.9,213.1 L330.3,213.1 L329.6,213.1 L328.9,213.2 L328.3,213.2 L327.6,213.2 L327.0,213.2 L326.3,213.3 L325.6,213.3 L325.0,213.3 L324.3,213.3 L323.6,213.4 L323.0,213.4 L322.3,213.4 L321.7,213.4 L321.0,213.5 L320.3,213.5 L319.7,213.5 L319.0,213.5 L318.4,213.5 L317.7,213.5 L317.0,213.6 L316.4,213.6 L315.7,213.6 L315.1,213.6 L314.4,213.6 L313.7,213.6 L313.1,213.6 L312.4,213.6 L311.8,213.6 L311.1,213.6 L310.4,213.6 L309.8,213.6 L309.1,213.6 L308.5,213.6 L307.8,213.6 L307.1,213.6 L306.5,213.6 L305.8,213.6 L305.1,213.6 L304.5,213.6 L303.8,213.6 L303.2,213.6 L302.5,213.6 L301.8,213.6 L301.2,213.6 L300.5,213.6 L299.9,213.6 L299.2,213.6 L298.5,213.6 L297.9,213.6 L297.2,213.7 L296.6,213.8 L295.9,214.1 L295.2,214.6 L294.6,215.5 L293.9,217.0 L293.3,219.3 L292.6,222.3 L291.9,226.0 L291.3,230.4 L290.6,235.1 L290.0,239.7 L289.3,243.9 L288.6,247.6 L288.0,250.4 L287.3,252.4 L286.7,253.7 L286.0,254.3 L285.3,254.5 L284.7,254.5 L284.0,254.2 L283.3,253.6 L282.7,252.5 L282.0,251.2 L281.4,249.6 L280.7,247.9 L280.0,246.0 L279.4,244.1 L278.7,242.2 L278.1,240.4 L277.4,238.6 L276.7,236.9 L276.1,235.3 L275.4,233.8 L274.8,232.4 L274.1,231.1 L273.4,229.9 L272.8,228.8 L272.1,227.8 L271.5,226.9 L270.8,226.0 L270.1,225.2 L269.5,224.5 L268.8,223.9 L268.2,223.2 L267.5,222.7 L266.8,222.2 L266.2,221.7 L265.5,221.2 L264.8,220.8 L264.2,220.5 L263.5,220.1 L262.9,219.8 L262.2,219.5 L261.5,219.2 L260.9,218.9 L260.2,218.7 L259.6,218.4 L258.9,218.2 L258.2,218.0 L257.6,217.8 L256.9,217.7 L256.3,217.5 L255.6,217.3 L254.9,217.2 L254.3,217.0 L253.6,216.9 L253.0,216.8 L252.3,216.7 L251.6,216.5 L251.0,216.4 L250.3,216.3 L249.7,216.2 L249.0,216.2 L248.3,216.1 L247.7,216.0 L247.0,215.9 L246.3,215.8 L245.7,215.8 L245.0,215.7 L244.4,215.6 L243.7,215.6 L243.0,215.5 L242.4,215.5 L241.7,215.4 L241.1,215.3 L240.4,215.3 L239.7,215.3 L239.1,215.2 L238.4,215.2 L237.8,215.1 L237.1,215.1 L236.4,215.0 L235.8,215.0 L235.1,215.0 L234.5,214.9 L233.8,214.9 L233.1,214.9 L232.5,214.8 L231.8,214.8 L231.2,214.8 L230.5,214.8 L229.8,214.7 L229.2,214.7 L228.5,214.7 L227.8,214.6 L227.2,214.6 L226.5,214.6 L225.9,214.6 L225.2,214.6 L224.5,214.5 L223.9,214.5 L223.2,214.5 L222.6,214.5 L221.9,214.5 L221.2,214.4 L220.6,214.4 L219.9,214.4 L219.3,214.4 L218.6,214.4" fill="none" stroke="#ff1fff" stroke-width="1.15" stroke-linejoin="round" />
<path d="M308.5,201.0 L309.1,194.7 L310.0,185.9 L311.5,177.9 L312.3,169.1 L312.5,162.0 L313.4,155.5" fill="none" stroke="#111" stroke-width="1.1" stroke-dasharray="2.2,1.4"/>
<line x1="312.95" y1="158.75" x2="312.94" y2="158.83" stroke="#111" stroke-width="0.01"/>
<path d="M313.40,155.50 L314.71,159.92 L310.94,159.40 Z" fill="#111"/>
<path d="M290.5,221.0 L289.8,228.2 L287.8,235.7 L287.1,242.6 L286.7,249.8 L284.8,254.9 L284.5,261.0" fill="none" stroke="#111" stroke-width="1.1" stroke-dasharray="2.2,1.4"/>
<line x1="284.65" y1="257.95" x2="284.67" y2="257.64" stroke="#111" stroke-width="0.01"/>
<path d="M284.50,261.00 L282.81,256.71 L286.60,256.90 Z" fill="#111"/>
<text x="320.60" y="167.30" font-size="8.8" font-family="Liberation Serif" fill="#161616" stroke="#161616" stroke-width="0.12" text-anchor="start" >I<tspan font-size="0.85em" dy="2.0">A</tspan><tspan dy="-2.0"></tspan></text>
<text x="291.50" y="258.30" font-size="8.8" font-family="Liberation Serif" fill="#161616" stroke="#161616" stroke-width="0.12" text-anchor="start" >I<tspan font-size="0.85em" dy="2.0">C</tspan><tspan dy="-2.0"></tspan></text>
<rect x="397.40" y="150.00" width="145.00" height="116.40" fill="none" stroke="#2a2a2a" stroke-width="1.2"/>
<line x1="395.20" y1="150.00" x2="397.40" y2="150.00" stroke="#2a2a2a" stroke-width="0.9"/>
<text x="393.70" y="152.34" font-size="7.1" font-family="Liberation Serif" fill="#555555" text-anchor="end" textLength="15.2" lengthAdjust="spacingAndGlyphs">0.004</text>
<line x1="395.20" y1="165.50" x2="397.40" y2="165.50" stroke="#2a2a2a" stroke-width="0.9"/>
<text x="393.70" y="167.84" font-size="7.1" font-family="Liberation Serif" fill="#555555" text-anchor="end" textLength="15.2" lengthAdjust="spacingAndGlyphs">0.003</text>
<line x1="395.20" y1="181.00" x2="397.40" y2="181.00" stroke="#2a2a2a" stroke-width="0.9"/>
<text x="393.70" y="183.34" font-size="7.1" font-family="Liberation Serif" fill="#555555" text-anchor="end" textLength="15.2" lengthAdjust="spacingAndGlyphs">0.002</text>
<line x1="395.20" y1="196.50" x2="397.40" y2="196.50" stroke="#2a2a2a" stroke-width="0.9"/>
<text x="393.70" y="198.84" font-size="7.1" font-family="Liberation Serif" fill="#555555" text-anchor="end" textLength="15.2" lengthAdjust="spacingAndGlyphs">0.001</text>
<line x1="395.20" y1="212.00" x2="397.40" y2="212.00" stroke="#2a2a2a" stroke-width="0.9"/>
<text x="393.70" y="214.34" font-size="7.1" font-family="Liberation Serif" fill="#555555" text-anchor="end" textLength="15.2" lengthAdjust="spacingAndGlyphs">0.000</text>
<line x1="395.20" y1="227.50" x2="397.40" y2="227.50" stroke="#2a2a2a" stroke-width="0.9"/>
<text x="393.70" y="229.84" font-size="7.1" font-family="Liberation Serif" fill="#555555" text-anchor="end" textLength="18.3" lengthAdjust="spacingAndGlyphs">-0.001</text>
<line x1="395.20" y1="243.00" x2="397.40" y2="243.00" stroke="#2a2a2a" stroke-width="0.9"/>
<text x="393.70" y="245.34" font-size="7.1" font-family="Liberation Serif" fill="#555555" text-anchor="end" textLength="18.3" lengthAdjust="spacingAndGlyphs">-0.002</text>
<line x1="395.20" y1="258.50" x2="397.40" y2="258.50" stroke="#2a2a2a" stroke-width="0.9"/>
<text x="393.70" y="260.84" font-size="7.1" font-family="Liberation Serif" fill="#555555" text-anchor="end" textLength="18.3" lengthAdjust="spacingAndGlyphs">-0.003</text>
<line x1="396.10" y1="157.75" x2="397.40" y2="157.75" stroke="#2a2a2a" stroke-width="0.8"/>
<line x1="396.10" y1="173.25" x2="397.40" y2="173.25" stroke="#2a2a2a" stroke-width="0.8"/>
<line x1="396.10" y1="188.75" x2="397.40" y2="188.75" stroke="#2a2a2a" stroke-width="0.8"/>
<line x1="396.10" y1="204.25" x2="397.40" y2="204.25" stroke="#2a2a2a" stroke-width="0.8"/>
<line x1="396.10" y1="219.75" x2="397.40" y2="219.75" stroke="#2a2a2a" stroke-width="0.8"/>
<line x1="396.10" y1="235.25" x2="397.40" y2="235.25" stroke="#2a2a2a" stroke-width="0.8"/>
<line x1="396.10" y1="250.75" x2="397.40" y2="250.75" stroke="#2a2a2a" stroke-width="0.8"/>
<line x1="396.10" y1="266.25" x2="397.40" y2="266.25" stroke="#2a2a2a" stroke-width="0.8"/>
<line x1="423.28" y1="266.40" x2="423.28" y2="268.60" stroke="#2a2a2a" stroke-width="0.9"/>
<text x="423.28" y="276.20" font-size="7.1" font-family="Liberation Serif" fill="#555555" text-anchor="middle" textLength="9.1" lengthAdjust="spacingAndGlyphs">2.8</text>
<line x1="457.52" y1="266.40" x2="457.52" y2="268.60" stroke="#2a2a2a" stroke-width="0.9"/>
<text x="457.52" y="276.20" font-size="7.1" font-family="Liberation Serif" fill="#555555" text-anchor="middle" textLength="9.1" lengthAdjust="spacingAndGlyphs">3.2</text>
<line x1="491.76" y1="266.40" x2="491.76" y2="268.60" stroke="#2a2a2a" stroke-width="0.9"/>
<text x="491.76" y="276.20" font-size="7.1" font-family="Liberation Serif" fill="#555555" text-anchor="middle" textLength="9.1" lengthAdjust="spacingAndGlyphs">3.6</text>
<line x1="526.00" y1="266.40" x2="526.00" y2="268.60" stroke="#2a2a2a" stroke-width="0.9"/>
<text x="526.00" y="276.20" font-size="7.1" font-family="Liberation Serif" fill="#555555" text-anchor="middle" textLength="9.1" lengthAdjust="spacingAndGlyphs">4.0</text>
<line x1="406.16" y1="266.40" x2="406.16" y2="267.70" stroke="#2a2a2a" stroke-width="0.8"/>
<line x1="440.40" y1="266.40" x2="440.40" y2="267.70" stroke="#2a2a2a" stroke-width="0.8"/>
<line x1="474.64" y1="266.40" x2="474.64" y2="267.70" stroke="#2a2a2a" stroke-width="0.8"/>
<line x1="508.88" y1="266.40" x2="508.88" y2="267.70" stroke="#2a2a2a" stroke-width="0.8"/>
<text x="365.80" y="160.60" font-size="13.5" font-family="Liberation Serif" fill="#161616" stroke="#161616" stroke-width="0.12" text-anchor="start" >(f)</text>
<text x="400.50" y="160.50" font-size="7.6" font-family="Liberation Serif" fill="#161616" stroke="#161616" stroke-width="0.12" text-anchor="start" >LFP/C-F<tspan font-size="0.72em" dy="1.8">3</tspan><tspan dy="-1.8"></tspan></text>
<text x="0" y="0" font-size="7.6" font-family="Liberation Serif" fill="#161616" text-anchor="middle" transform="translate(373.90,206.00) rotate(-90)">Current(A)</text>
<text x="436.00" y="282.60" font-size="7.9" font-family="Liberation Serif" fill="#161616" stroke="#161616" stroke-width="0.12" text-anchor="start" >Potential(V vs.Li<tspan font-size="0.6em" dy="-3">+</tspan><tspan dy="3">/Li)</tspan></text>
<line x1="399.2" y1="167.30" x2="416.4" y2="167.30" stroke="#ff8c1a" stroke-width="1.2"/>
<text x="418.20" y="170.00" font-size="8" font-family="Liberation Serif" fill="#161616" stroke="#161616" stroke-width="0.12" text-anchor="start" >0.1mV/s</text>
<line x1="399.2" y1="177.00" x2="416.4" y2="177.00" stroke="#ff2020" stroke-width="1.2"/>
<text x="418.20" y="179.70" font-size="8" font-family="Liberation Serif" fill="#161616" stroke="#161616" stroke-width="0.12" text-anchor="start" >0.2mV/s</text>
<line x1="399.2" y1="186.40" x2="416.4" y2="186.40" stroke="#1a1aff" stroke-width="1.2"/>
<text x="418.20" y="189.10" font-size="8" font-family="Liberation Serif" fill="#161616" stroke="#161616" stroke-width="0.12" text-anchor="start" >0.3mV/s</text>
<line x1="399.2" y1="195.60" x2="416.4" y2="195.60" stroke="#1fdf1f" stroke-width="1.2"/>
<text x="418.20" y="198.30" font-size="8" font-family="Liberation Serif" fill="#161616" stroke="#161616" stroke-width="0.12" text-anchor="start" >0.4mV/s</text>
<line x1="399.2" y1="204.70" x2="416.4" y2="204.70" stroke="#ff1fff" stroke-width="1.2"/>
<text x="418.20" y="207.40" font-size="8" font-family="Liberation Serif" fill="#161616" stroke="#161616" stroke-width="0.12" text-anchor="start" >0.5mV/s</text>
<path d="M397.6,212.5 L398.3,212.5 L398.9,212.5 L399.6,212.5 L400.2,212.5 L400.9,212.5 L401.6,212.5 L402.2,212.5 L402.9,212.5 L403.6,212.5 L404.2,212.5 L404.9,212.5 L405.5,212.5 L406.2,212.5 L406.9,212.5 L407.5,212.5 L408.2,212.5 L408.8,212.5 L409.5,212.5 L410.2,212.5 L410.8,212.5 L411.5,212.5 L412.2,212.5 L412.8,212.5 L413.5,212.5 L414.1,212.5 L414.8,212.5 L415.5,212.5 L416.1,212.5 L416.8,212.5 L417.4,212.5 L418.1,212.5 L418.8,212.5 L419.4,212.5 L420.1,212.5 L420.8,212.5 L421.4,212.5 L422.1,212.5 L422.7,212.5 L423.4,212.5 L424.1,212.5 L424.7,212.5 L425.4,212.5 L426.0,212.5 L426.7,212.5 L427.4,212.5 L428.0,212.5 L428.7,212.5 L429.3,212.5 L430.0,212.5 L430.7,212.5 L431.3,212.5 L432.0,212.5 L432.7,212.5 L433.3,212.5 L434.0,212.5 L434.6,212.5 L435.3,212.5 L436.0,212.5 L436.6,212.5 L437.3,212.5 L437.9,212.5 L438.6,212.5 L439.3,212.5 L439.9,212.5 L440.6,212.5 L441.3,212.5 L441.9,212.5 L442.6,212.5 L443.2,212.5 L443.9,212.5 L444.6,212.5 L445.2,212.5 L445.9,212.5 L446.5,212.5 L447.2,212.5 L447.9,212.5 L448.5,212.5 L449.2,212.5 L449.9,212.5 L450.5,212.5 L451.2,212.5 L451.8,212.5 L452.5,212.4 L453.2,212.4 L453.8,212.4 L454.5,212.4 L455.1,212.4 L455.8,212.4 L456.5,212.4 L457.1,212.4 L457.8,212.4 L458.5,212.4 L459.1,212.3 L459.8,212.3 L460.4,212.3 L461.1,212.3 L461.8,212.3 L462.4,212.3 L463.1,212.3 L463.7,212.2 L464.4,212.2 L465.1,212.2 L465.7,212.2 L466.4,212.2 L467.1,212.2 L467.7,212.1 L468.4,212.1 L469.0,212.1 L469.7,212.1 L470.4,212.1 L471.0,212.1 L471.7,212.1 L472.3,212.1 L473.0,212.0 L473.7,212.0 L474.3,212.0 L475.0,212.0 L475.7,212.0 L476.3,212.0 L477.0,212.0 L477.6,211.9 L478.3,211.8 L479.0,211.5 L479.6,210.8 L480.3,209.3 L480.9,206.9 L481.6,203.4 L482.3,199.2 L482.9,195.2 L483.6,192.5 L484.3,191.9 L484.9,192.4 L485.6,193.5 L486.2,195.1 L486.9,196.8 L487.6,198.6 L488.2,200.2 L488.9,201.8 L489.5,203.1 L490.2,204.3 L490.9,205.3 L491.5,206.2 L492.2,206.9 L492.8,207.6 L493.5,208.1 L494.2,208.5 L494.8,208.9 L495.5,209.2 L496.2,209.5 L496.8,209.7 L497.5,209.9 L498.1,210.1 L498.8,210.3 L499.5,210.4 L500.1,210.5 L500.8,210.6 L501.4,210.7 L502.1,210.7 L502.8,210.8 L503.4,210.8 L504.1,210.9 L504.8,210.9 L505.4,210.9 L506.1,211.0 L506.7,211.0 L507.4,211.0 L508.1,211.0 L508.7,211.0 L509.4,211.0 L510.0,211.0 L510.7,211.0 L511.4,211.0 L512.0,211.0 L512.7,211.0 L513.4,211.0 L514.0,211.0 L514.7,211.0 L515.3,211.0 L516.0,211.0 L516.7,211.0 L517.3,211.0 L518.0,210.9 L518.6,210.9 L519.3,210.9 L520.0,210.9 L520.6,210.9 L521.3,210.9 L522.0,210.9 L522.6,210.9 L523.3,210.9 L523.9,210.9 L524.6,210.9 L525.3,210.9 L525.9,210.9 L526.6,210.9 L527.2,210.9 L527.9,210.9 L528.6,210.9 L529.2,210.9 L529.9,210.9 L530.6,211.0 L531.2,211.0 L531.9,211.0 L532.5,211.0 L533.2,211.0 L533.9,211.0 L534.5,211.0 L535.2,211.0 L535.8,211.0 L536.5,211.0 L537.2,211.0 L537.8,211.0 L538.5,211.0 L539.2,211.0 L539.8,211.0 L540.5,211.0 L541.1,211.0 L541.8,211.0 L542.5,211.0 L543.1,211.0 L543.1,211.1 L542.5,211.1 L541.8,211.1 L541.1,211.1 L540.5,211.1 L539.8,211.1 L539.2,211.1 L538.5,211.1 L537.8,211.1 L537.2,211.1 L536.5,211.1 L535.8,211.1 L535.2,211.1 L534.5,211.1 L533.9,211.1 L533.2,211.1 L532.5,211.1 L531.9,211.1 L531.2,211.1 L530.6,211.1 L529.9,211.1 L529.2,211.1 L528.6,211.1 L527.9,211.1 L527.2,211.1 L526.6,211.1 L525.9,211.1 L525.3,211.1 L524.6,211.1 L523.9,211.1 L523.3,211.1 L522.6,211.1 L522.0,211.1 L521.3,211.1 L520.6,211.1 L520.0,211.1 L519.3,211.2 L518.6,211.2 L518.0,211.2 L517.3,211.2 L516.7,211.2 L516.0,211.3 L515.3,211.3 L514.7,211.3 L514.0,211.3 L513.4,211.4 L512.7,211.4 L512.0,211.4 L511.4,211.4 L510.7,211.5 L510.0,211.5 L509.4,211.5 L508.7,211.5 L508.1,211.6 L507.4,211.6 L506.7,211.6 L506.1,211.6 L505.4,211.7 L504.8,211.7 L504.1,211.7 L503.4,211.7 L502.8,211.8 L502.1,211.8 L501.4,211.8 L500.8,211.8 L500.1,211.9 L499.5,211.9 L498.8,211.9 L498.1,211.9 L497.5,211.9 L496.8,211.9 L496.2,212.0 L495.5,212.0 L494.8,212.0 L494.2,212.0 L493.5,212.0 L492.8,212.0 L492.2,212.0 L491.5,212.0 L490.9,212.0 L490.2,212.0 L489.5,212.0 L488.9,212.0 L488.2,212.0 L487.6,212.0 L486.9,212.0 L486.2,212.0 L485.6,212.0 L484.9,212.0 L484.3,212.0 L483.6,212.0 L482.9,212.0 L482.3,212.0 L481.6,212.0 L480.9,212.0 L480.3,212.1 L479.6,212.1 L479.0,212.1 L478.3,212.2 L477.6,212.2 L477.0,212.2 L476.3,212.3 L475.7,212.3 L475.0,212.3 L474.3,212.4 L473.7,212.6 L473.0,213.4 L472.3,215.8 L471.7,219.9 L471.0,224.4 L470.4,227.4 L469.7,228.6 L469.0,228.7 L468.4,228.4 L467.7,227.8 L467.1,226.8 L466.4,225.7 L465.7,224.4 L465.1,223.2 L464.4,222.1 L463.7,221.1 L463.1,220.1 L462.4,219.3 L461.8,218.6 L461.1,217.9 L460.4,217.4 L459.8,216.9 L459.1,216.5 L458.5,216.1 L457.8,215.8 L457.1,215.5 L456.5,215.2 L455.8,215.0 L455.1,214.8 L454.5,214.6 L453.8,214.5 L453.2,214.3 L452.5,214.2 L451.8,214.1 L451.2,214.0 L450.5,213.9 L449.9,213.8 L449.2,213.7 L448.5,213.6 L447.9,213.6 L447.2,213.5 L446.5,213.4 L445.9,213.4 L445.2,213.3 L444.6,213.3 L443.9,213.3 L443.2,213.2 L442.6,213.2 L441.9,213.2 L441.3,213.1 L440.6,213.1 L439.9,213.1 L439.3,213.0 L438.6,213.0 L437.9,213.0 L437.3,213.0 L436.6,213.0 L436.0,212.9 L435.3,212.9 L434.6,212.9 L434.0,212.9 L433.3,212.9 L432.7,212.9 L432.0,212.8 L431.3,212.8 L430.7,212.8 L430.0,212.8 L429.3,212.8 L428.7,212.8 L428.0,212.8 L427.4,212.8 L426.7,212.8 L426.0,212.7 L425.4,212.7 L424.7,212.7 L424.1,212.7 L423.4,212.7 L422.7,212.7 L422.1,212.7 L421.4,212.7 L420.8,212.7 L420.1,212.7 L419.4,212.7 L418.8,212.7 L418.1,212.7 L417.4,212.7 L416.8,212.7 L416.1,212.7 L415.5,212.6 L414.8,212.6 L414.1,212.6 L413.5,212.6 L412.8,212.6 L412.2,212.6 L411.5,212.6 L410.8,212.6 L410.2,212.6 L409.5,212.6 L408.8,212.6 L408.2,212.6 L407.5,212.6 L406.9,212.6 L406.2,212.6 L405.5,212.6 L404.9,212.6 L404.2,212.6 L403.6,212.6 L402.9,212.6 L402.2,212.6 L401.6,212.6 L400.9,212.6 L400.2,212.6 L399.6,212.6 L398.9,212.6 L398.3,212.6 L397.6,212.6" fill="none" stroke="#ff8c1a" stroke-width="1.15" stroke-linejoin="round" />
<path d="M397.6,212.9 L398.3,212.9 L398.9,212.9 L399.6,212.9 L400.2,212.9 L400.9,212.9 L401.6,212.9 L402.2,212.9 L402.9,212.9 L403.6,212.9 L404.2,212.9 L404.9,212.9 L405.5,212.9 L406.2,212.9 L406.9,212.9 L407.5,212.9 L408.2,212.9 L408.8,212.9 L409.5,212.9 L410.2,212.9 L410.8,212.9 L411.5,212.9 L412.2,212.9 L412.8,212.9 L413.5,212.9 L414.1,212.9 L414.8,212.9 L415.5,212.9 L416.1,212.9 L416.8,212.9 L417.4,212.9 L418.1,212.9 L418.8,212.9 L419.4,212.9 L420.1,212.9 L420.8,212.9 L421.4,212.9 L422.1,212.9 L422.7,212.9 L423.4,212.9 L424.1,212.9 L424.7,212.9 L425.4,212.9 L426.0,212.9 L426.7,212.9 L427.4,212.9 L428.0,212.9 L428.7,212.9 L429.3,212.9 L430.0,212.9 L430.7,212.9 L431.3,212.9 L432.0,212.9 L432.7,212.9 L433.3,212.9 L434.0,212.9 L434.6,212.9 L435.3,212.9 L436.0,212.9 L436.6,212.9 L437.3,212.9 L437.9,212.9 L438.6,212.9 L439.3,212.9 L439.9,212.9 L440.6,212.9 L441.3,212.9 L441.9,212.9 L442.6,212.9 L443.2,212.9 L443.9,212.9 L444.6,212.9 L445.2,212.9 L445.9,212.9 L446.5,212.9 L447.2,212.9 L447.9,212.9 L448.5,212.9 L449.2,212.9 L449.9,212.9 L450.5,212.9 L451.2,212.9 L451.8,212.9 L452.5,212.9 L453.2,212.9 L453.8,212.9 L454.5,212.8 L455.1,212.8 L455.8,212.8 L456.5,212.8 L457.1,212.8 L457.8,212.7 L458.5,212.7 L459.1,212.7 L459.8,212.7 L460.4,212.6 L461.1,212.6 L461.8,212.6 L462.4,212.5 L463.1,212.5 L463.7,212.5 L464.4,212.4 L465.1,212.4 L465.7,212.4 L466.4,212.4 L467.1,212.3 L467.7,212.3 L468.4,212.3 L469.0,212.2 L469.7,212.2 L470.4,212.2 L471.0,212.2 L471.7,212.1 L472.3,212.1 L473.0,212.1 L473.7,212.1 L474.3,212.1 L475.0,212.0 L475.7,212.0 L476.3,212.0 L477.0,212.0 L477.6,212.0 L478.3,212.0 L479.0,211.9 L479.6,211.4 L480.3,209.9 L480.9,206.7 L481.6,201.5 L482.3,195.0 L482.9,188.5 L483.6,183.7 L484.3,180.9 L484.9,180.0 L485.6,179.9 L486.2,180.5 L486.9,181.9 L487.6,183.8 L488.2,186.2 L488.9,188.6 L489.5,191.1 L490.2,193.4 L490.9,195.6 L491.5,197.5 L492.2,199.3 L492.8,200.8 L493.5,202.1 L494.2,203.2 L494.8,204.2 L495.5,205.0 L496.2,205.7 L496.8,206.4 L497.5,206.9 L498.1,207.4 L498.8,207.8 L499.5,208.1 L500.1,208.4 L500.8,208.7 L501.4,209.0 L502.1,209.2 L502.8,209.4 L503.4,209.5 L504.1,209.7 L504.8,209.8 L505.4,209.9 L506.1,210.0 L506.7,210.1 L507.4,210.1 L508.1,210.2 L508.7,210.3 L509.4,210.3 L510.0,210.4 L510.7,210.4 L511.4,210.4 L512.0,210.5 L512.7,210.5 L513.4,210.5 L514.0,210.5 L514.7,210.6 L515.3,210.6 L516.0,210.6 L516.7,210.6 L517.3,210.6 L518.0,210.6 L518.6,210.6 L519.3,210.6 L520.0,210.6 L520.6,210.6 L521.3,210.6 L522.0,210.7 L522.6,210.7 L523.3,210.7 L523.9,210.7 L524.6,210.7 L525.3,210.7 L525.9,210.7 L526.6,210.7 L527.2,210.7 L527.9,210.8 L528.6,210.8 L529.2,210.8 L529.9,210.8 L530.6,210.8 L531.2,210.8 L531.9,210.8 L532.5,210.8 L533.2,210.8 L533.9,210.8 L534.5,210.8 L535.2,210.9 L535.8,210.9 L536.5,210.9 L537.2,210.9 L537.8,210.9 L538.5,210.9 L539.2,210.9 L539.8,210.9 L540.5,210.9 L541.1,210.9 L541.8,210.9 L542.5,210.9 L543.1,210.9 L543.1,211.1 L542.5,211.1 L541.8,211.1 L541.1,211.1 L540.5,211.1 L539.8,211.1 L539.2,211.1 L538.5,211.1 L537.8,211.1 L537.2,211.1 L536.5,211.1 L535.8,211.1 L535.2,211.1 L534.5,211.1 L533.9,211.1 L533.2,211.1 L532.5,211.1 L531.9,211.1 L531.2,211.1 L530.6,211.1 L529.9,211.1 L529.2,211.1 L528.6,211.1 L527.9,211.1 L527.2,211.1 L526.6,211.1 L525.9,211.1 L525.3,211.1 L524.6,211.1 L523.9,211.1 L523.3,211.1 L522.6,211.1 L522.0,211.1 L521.3,211.1 L520.6,211.1 L520.0,211.1 L519.3,211.2 L518.6,211.2 L518.0,211.2 L517.3,211.2 L516.7,211.2 L516.0,211.3 L515.3,211.3 L514.7,211.3 L514.0,211.3 L513.4,211.4 L512.7,211.4 L512.0,211.4 L511.4,211.4 L510.7,211.5 L510.0,211.5 L509.4,211.5 L508.7,211.5 L508.1,211.6 L507.4,211.6 L506.7,211.6 L506.1,211.6 L505.4,211.7 L504.8,211.7 L504.1,211.7 L503.4,211.7 L502.8,211.8 L502.1,211.8 L501.4,211.8 L500.8,211.8 L500.1,211.9 L499.5,211.9 L498.8,211.9 L498.1,211.9 L497.5,211.9 L496.8,211.9 L496.2,212.0 L495.5,212.0 L494.8,212.0 L494.2,212.0 L493.5,212.0 L492.8,212.0 L492.2,212.0 L491.5,212.0 L490.9,212.0 L490.2,212.0 L489.5,212.0 L488.9,212.0 L488.2,212.0 L487.6,212.0 L486.9,212.0 L486.2,212.0 L485.6,212.0 L484.9,212.0 L484.3,212.0 L483.6,212.0 L482.9,212.0 L482.3,212.0 L481.6,212.0 L480.9,212.1 L480.3,212.1 L479.6,212.2 L479.0,212.2 L478.3,212.3 L477.6,212.4 L477.0,212.4 L476.3,212.5 L475.7,212.6 L475.0,212.7 L474.3,213.0 L473.7,213.7 L473.0,215.5 L472.3,218.8 L471.7,223.5 L471.0,228.6 L470.4,232.9 L469.7,235.7 L469.0,237.0 L468.4,237.3 L467.7,237.1 L467.1,236.5 L466.4,235.4 L465.7,234.1 L465.1,232.5 L464.4,230.9 L463.7,229.3 L463.1,227.8 L462.4,226.3 L461.8,225.0 L461.1,223.8 L460.4,222.8 L459.8,221.8 L459.1,221.0 L458.5,220.3 L457.8,219.6 L457.1,219.0 L456.5,218.5 L455.8,218.1 L455.1,217.7 L454.5,217.3 L453.8,217.0 L453.2,216.7 L452.5,216.4 L451.8,216.2 L451.2,216.0 L450.5,215.8 L449.9,215.6 L449.2,215.4 L448.5,215.3 L447.9,215.1 L447.2,215.0 L446.5,214.9 L445.9,214.8 L445.2,214.7 L444.6,214.6 L443.9,214.5 L443.2,214.4 L442.6,214.4 L441.9,214.3 L441.3,214.2 L440.6,214.2 L439.9,214.1 L439.3,214.1 L438.6,214.0 L437.9,214.0 L437.3,213.9 L436.6,213.9 L436.0,213.9 L435.3,213.8 L434.6,213.8 L434.0,213.8 L433.3,213.7 L432.7,213.7 L432.0,213.7 L431.3,213.6 L430.7,213.6 L430.0,213.6 L429.3,213.6 L428.7,213.6 L428.0,213.5 L427.4,213.5 L426.7,213.5 L426.0,213.5 L425.4,213.5 L424.7,213.4 L424.1,213.4 L423.4,213.4 L422.7,213.4 L422.1,213.4 L421.4,213.4 L420.8,213.4 L420.1,213.4 L419.4,213.3 L418.8,213.3 L418.1,213.3 L417.4,213.3 L416.8,213.3 L416.1,213.3 L415.5,213.3 L414.8,213.3 L414.1,213.3 L413.5,213.3 L412.8,213.3 L412.2,213.2 L411.5,213.2 L410.8,213.2 L410.2,213.2 L409.5,213.2 L408.8,213.2 L408.2,213.2 L407.5,213.2 L406.9,213.2 L406.2,213.2 L405.5,213.2 L404.9,213.2 L404.2,213.2 L403.6,213.2 L402.9,213.2 L402.2,213.2 L401.6,213.2 L400.9,213.1 L400.2,213.1 L399.6,213.1 L398.9,213.1 L398.3,213.1 L397.6,213.1" fill="none" stroke="#ff2020" stroke-width="1.15" stroke-linejoin="round" />
<path d="M397.6,213.4 L398.3,213.4 L398.9,213.4 L399.6,213.4 L400.2,213.4 L400.9,213.4 L401.6,213.4 L402.2,213.4 L402.9,213.4 L403.6,213.4 L404.2,213.4 L404.9,213.4 L405.5,213.4 L406.2,213.4 L406.9,213.4 L407.5,213.4 L408.2,213.4 L408.8,213.4 L409.5,213.4 L410.2,213.4 L410.8,213.4 L411.5,213.4 L412.2,213.4 L412.8,213.4 L413.5,213.4 L414.1,213.4 L414.8,213.4 L415.5,213.4 L416.1,213.4 L416.8,213.4 L417.4,213.4 L418.1,213.4 L418.8,213.4 L419.4,213.4 L420.1,213.4 L420.8,213.4 L421.4,213.4 L422.1,213.4 L422.7,213.4 L423.4,213.4 L424.1,213.4 L424.7,213.4 L425.4,213.4 L426.0,213.4 L426.7,213.4 L427.4,213.4 L428.0,213.4 L428.7,213.4 L429.3,213.4 L430.0,213.4 L430.7,213.4 L431.3,213.4 L432.0,213.4 L432.7,213.4 L433.3,213.4 L434.0,213.4 L434.6,213.4 L435.3,213.4 L436.0,213.4 L436.6,213.4 L437.3,213.4 L437.9,213.4 L438.6,213.4 L439.3,213.4 L439.9,213.4 L440.6,213.4 L441.3,213.4 L441.9,213.4 L442.6,213.4 L443.2,213.4 L443.9,213.4 L444.6,213.4 L445.2,213.4 L445.9,213.4 L446.5,213.4 L447.2,213.4 L447.9,213.4 L448.5,213.4 L449.2,213.4 L449.9,213.4 L450.5,213.4 L451.2,213.4 L451.8,213.4 L452.5,213.3 L453.2,213.3 L453.8,213.3 L454.5,213.3 L455.1,213.2 L455.8,213.2 L456.5,213.2 L457.1,213.1 L457.8,213.1 L458.5,213.1 L459.1,213.0 L459.8,213.0 L460.4,212.9 L461.1,212.9 L461.8,212.8 L462.4,212.8 L463.1,212.8 L463.7,212.7 L464.4,212.7 L465.1,212.6 L465.7,212.6 L466.4,212.5 L467.1,212.5 L467.7,212.4 L468.4,212.4 L469.0,212.4 L469.7,212.3 L470.4,212.3 L471.0,212.2 L471.7,212.2 L472.3,212.2 L473.0,212.1 L473.7,212.1 L474.3,212.1 L475.0,212.1 L475.7,212.0 L476.3,211.9 L477.0,211.8 L477.6,211.6 L478.3,211.2 L479.0,210.5 L479.6,209.4 L480.3,207.6 L480.9,205.0 L481.6,201.4 L482.3,196.8 L482.9,191.5 L483.6,185.9 L484.3,180.5 L484.9,176.1 L485.6,173.4 L486.2,172.6 L486.9,173.2 L487.6,174.5 L488.2,176.5 L488.9,178.9 L489.5,181.5 L490.2,184.3 L490.9,186.9 L491.5,189.5 L492.2,191.8 L492.8,194.0 L493.5,195.9 L494.2,197.6 L494.8,199.1 L495.5,200.4 L496.2,201.6 L496.8,202.6 L497.5,203.5 L498.1,204.3 L498.8,205.0 L499.5,205.6 L500.1,206.1 L500.8,206.6 L501.4,207.0 L502.1,207.4 L502.8,207.7 L503.4,208.0 L504.1,208.2 L504.8,208.5 L505.4,208.7 L506.1,208.9 L506.7,209.0 L507.4,209.2 L508.1,209.3 L508.7,209.4 L509.4,209.5 L510.0,209.6 L510.7,209.7 L511.4,209.8 L512.0,209.8 L512.7,209.9 L513.4,209.9 L514.0,210.0 L514.7,210.0 L515.3,210.1 L516.0,210.1 L516.7,210.2 L517.3,210.2 L518.0,210.2 L518.6,210.2 L519.3,210.3 L520.0,210.3 L520.6,210.3 L521.3,210.3 L522.0,210.4 L522.6,210.4 L523.3,210.4 L523.9,210.4 L524.6,210.4 L525.3,210.5 L525.9,210.5 L526.6,210.5 L527.2,210.5 L527.9,210.5 L528.6,210.6 L529.2,210.6 L529.9,210.6 L530.6,210.6 L531.2,210.6 L531.9,210.6 L532.5,210.7 L533.2,210.7 L533.9,210.7 L534.5,210.7 L535.2,210.7 L535.8,210.7 L536.5,210.7 L537.2,210.7 L537.8,210.7 L538.5,210.8 L539.2,210.8 L539.8,210.8 L540.5,210.8 L541.1,210.8 L541.8,210.8 L542.5,210.8 L543.1,210.8 L543.1,211.1 L542.5,211.1 L541.8,211.1 L541.1,211.1 L540.5,211.1 L539.8,211.1 L539.2,211.1 L538.5,211.1 L537.8,211.1 L537.2,211.1 L536.5,211.1 L535.8,211.1 L535.2,211.1 L534.5,211.1 L533.9,211.1 L533.2,211.1 L532.5,211.1 L531.9,211.1 L531.2,211.1 L530.6,211.1 L529.9,211.1 L529.2,211.1 L528.6,211.1 L527.9,211.1 L527.2,211.1 L526.6,211.1 L525.9,211.1 L525.3,211.1 L524.6,211.1 L523.9,211.1 L523.3,211.1 L522.6,211.1 L522.0,211.1 L521.3,211.1 L520.6,211.1 L520.0,211.1 L519.3,211.2 L518.6,211.2 L518.0,211.2 L517.3,211.2 L516.7,211.2 L516.0,211.3 L515.3,211.3 L514.7,211.3 L514.0,211.3 L513.4,211.4 L512.7,211.4 L512.0,211.4 L511.4,211.4 L510.7,211.5 L510.0,211.5 L509.4,211.5 L508.7,211.5 L508.1,211.6 L507.4,211.6 L506.7,211.6 L506.1,211.6 L505.4,211.7 L504.8,211.7 L504.1,211.7 L503.4,211.7 L502.8,211.8 L502.1,211.8 L501.4,211.8 L500.8,211.8 L500.1,211.9 L499.5,211.9 L498.8,211.9 L498.1,211.9 L497.5,211.9 L496.8,211.9 L496.2,212.0 L495.5,212.0 L494.8,212.0 L494.2,212.0 L493.5,212.0 L492.8,212.0 L492.2,212.0 L491.5,212.0 L490.9,212.0 L490.2,212.0 L489.5,212.0 L488.9,212.0 L488.2,212.0 L487.6,212.0 L486.9,212.0 L486.2,212.0 L485.6,212.0 L484.9,212.0 L484.3,212.0 L483.6,212.0 L482.9,212.0 L482.3,212.0 L481.6,212.1 L480.9,212.1 L480.3,212.2 L479.6,212.3 L479.0,212.4 L478.3,212.5 L477.6,212.6 L477.0,212.7 L476.3,212.8 L475.7,213.0 L475.0,213.3 L474.3,214.1 L473.7,215.7 L473.0,218.4 L472.3,222.4 L471.7,227.3 L471.0,232.4 L470.4,236.9 L469.7,240.2 L469.0,242.2 L468.4,243.1 L467.7,243.3 L467.1,243.2 L466.4,242.6 L465.7,241.5 L465.1,240.1 L464.4,238.5 L463.7,236.7 L463.1,234.9 L462.4,233.1 L461.8,231.4 L461.1,229.8 L460.4,228.4 L459.8,227.0 L459.1,225.8 L458.5,224.8 L457.8,223.8 L457.1,222.9 L456.5,222.1 L455.8,221.4 L455.1,220.8 L454.5,220.2 L453.8,219.7 L453.2,219.3 L452.5,218.9 L451.8,218.5 L451.2,218.1 L450.5,217.8 L449.9,217.6 L449.2,217.3 L448.5,217.1 L447.9,216.8 L447.2,216.7 L446.5,216.5 L445.9,216.3 L445.2,216.1 L444.6,216.0 L443.9,215.9 L443.2,215.8 L442.6,215.6 L441.9,215.5 L441.3,215.4 L440.6,215.3 L439.9,215.3 L439.3,215.2 L438.6,215.1 L437.9,215.0 L437.3,215.0 L436.6,214.9 L436.0,214.8 L435.3,214.8 L434.6,214.7 L434.0,214.7 L433.3,214.6 L432.7,214.6 L432.0,214.5 L431.3,214.5 L430.7,214.5 L430.0,214.4 L429.3,214.4 L428.7,214.4 L428.0,214.3 L427.4,214.3 L426.7,214.3 L426.0,214.2 L425.4,214.2 L424.7,214.2 L424.1,214.2 L423.4,214.2 L422.7,214.1 L422.1,214.1 L421.4,214.1 L420.8,214.1 L420.1,214.1 L419.4,214.0 L418.8,214.0 L418.1,214.0 L417.4,214.0 L416.8,214.0 L416.1,214.0 L415.5,213.9 L414.8,213.9 L414.1,213.9 L413.5,213.9 L412.8,213.9 L412.2,213.9 L411.5,213.9 L410.8,213.9 L410.2,213.8 L409.5,213.8 L408.8,213.8 L408.2,213.8 L407.5,213.8 L406.9,213.8 L406.2,213.8 L405.5,213.8 L404.9,213.8 L404.2,213.8 L403.6,213.8 L402.9,213.8 L402.2,213.7 L401.6,213.7 L400.9,213.7 L400.2,213.7 L399.6,213.7 L398.9,213.7 L398.3,213.7 L397.6,213.7" fill="none" stroke="#1a1aff" stroke-width="1.15" stroke-linejoin="round" />
<path d="M397.6,213.9 L398.3,213.9 L398.9,213.9 L399.6,213.9 L400.2,213.9 L400.9,213.9 L401.6,213.9 L402.2,213.9 L402.9,213.9 L403.6,213.9 L404.2,213.9 L404.9,213.9 L405.5,213.9 L406.2,213.9 L406.9,213.9 L407.5,213.9 L408.2,213.9 L408.8,213.9 L409.5,213.9 L410.2,213.9 L410.8,213.9 L411.5,213.9 L412.2,213.9 L412.8,213.9 L413.5,213.9 L414.1,213.9 L414.8,213.9 L415.5,213.9 L416.1,213.9 L416.8,213.9 L417.4,213.9 L418.1,213.9 L418.8,213.9 L419.4,213.9 L420.1,213.9 L420.8,213.9 L421.4,213.9 L422.1,213.9 L422.7,213.9 L423.4,213.9 L424.1,213.9 L424.7,213.9 L425.4,213.9 L426.0,213.9 L426.7,213.9 L427.4,213.9 L428.0,213.9 L428.7,213.9 L429.3,213.9 L430.0,213.9 L430.7,213.9 L431.3,213.9 L432.0,213.9 L432.7,213.9 L433.3,213.9 L434.0,213.9 L434.6,213.9 L435.3,213.9 L436.0,213.9 L436.6,213.9 L437.3,213.9 L437.9,213.9 L438.6,213.9 L439.3,213.9 L439.9,213.9 L440.6,213.9 L441.3,213.9 L441.9,213.9 L442.6,213.9 L443.2,213.9 L443.9,213.9 L444.6,213.9 L445.2,213.9 L445.9,213.9 L446.5,213.9 L447.2,213.9 L447.9,213.9 L448.5,213.9 L449.2,213.9 L449.9,213.9 L450.5,213.8 L451.2,213.8 L451.8,213.8 L452.5,213.8 L453.2,213.8 L453.8,213.7 L454.5,213.7 L455.1,213.7 L455.8,213.6 L456.5,213.6 L457.1,213.5 L457.8,213.5 L458.5,213.4 L459.1,213.4 L459.8,213.3 L460.4,213.3 L461.1,213.2 L461.8,213.1 L462.4,213.1 L463.1,213.0 L463.7,212.9 L464.4,212.9 L465.1,212.8 L465.7,212.8 L466.4,212.7 L467.1,212.6 L467.7,212.6 L468.4,212.5 L469.0,212.5 L469.7,212.4 L470.4,212.4 L471.0,212.3 L471.7,212.3 L472.3,212.2 L473.0,212.2 L473.7,212.1 L474.3,212.1 L475.0,212.0 L475.7,212.0 L476.3,211.9 L477.0,211.7 L477.6,211.4 L478.3,210.9 L479.0,210.2 L479.6,209.0 L480.3,207.3 L480.9,204.8 L481.6,201.6 L482.3,197.5 L482.9,192.6 L483.6,187.0 L484.3,181.2 L484.9,175.5 L485.6,170.5 L486.2,166.8 L486.9,164.6 L487.6,164.3 L488.2,165.0 L488.9,166.5 L489.5,168.6 L490.2,171.1 L490.9,174.0 L491.5,176.9 L492.2,179.9 L492.8,182.8 L493.5,185.5 L494.2,188.1 L494.8,190.4 L495.5,192.4 L496.2,194.3 L496.8,196.0 L497.5,197.5 L498.1,198.8 L498.8,200.0 L499.5,201.0 L500.1,202.0 L500.8,202.8 L501.4,203.5 L502.1,204.2 L502.8,204.8 L503.4,205.3 L504.1,205.8 L504.8,206.2 L505.4,206.5 L506.1,206.9 L506.7,207.2 L507.4,207.5 L508.1,207.7 L508.7,207.9 L509.4,208.1 L510.0,208.3 L510.7,208.5 L511.4,208.6 L512.0,208.7 L512.7,208.9 L513.4,209.0 L514.0,209.1 L514.7,209.2 L515.3,209.3 L516.0,209.3 L516.7,209.4 L517.3,209.5 L518.0,209.6 L518.6,209.6 L519.3,209.7 L520.0,209.7 L520.6,209.8 L521.3,209.8 L522.0,209.9 L522.6,209.9 L523.3,209.9 L523.9,210.0 L524.6,210.0 L525.3,210.1 L525.9,210.1 L526.6,210.1 L527.2,210.2 L527.9,210.2 L528.6,210.2 L529.2,210.3 L529.9,210.3 L530.6,210.3 L531.2,210.3 L531.9,210.4 L532.5,210.4 L533.2,210.4 L533.9,210.4 L534.5,210.5 L535.2,210.5 L535.8,210.5 L536.5,210.5 L537.2,210.5 L537.8,210.5 L538.5,210.6 L539.2,210.6 L539.8,210.6 L540.5,210.6 L541.1,210.6 L541.8,210.6 L542.5,210.6 L543.1,210.7 L543.1,211.1 L542.5,211.1 L541.8,211.1 L541.1,211.1 L540.5,211.1 L539.8,211.1 L539.2,211.1 L538.5,211.1 L537.8,211.1 L537.2,211.1 L536.5,211.1 L535.8,211.1 L535.2,211.1 L534.5,211.1 L533.9,211.1 L533.2,211.1 L532.5,211.1 L531.9,211.1 L531.2,211.1 L530.6,211.1 L529.9,211.1 L529.2,211.1 L528.6,211.1 L527.9,211.1 L527.2,211.1 L526.6,211.1 L525.9,211.1 L525.3,211.1 L524.6,211.1 L523.9,211.1 L523.3,211.1 L522.6,211.1 L522.0,211.1 L521.3,211.1 L520.6,211.1 L520.0,211.1 L519.3,211.2 L518.6,211.2 L518.0,211.2 L517.3,211.2 L516.7,211.2 L516.0,211.3 L515.3,211.3 L514.7,211.3 L514.0,211.3 L513.4,211.4 L512.7,211.4 L512.0,211.4 L511.4,211.4 L510.7,211.5 L510.0,211.5 L509.4,211.5 L508.7,211.5 L508.1,211.6 L507.4,211.6 L506.7,211.6 L506.1,211.6 L505.4,211.7 L504.8,211.7 L504.1,211.7 L503.4,211.7 L502.8,211.8 L502.1,211.8 L501.4,211.8 L500.8,211.8 L500.1,211.9 L499.5,211.9 L498.8,211.9 L498.1,211.9 L497.5,211.9 L496.8,211.9 L496.2,212.0 L495.5,212.0 L494.8,212.0 L494.2,212.0 L493.5,212.0 L492.8,212.0 L492.2,212.0 L491.5,212.0 L490.9,212.0 L490.2,212.0 L489.5,212.0 L488.9,212.0 L488.2,212.0 L487.6,212.0 L486.9,212.0 L486.2,212.0 L485.6,212.0 L484.9,212.0 L484.3,212.0 L483.6,212.0 L482.9,212.0 L482.3,212.0 L481.6,212.1 L480.9,212.2 L480.3,212.2 L479.6,212.4 L479.0,212.5 L478.3,212.6 L477.6,212.8 L477.0,212.9 L476.3,213.1 L475.7,213.5 L475.0,214.1 L474.3,215.2 L473.7,217.1 L473.0,219.9 L472.3,223.7 L471.7,228.4 L471.0,233.4 L470.4,238.2 L469.7,242.4 L469.0,245.6 L468.4,247.6 L467.7,248.7 L467.1,249.1 L466.4,249.2 L465.7,248.9 L465.1,248.2 L464.4,247.0 L463.7,245.5 L463.1,243.8 L462.4,242.0 L461.8,240.0 L461.1,238.1 L460.4,236.3 L459.8,234.5 L459.1,232.9 L458.5,231.3 L457.8,229.9 L457.1,228.6 L456.5,227.5 L455.8,226.4 L455.1,225.4 L454.5,224.6 L453.8,223.8 L453.2,223.1 L452.5,222.4 L451.8,221.8 L451.2,221.3 L450.5,220.8 L449.9,220.4 L449.2,220.0 L448.5,219.6 L447.9,219.3 L447.2,218.9 L446.5,218.7 L445.9,218.4 L445.2,218.1 L444.6,217.9 L443.9,217.7 L443.2,217.5 L442.6,217.3 L441.9,217.2 L441.3,217.0 L440.6,216.9 L439.9,216.7 L439.3,216.6 L438.6,216.5 L437.9,216.4 L437.3,216.3 L436.6,216.2 L436.0,216.1 L435.3,216.0 L434.6,215.9 L434.0,215.8 L433.3,215.8 L432.7,215.7 L432.0,215.6 L431.3,215.6 L430.7,215.5 L430.0,215.4 L429.3,215.4 L428.7,215.3 L428.0,215.3 L427.4,215.2 L426.7,215.2 L426.0,215.2 L425.4,215.1 L424.7,215.1 L424.1,215.0 L423.4,215.0 L422.7,215.0 L422.1,214.9 L421.4,214.9 L420.8,214.9 L420.1,214.9 L419.4,214.8 L418.8,214.8 L418.1,214.8 L417.4,214.8 L416.8,214.7 L416.1,214.7 L415.5,214.7 L414.8,214.7 L414.1,214.6 L413.5,214.6 L412.8,214.6 L412.2,214.6 L411.5,214.6 L410.8,214.6 L410.2,214.5 L409.5,214.5 L408.8,214.5 L408.2,214.5 L407.5,214.5 L406.9,214.5 L406.2,214.5 L405.5,214.4 L404.9,214.4 L404.2,214.4 L403.6,214.4 L402.9,214.4 L402.2,214.4 L401.6,214.4 L400.9,214.4 L400.2,214.4 L399.6,214.3 L398.9,214.3 L398.3,214.3 L397.6,214.3" fill="none" stroke="#1fdf1f" stroke-width="1.15" stroke-linejoin="round" />
<path d="M397.6,214.3 L398.3,214.3 L398.9,214.3 L399.6,214.3 L400.2,214.3 L400.9,214.3 L401.6,214.3 L402.2,214.3 L402.9,214.3 L403.6,214.3 L404.2,214.3 L404.9,214.3 L405.5,214.3 L406.2,214.3 L406.9,214.3 L407.5,214.3 L408.2,214.3 L408.8,214.3 L409.5,214.3 L410.2,214.3 L410.8,214.3 L411.5,214.3 L412.2,214.3 L412.8,214.3 L413.5,214.3 L414.1,214.3 L414.8,214.3 L415.5,214.3 L416.1,214.3 L416.8,214.3 L417.4,214.3 L418.1,214.3 L418.8,214.3 L419.4,214.3 L420.1,214.3 L420.8,214.3 L421.4,214.3 L422.1,214.3 L422.7,214.3 L423.4,214.3 L424.1,214.3 L424.7,214.3 L425.4,214.3 L426.0,214.3 L426.7,214.3 L427.4,214.3 L428.0,214.3 L428.7,214.3 L429.3,214.3 L430.0,214.3 L430.7,214.3 L431.3,214.3 L432.0,214.3 L432.7,214.3 L433.3,214.3 L434.0,214.3 L434.6,214.3 L435.3,214.3 L436.0,214.3 L436.6,214.3 L437.3,214.3 L437.9,214.3 L438.6,214.3 L439.3,214.3 L439.9,214.3 L440.6,214.3 L441.3,214.3 L441.9,214.3 L442.6,214.3 L443.2,214.3 L443.9,214.3 L444.6,214.3 L445.2,214.3 L445.9,214.3 L446.5,214.3 L447.2,214.3 L447.9,214.3 L448.5,214.3 L449.2,214.3 L449.9,214.3 L450.5,214.3 L451.2,214.3 L451.8,214.3 L452.5,214.2 L453.2,214.2 L453.8,214.2 L454.5,214.1 L455.1,214.1 L455.8,214.0 L456.5,214.0 L457.1,213.9 L457.8,213.8 L458.5,213.8 L459.1,213.7 L459.8,213.6 L460.4,213.6 L461.1,213.5 L461.8,213.4 L462.4,213.3 L463.1,213.3 L463.7,213.2 L464.4,213.1 L465.1,213.0 L465.7,213.0 L466.4,212.9 L467.1,212.8 L467.7,212.7 L468.4,212.7 L469.0,212.6 L469.7,212.5 L470.4,212.5 L471.0,212.4 L471.7,212.3 L472.3,212.3 L473.0,212.2 L473.7,212.1 L474.3,212.0 L475.0,211.8 L475.7,211.6 L476.3,211.2 L477.0,210.7 L477.6,209.8 L478.3,208.6 L479.0,207.0 L479.6,204.7 L480.3,201.7 L480.9,198.0 L481.6,193.6 L482.3,188.5 L482.9,182.9 L483.6,177.2 L484.3,171.7 L484.9,166.7 L485.6,162.8 L486.2,160.2 L486.9,159.2 L487.6,159.4 L488.2,160.5 L488.9,162.2 L489.5,164.4 L490.2,167.0 L490.9,169.9 L491.5,172.9 L492.2,175.9 L492.8,178.9 L493.5,181.7 L494.2,184.3 L494.8,186.7 L495.5,188.9 L496.2,191.0 L496.8,192.8 L497.5,194.5 L498.1,196.0 L498.8,197.3 L499.5,198.5 L500.1,199.6 L500.8,200.6 L501.4,201.4 L502.1,202.2 L502.8,202.9 L503.4,203.5 L504.1,204.1 L504.8,204.6 L505.4,205.1 L506.1,205.5 L506.7,205.9 L507.4,206.2 L508.1,206.5 L508.7,206.8 L509.4,207.1 L510.0,207.3 L510.7,207.5 L511.4,207.7 L512.0,207.9 L512.7,208.1 L513.4,208.2 L514.0,208.4 L514.7,208.5 L515.3,208.6 L516.0,208.7 L516.7,208.8 L517.3,208.9 L518.0,209.0 L518.6,209.1 L519.3,209.2 L520.0,209.2 L520.6,209.3 L521.3,209.4 L522.0,209.4 L522.6,209.5 L523.3,209.6 L523.9,209.6 L524.6,209.7 L525.3,209.7 L525.9,209.8 L526.6,209.8 L527.2,209.9 L527.9,209.9 L528.6,209.9 L529.2,210.0 L529.9,210.0 L530.6,210.1 L531.2,210.1 L531.9,210.1 L532.5,210.2 L533.2,210.2 L533.9,210.2 L534.5,210.2 L535.2,210.3 L535.8,210.3 L536.5,210.3 L537.2,210.3 L537.8,210.4 L538.5,210.4 L539.2,210.4 L539.8,210.4 L540.5,210.4 L541.1,210.5 L541.8,210.5 L542.5,210.5 L543.1,210.5 L543.1,211.1 L542.5,211.1 L541.8,211.1 L541.1,211.1 L540.5,211.1 L539.8,211.1 L539.2,211.1 L538.5,211.1 L537.8,211.1 L537.2,211.1 L536.5,211.1 L535.8,211.1 L535.2,211.1 L534.5,211.1 L533.9,211.1 L533.2,211.1 L532.5,211.1 L531.9,211.1 L531.2,211.1 L530.6,211.1 L529.9,211.1 L529.2,211.1 L528.6,211.1 L527.9,211.1 L527.2,211.1 L526.6,211.1 L525.9,211.1 L525.3,211.1 L524.6,211.1 L523.9,211.1 L523.3,211.1 L522.6,211.1 L522.0,211.1 L521.3,211.1 L520.6,211.1 L520.0,211.1 L519.3,211.2 L518.6,211.2 L518.0,211.2 L517.3,211.2 L516.7,211.2 L516.0,211.3 L515.3,211.3 L514.7,211.3 L514.0,211.3 L513.4,211.4 L512.7,211.4 L512.0,211.4 L511.4,211.4 L510.7,211.5 L510.0,211.5 L509.4,211.5 L508.7,211.5 L508.1,211.6 L507.4,211.6 L506.7,211.6 L506.1,211.6 L505.4,211.7 L504.8,211.7 L504.1,211.7 L503.4,211.7 L502.8,211.8 L502.1,211.8 L501.4,211.8 L500.8,211.8 L500.1,211.9 L499.5,211.9 L498.8,211.9 L498.1,211.9 L497.5,211.9 L496.8,211.9 L496.2,212.0 L495.5,212.0 L494.8,212.0 L494.2,212.0 L493.5,212.0 L492.8,212.0 L492.2,212.0 L491.5,212.0 L490.9,212.0 L490.2,212.0 L489.5,212.0 L488.9,212.0 L488.2,212.0 L487.6,212.0 L486.9,212.0 L486.2,212.0 L485.6,212.0 L484.9,212.0 L484.3,212.0 L483.6,212.0 L482.9,212.0 L482.3,212.0 L481.6,212.1 L480.9,212.2 L480.3,212.3 L479.6,212.4 L479.0,212.6 L478.3,212.8 L477.6,213.0 L477.0,213.2 L476.3,213.5 L475.7,213.9 L475.0,214.7 L474.3,215.9 L473.7,217.7 L473.0,220.2 L472.3,223.6 L471.7,227.7 L471.0,232.3 L470.4,237.0 L469.7,241.4 L469.0,245.3 L468.4,248.4 L467.7,250.7 L467.1,252.1 L466.4,252.8 L465.7,253.0 L465.1,253.1 L464.4,252.8 L463.7,252.1 L463.1,251.0 L462.4,249.5 L461.8,247.9 L461.1,246.0 L460.4,244.1 L459.8,242.2 L459.1,240.2 L458.5,238.4 L457.8,236.6 L457.1,235.0 L456.5,233.5 L455.8,232.0 L455.1,230.7 L454.5,229.5 L453.8,228.4 L453.2,227.4 L452.5,226.5 L451.8,225.7 L451.2,224.9 L450.5,224.2 L449.9,223.6 L449.2,223.0 L448.5,222.5 L447.9,222.0 L447.2,221.5 L446.5,221.1 L445.9,220.7 L445.2,220.4 L444.6,220.0 L443.9,219.7 L443.2,219.5 L442.6,219.2 L441.9,219.0 L441.3,218.7 L440.6,218.5 L439.9,218.3 L439.3,218.1 L438.6,218.0 L437.9,217.8 L437.3,217.7 L436.6,217.5 L436.0,217.4 L435.3,217.3 L434.6,217.2 L434.0,217.0 L433.3,216.9 L432.7,216.8 L432.0,216.7 L431.3,216.7 L430.7,216.6 L430.0,216.5 L429.3,216.4 L428.7,216.4 L428.0,216.3 L427.4,216.2 L426.7,216.2 L426.0,216.1 L425.4,216.0 L424.7,216.0 L424.1,215.9 L423.4,215.9 L422.7,215.8 L422.1,215.8 L421.4,215.8 L420.8,215.7 L420.1,215.7 L419.4,215.6 L418.8,215.6 L418.1,215.6 L417.4,215.5 L416.8,215.5 L416.1,215.5 L415.5,215.4 L414.8,215.4 L414.1,215.4 L413.5,215.4 L412.8,215.3 L412.2,215.3 L411.5,215.3 L410.8,215.3 L410.2,215.2 L409.5,215.2 L408.8,215.2 L408.2,215.2 L407.5,215.2 L406.9,215.1 L406.2,215.1 L405.5,215.1 L404.9,215.1 L404.2,215.1 L403.6,215.1 L402.9,215.0 L402.2,215.0 L401.6,215.0 L400.9,215.0 L400.2,215.0 L399.6,215.0 L398.9,215.0 L398.3,214.9 L397.6,214.9" fill="none" stroke="#ff1fff" stroke-width="1.15" stroke-linejoin="round" />
<path d="M483.5,198.0 L484.1,191.9 L485.4,179.9 L486.1,172.7 L487.3,164.3 L487.5,159.2 L488.3,152.0" fill="none" stroke="#111" stroke-width="1.1" stroke-dasharray="2.2,1.4"/>
<line x1="487.90" y1="155.60" x2="487.93" y2="155.34" stroke="#111" stroke-width="0.01"/>
<path d="M488.30,152.00 L489.72,156.38 L485.95,155.96 Z" fill="#111"/>
<path d="M470.0,221.0 L469.2,228.2 L468.2,236.4 L467.5,241.9 L466.4,247.3 L465.1,250.8 L464.9,261.2" fill="none" stroke="#111" stroke-width="1.1" stroke-dasharray="2.2,1.4"/>
<line x1="465.00" y1="256.00" x2="464.96" y2="257.84" stroke="#111" stroke-width="0.01"/>
<path d="M464.90,261.20 L463.08,256.96 L466.88,257.04 Z" fill="#111"/>
<text x="497.00" y="165.00" font-size="8.8" font-family="Liberation Serif" fill="#161616" stroke="#161616" stroke-width="0.12" text-anchor="start" >I<tspan font-size="0.85em" dy="2.0">A</tspan><tspan dy="-2.0"></tspan></text>
<text x="471.40" y="259.50" font-size="8.8" font-family="Liberation Serif" fill="#161616" stroke="#161616" stroke-width="0.12" text-anchor="start" >I<tspan font-size="0.85em" dy="2.0">C</tspan><tspan dy="-2.0"></tspan></text>
<rect x="39.70" y="296.60" width="145.60" height="116.30" fill="none" stroke="#2a2a2a" stroke-width="1.2"/>
<line x1="37.50" y1="309.60" x2="39.70" y2="309.60" stroke="#2a2a2a" stroke-width="0.9"/>
<text x="36.00" y="311.94" font-size="7.1" font-family="Liberation Serif" fill="#555555" text-anchor="end" textLength="15.2" lengthAdjust="spacingAndGlyphs">0.004</text>
<line x1="37.50" y1="335.50" x2="39.70" y2="335.50" stroke="#2a2a2a" stroke-width="0.9"/>
<text x="36.00" y="337.84" font-size="7.1" font-family="Liberation Serif" fill="#555555" text-anchor="end" textLength="15.2" lengthAdjust="spacingAndGlyphs">0.002</text>
<line x1="37.50" y1="361.40" x2="39.70" y2="361.40" stroke="#2a2a2a" stroke-width="0.9"/>
<text x="36.00" y="363.74" font-size="7.1" font-family="Liberation Serif" fill="#555555" text-anchor="end" textLength="15.2" lengthAdjust="spacingAndGlyphs">0.000</text>
<line x1="37.50" y1="387.30" x2="39.70" y2="387.30" stroke="#2a2a2a" stroke-width="0.9"/>
<text x="36.00" y="389.64" font-size="7.1" font-family="Liberation Serif" fill="#555555" text-anchor="end" textLength="18.3" lengthAdjust="spacingAndGlyphs">-0.002</text>
<line x1="37.50" y1="413.20" x2="39.70" y2="413.20" stroke="#2a2a2a" stroke-width="0.9"/>
<text x="36.00" y="415.54" font-size="7.1" font-family="Liberation Serif" fill="#555555" text-anchor="end" textLength="18.3" lengthAdjust="spacingAndGlyphs">-0.004</text>
<line x1="38.40" y1="322.55" x2="39.70" y2="322.55" stroke="#2a2a2a" stroke-width="0.8"/>
<line x1="38.40" y1="348.45" x2="39.70" y2="348.45" stroke="#2a2a2a" stroke-width="0.8"/>
<line x1="38.40" y1="374.35" x2="39.70" y2="374.35" stroke="#2a2a2a" stroke-width="0.8"/>
<line x1="38.40" y1="400.25" x2="39.70" y2="400.25" stroke="#2a2a2a" stroke-width="0.8"/>
<line x1="54.60" y1="412.90" x2="54.60" y2="415.10" stroke="#2a2a2a" stroke-width="0.9"/>
<text x="54.60" y="422.60" font-size="7.1" font-family="Liberation Serif" fill="#555555" text-anchor="middle" textLength="9.1" lengthAdjust="spacingAndGlyphs">0.3</text>
<line x1="83.47" y1="412.90" x2="83.47" y2="415.10" stroke="#2a2a2a" stroke-width="0.9"/>
<text x="83.47" y="422.60" font-size="7.1" font-family="Liberation Serif" fill="#555555" text-anchor="middle" textLength="9.1" lengthAdjust="spacingAndGlyphs">0.4</text>
<line x1="112.35" y1="412.90" x2="112.35" y2="415.10" stroke="#2a2a2a" stroke-width="0.9"/>
<text x="112.35" y="422.60" font-size="7.1" font-family="Liberation Serif" fill="#555555" text-anchor="middle" textLength="9.1" lengthAdjust="spacingAndGlyphs">0.5</text>
<line x1="141.22" y1="412.90" x2="141.22" y2="415.10" stroke="#2a2a2a" stroke-width="0.9"/>
<text x="141.22" y="422.60" font-size="7.1" font-family="Liberation Serif" fill="#555555" text-anchor="middle" textLength="9.1" lengthAdjust="spacingAndGlyphs">0.6</text>
<line x1="170.10" y1="412.90" x2="170.10" y2="415.10" stroke="#2a2a2a" stroke-width="0.9"/>
<text x="170.10" y="422.60" font-size="7.1" font-family="Liberation Serif" fill="#555555" text-anchor="middle" textLength="9.1" lengthAdjust="spacingAndGlyphs">0.7</text>
<line x1="69.04" y1="412.90" x2="69.04" y2="414.20" stroke="#2a2a2a" stroke-width="0.8"/>
<line x1="97.91" y1="412.90" x2="97.91" y2="414.20" stroke="#2a2a2a" stroke-width="0.8"/>
<line x1="126.79" y1="412.90" x2="126.79" y2="414.20" stroke="#2a2a2a" stroke-width="0.8"/>
<line x1="155.66" y1="412.90" x2="155.66" y2="414.20" stroke="#2a2a2a" stroke-width="0.8"/>
<line x1="39.7" y1="361.4" x2="185.3" y2="361.4" stroke="#2a2a2a" stroke-width="1.2"/>
<text x="5.90" y="301.50" font-size="13.5" font-family="Liberation Serif" fill="#161616" stroke="#161616" stroke-width="0.12" text-anchor="start" >(g)</text>
<text x="0" y="0" font-size="7.4" font-family="Liberation Serif" fill="#161616" text-anchor="middle" transform="translate(17.00,354.60) rotate(-90)">Peak current(A)</text>
<text x="60.50" y="433.20" font-size="7.75" font-family="Liberation Serif" fill="#161616" stroke="#161616" stroke-width="0.12" text-anchor="start" >Square root of scan rate(mV/s)<tspan font-size="0.92em" dy="-5.5">0.5</tspan></text>
<circle cx="49.5" cy="303.3" r="1.5" fill="#ff8c1a"/>
<text x="61.00" y="306.10" font-size="7.8" font-family="Liberation Serif" fill="#161616" stroke="#161616" stroke-width="0.12" text-anchor="start" >LFP/C-F<tspan font-size="0.72em" dy="1.8">3</tspan><tspan dy="-1.8"></tspan></text>
<circle cx="49.5" cy="314.2" r="1.5" fill="#ff1a1a"/>
<text x="61.00" y="317.00" font-size="7.8" font-family="Liberation Serif" fill="#161616" stroke="#161616" stroke-width="0.12" text-anchor="start" >LFP/C-Nb<tspan font-size="0.72em" dy="1.8">1</tspan><tspan dy="-1.8"></tspan></text>
<circle cx="49.5" cy="325.5" r="1.5" fill="#1a1aff"/>
<text x="61.00" y="328.30" font-size="7.8" font-family="Liberation Serif" fill="#161616" stroke="#161616" stroke-width="0.12" text-anchor="start" >LFP/C</text>
<line x1="59.3" y1="336.2" x2="172.2" y2="302.8" stroke="#ff8c1a" stroke-width="1.1"/>
<circle cx="59.3" cy="336.1" r="1.7" fill="#ff8c1a"/>
<circle cx="97.1" cy="325.5" r="1.7" fill="#ff8c1a"/>
<circle cx="126.1" cy="319.2" r="1.7" fill="#ff8c1a"/>
<circle cx="150.6" cy="311.3" r="1.7" fill="#ff8c1a"/>
<circle cx="172.2" cy="299.1" r="1.7" fill="#ff8c1a"/>
<line x1="59.3" y1="346.3" x2="172.2" y2="319" stroke="#ff1a1a" stroke-width="1.1"/>
<circle cx="59.3" cy="345.6" r="1.7" fill="#ff1a1a"/>
<circle cx="97.1" cy="337.9" r="1.7" fill="#ff1a1a"/>
<circle cx="126.1" cy="331.4" r="1.7" fill="#ff1a1a"/>
<circle cx="150.6" cy="323.7" r="1.7" fill="#ff1a1a"/>
<circle cx="172.2" cy="318.3" r="1.7" fill="#ff1a1a"/>
<line x1="59.3" y1="344.5" x2="172.2" y2="316.3" stroke="#1a1aff" stroke-width="1.1"/>
<circle cx="59.3" cy="344.1" r="1.7" fill="#1a1aff"/>
<circle cx="97.1" cy="334.3" r="1.7" fill="#1a1aff"/>
<circle cx="126.1" cy="327.7" r="1.7" fill="#1a1aff"/>
<circle cx="150.6" cy="321.9" r="1.7" fill="#1a1aff"/>
<circle cx="172.2" cy="316.8" r="1.7" fill="#1a1aff"/>
<line x1="59.3" y1="378.3" x2="172.2" y2="406" stroke="#ff8c1a" stroke-width="1.1"/>
<circle cx="59.3" cy="378.7" r="1.7" fill="#ff8c1a"/>
<circle cx="97.1" cy="387.4" r="1.7" fill="#ff8c1a"/>
<circle cx="126.1" cy="393.6" r="1.7" fill="#ff8c1a"/>
<circle cx="150.6" cy="399.6" r="1.7" fill="#ff8c1a"/>
<circle cx="172.2" cy="406.5" r="1.7" fill="#ff8c1a"/>
<line x1="59.3" y1="373.5" x2="172.2" y2="396.5" stroke="#ff1a1a" stroke-width="1.1"/>
<circle cx="59.3" cy="373.2" r="1.7" fill="#ff1a1a"/>
<circle cx="97.1" cy="380.1" r="1.7" fill="#ff1a1a"/>
<circle cx="126.1" cy="386" r="1.7" fill="#ff1a1a"/>
<circle cx="150.6" cy="392" r="1.7" fill="#ff1a1a"/>
<circle cx="172.2" cy="396.5" r="1.7" fill="#ff1a1a"/>
<line x1="59.3" y1="375.2" x2="172.2" y2="394.5" stroke="#1a1aff" stroke-width="1.1"/>
<circle cx="59.3" cy="375" r="1.7" fill="#1a1aff"/>
<circle cx="97.1" cy="382.3" r="1.7" fill="#1a1aff"/>
<circle cx="126.1" cy="386.9" r="1.7" fill="#1a1aff"/>
<circle cx="150.6" cy="391.1" r="1.7" fill="#1a1aff"/>
<circle cx="172.2" cy="394.2" r="1.7" fill="#1a1aff"/>
<text x="142.80" y="356.00" font-size="7.7" font-family="Liberation Serif" fill="#161616" stroke="#161616" stroke-width="0.12" text-anchor="start" >I<tspan font-size="0.9em" dy="1.8">A</tspan><tspan dy="-1.8"> Charge</tspan></text>
<text x="138.30" y="372.00" font-size="7.7" font-family="Liberation Serif" fill="#161616" stroke="#161616" stroke-width="0.12" text-anchor="start" >I<tspan font-size="0.9em" dy="1.8">C</tspan><tspan dy="-1.8"> Discharge</tspan></text>
<rect x="217.40" y="296.80" width="145.10" height="116.40" fill="none" stroke="#2a2a2a" stroke-width="1.2"/>
<line x1="215.20" y1="413.20" x2="217.40" y2="413.20" stroke="#2a2a2a" stroke-width="0.9"/>
<text x="213.90" y="415.54" font-size="7.1" font-family="Liberation Serif" fill="#555555" text-anchor="end" textLength="3.0" lengthAdjust="spacingAndGlyphs">0</text>
<line x1="215.20" y1="389.92" x2="217.40" y2="389.92" stroke="#2a2a2a" stroke-width="0.9"/>
<text x="213.90" y="392.26" font-size="7.1" font-family="Liberation Serif" fill="#555555" text-anchor="end" textLength="6.1" lengthAdjust="spacingAndGlyphs">20</text>
<line x1="215.20" y1="366.64" x2="217.40" y2="366.64" stroke="#2a2a2a" stroke-width="0.9"/>
<text x="213.90" y="368.98" font-size="7.1" font-family="Liberation Serif" fill="#555555" text-anchor="end" textLength="6.1" lengthAdjust="spacingAndGlyphs">40</text>
<line x1="215.20" y1="343.36" x2="217.40" y2="343.36" stroke="#2a2a2a" stroke-width="0.9"/>
<text x="213.90" y="345.70" font-size="7.1" font-family="Liberation Serif" fill="#555555" text-anchor="end" textLength="6.1" lengthAdjust="spacingAndGlyphs">60</text>
<line x1="215.20" y1="320.08" x2="217.40" y2="320.08" stroke="#2a2a2a" stroke-width="0.9"/>
<text x="213.90" y="322.42" font-size="7.1" font-family="Liberation Serif" fill="#555555" text-anchor="end" textLength="6.1" lengthAdjust="spacingAndGlyphs">80</text>
<line x1="215.20" y1="296.80" x2="217.40" y2="296.80" stroke="#2a2a2a" stroke-width="0.9"/>
<text x="213.90" y="299.14" font-size="7.1" font-family="Liberation Serif" fill="#555555" text-anchor="end" textLength="9.1" lengthAdjust="spacingAndGlyphs">100</text>
<line x1="216.10" y1="401.56" x2="217.40" y2="401.56" stroke="#2a2a2a" stroke-width="0.8"/>
<line x1="216.10" y1="378.28" x2="217.40" y2="378.28" stroke="#2a2a2a" stroke-width="0.8"/>
<line x1="216.10" y1="355.00" x2="217.40" y2="355.00" stroke="#2a2a2a" stroke-width="0.8"/>
<line x1="216.10" y1="331.72" x2="217.40" y2="331.72" stroke="#2a2a2a" stroke-width="0.8"/>
<line x1="216.10" y1="308.44" x2="217.40" y2="308.44" stroke="#2a2a2a" stroke-width="0.8"/>
<line x1="217.60" y1="413.20" x2="217.60" y2="415.40" stroke="#2a2a2a" stroke-width="0.9"/>
<text x="217.60" y="422.60" font-size="7.1" font-family="Liberation Serif" fill="#555555" text-anchor="middle" textLength="3.0" lengthAdjust="spacingAndGlyphs">0</text>
<line x1="246.54" y1="413.20" x2="246.54" y2="415.40" stroke="#2a2a2a" stroke-width="0.9"/>
<text x="246.54" y="422.60" font-size="7.1" font-family="Liberation Serif" fill="#555555" text-anchor="middle" textLength="6.1" lengthAdjust="spacingAndGlyphs">20</text>
<line x1="275.48" y1="413.20" x2="275.48" y2="415.40" stroke="#2a2a2a" stroke-width="0.9"/>
<text x="275.48" y="422.60" font-size="7.1" font-family="Liberation Serif" fill="#555555" text-anchor="middle" textLength="6.1" lengthAdjust="spacingAndGlyphs">40</text>
<line x1="304.42" y1="413.20" x2="304.42" y2="415.40" stroke="#2a2a2a" stroke-width="0.9"/>
<text x="304.42" y="422.60" font-size="7.1" font-family="Liberation Serif" fill="#555555" text-anchor="middle" textLength="6.1" lengthAdjust="spacingAndGlyphs">60</text>
<line x1="333.36" y1="413.20" x2="333.36" y2="415.40" stroke="#2a2a2a" stroke-width="0.9"/>
<text x="333.36" y="422.60" font-size="7.1" font-family="Liberation Serif" fill="#555555" text-anchor="middle" textLength="6.1" lengthAdjust="spacingAndGlyphs">80</text>
<line x1="362.30" y1="413.20" x2="362.30" y2="415.40" stroke="#2a2a2a" stroke-width="0.9"/>
<text x="362.30" y="422.60" font-size="7.1" font-family="Liberation Serif" fill="#555555" text-anchor="middle" textLength="9.1" lengthAdjust="spacingAndGlyphs">100</text>
<line x1="232.07" y1="413.20" x2="232.07" y2="414.50" stroke="#2a2a2a" stroke-width="0.8"/>
<line x1="261.01" y1="413.20" x2="261.01" y2="414.50" stroke="#2a2a2a" stroke-width="0.8"/>
<line x1="289.95" y1="413.20" x2="289.95" y2="414.50" stroke="#2a2a2a" stroke-width="0.8"/>
<line x1="318.89" y1="413.20" x2="318.89" y2="414.50" stroke="#2a2a2a" stroke-width="0.8"/>
<line x1="347.83" y1="413.20" x2="347.83" y2="414.50" stroke="#2a2a2a" stroke-width="0.8"/>
<text x="186.80" y="304.60" font-size="13.5" font-family="Liberation Serif" fill="#161616" stroke="#161616" stroke-width="0.12" text-anchor="start" >(h)</text>
<text x="0" y="0" font-size="7.9" font-family="Liberation Serif" fill="#161616" stroke="#161616" stroke-width="0.15" text-anchor="middle" transform="translate(203.6,354.5) rotate(-90)">-<tspan font-style="italic">Z</tspan>''(ohm)</text>
<text x="277.4" y="433.2" font-size="8.2" font-family="Liberation Serif" fill="#161616" stroke="#161616" stroke-width="0.15"><tspan font-style="italic">Z</tspan>'(ohm)</text>
<clipPath id="ch"><rect x="217.4" y="296.8" width="145.1" height="116.4"/></clipPath><g clip-path="url(#ch)">
<path d="M222.0,413.0 L222.1,412.9 L222.2,412.7 L222.4,412.5 L222.5,412.3 L222.7,412.1 L222.8,411.9 L223.0,411.7 L223.2,411.4 L223.4,411.2 L223.6,410.9 L223.9,410.7 L224.1,410.4 L224.3,410.2 L224.5,410.0 L224.7,409.8 L224.9,409.6 L225.2,409.4 L225.4,409.2 L225.7,409.1 L225.9,408.9 L226.2,408.7 L226.4,408.5 L226.7,408.4 L226.9,408.2 L227.2,408.0 L227.5,407.9 L227.7,407.7 L228.0,407.6 L228.3,407.5 L228.5,407.3 L228.8,407.2 L229.1,407.1 L229.4,407.0 L229.6,406.9 L229.9,406.8 L230.2,406.7 L230.5,406.7 L230.8,406.6 L231.1,406.5 L231.4,406.4 L231.7,406.4 L232.0,406.3 L232.3,406.2 L232.6,406.2 L233.0,406.1 L233.3,406.1 L233.6,406.0 L234.0,406.0 L234.3,406.0 L234.7,405.9 L235.0,405.9 L235.4,405.9 L235.7,405.8 L236.0,405.8 L236.4,405.8 L236.7,405.8 L237.0,405.8 L237.3,405.8 L237.7,405.8 L238.0,405.8 L238.3,405.8 L238.6,405.8 L238.9,405.9 L239.2,405.9 L239.5,405.9 L239.8,405.9 L240.1,406.0 L240.4,406.0 L240.7,406.1 L241.0,406.1 L241.3,406.1 L241.6,406.2 L241.9,406.3 L242.2,406.3 L242.5,406.4 L242.8,406.5 L243.1,406.6 L243.3,406.6 L243.6,406.7 L243.9,406.8 L244.2,406.9 L244.5,407.0 L244.7,407.0 L245.0,407.1 L245.3,407.2 L245.5,407.2 L245.8,407.3 L246.1,407.4 L246.3,407.5 L246.6,407.6 L246.9,407.6 L247.1,407.7 L247.4,407.8 L247.6,407.9 L247.9,407.9 L248.1,408.0 L248.3,408.1 L248.5,408.1 L248.7,408.1 L248.9,408.2 L249.0,408.2 L249.2,408.3 L249.3,408.3 L249.4,408.3 L249.6,408.4 L249.7,408.4 L249.8,408.4 L250.0,408.4 L250.1,408.4 L250.2,408.4 L250.4,408.4 L250.5,408.4 L250.7,408.4 L250.8,408.3 L251.0,408.3 L251.1,408.3 L251.3,408.2 L251.4,408.2 L251.6,408.1 L251.8,408.1 L251.9,408.0 L252.1,407.9 L252.3,407.8 L252.5,407.7 L252.6,407.5 L252.8,407.4 L253.0,407.2 L253.1,407.0 L253.3,406.8 L253.5,406.6 L253.7,406.4 L253.9,406.2 L254.0,405.9 L254.2,405.6 L254.4,405.4 L254.6,405.1 L254.8,404.8 L255.0,404.5 L255.2,404.3 L255.4,404.0 L255.6,403.7 L255.9,403.4 L256.1,403.1 L256.3,402.8 L256.6,402.5 L256.8,402.2 L257.1,401.9 L257.4,401.6 L257.6,401.3 L257.9,401.0 L258.1,400.7 L258.4,400.4 L258.6,400.1 L258.8,399.8 L259.0,399.5 L259.2,399.3 L259.4,399.0 L259.6,398.7 L259.8,398.5 L259.9,398.2 L260.1,398.0 L260.3,397.8 L260.4,397.5 L260.6,397.3 L260.8,397.0 L260.9,396.8 L261.1,396.5 L261.3,396.3 L261.5,396.1 L261.7,395.8 L261.9,395.6 L262.1,395.3 L262.3,395.1 L262.5,394.8 L262.6,394.6 L262.8,394.4 L263.0,394.1 L263.2,393.9 L263.4,393.6 L263.6,393.4 L263.7,393.1 L263.9,392.9 L264.0,392.7 L264.2,392.4 L264.3,392.2 L264.4,391.9 L264.5,391.7 L264.6,391.4 L264.8,391.2 L264.9,391.0 L265.0,390.7 L265.1,390.5 L265.2,390.2 L265.3,390.0 L265.5,389.7 L265.6,389.5 L265.7,389.3 L265.9,389.1 L266.0,388.9 L266.2,388.7 L266.3,388.5 L266.4,388.3 L266.6,388.1 L266.8,387.9 L266.9,387.7 L267.1,387.4 L267.4,387.1 L267.6,386.8 L267.9,386.5 L268.2,386.1 L268.5,385.7 L268.9,385.2 L269.4,384.6 L269.8,384.0 L270.3,383.4 L270.8,382.8 L271.3,382.2 L271.9,381.5 L272.4,380.8 L272.9,380.2 L273.4,379.6 L273.9,379.0 L274.3,378.4 L274.7,377.9 L275.1,377.4 L275.4,377.0 L275.7,376.5 L276.0,376.1 L276.3,375.7 L276.6,375.3 L276.9,374.9 L277.2,374.5 L277.4,374.1 L277.7,373.8 L278.0,373.4 L278.3,373.0 L278.6,372.5 L278.9,372.1 L279.2,371.6 L279.6,371.2 L279.9,370.7 L280.3,370.3 L280.7,369.8 L281.0,369.3 L281.4,368.8 L281.8,368.3 L282.1,367.8 L282.5,367.3 L282.9,366.8 L283.3,366.3 L283.6,365.8 L284.0,365.3 L284.4,364.8 L284.7,364.2 L285.1,363.7 L285.5,363.2 L285.9,362.6 L286.3,362.0 L286.6,361.5 L287.0,360.9 L287.4,360.4 L287.8,359.8 L288.1,359.2 L288.5,358.7 L288.8,358.1 L289.2,357.6 L289.5,357.1 L289.9,356.5 L290.2,356.0 L290.6,355.5 L290.9,355.0 L291.2,354.4 L291.5,353.9 L291.9,353.4 L292.2,352.9 L292.5,352.4 L292.8,351.8 L293.1,351.3 L293.5,350.8 L293.8,350.2 L294.1,349.6 L294.5,349.1 L294.8,348.5 L295.1,347.9 L295.5,347.4 L295.8,346.8 L296.1,346.2 L296.4,345.6 L296.8,345.0 L297.1,344.4 L297.4,343.8 L297.8,343.2 L298.1,342.6 L298.4,342.0 L298.7,341.4 L299.0,340.8 L299.3,340.2 L299.6,339.5 L300.0,338.9 L300.3,338.3 L300.6,337.7 L300.9,337.0 L301.2,336.4 L301.5,335.8 L301.8,335.1 L302.1,334.5 L302.5,333.8 L302.8,333.1 L303.1,332.4 L303.5,331.7 L303.9,331.0 L304.2,330.3 L304.6,329.6 L304.9,328.9 L305.3,328.2 L305.7,327.4 L306.1,326.7 L306.5,326.0 L306.8,325.2 L307.2,324.4 L307.6,323.6 L308.0,322.8 L308.4,322.0 L308.8,321.1 L309.2,320.3 L309.6,319.4 L310.0,318.5 L310.4,317.6 L310.8,316.7 L311.2,315.8 L311.6,314.9 L312.0,313.9 L312.4,313.0 L312.8,312.1 L313.3,311.1 L313.7,310.2 L314.1,309.2 L314.6,308.3 L315.1,307.2 L315.6,306.2 L316.1,305.1 L316.6,304.1 L317.1,303.0 L317.6,302.0 L318.0,301.0 L318.5,300.0 L318.9,299.1 L319.3,298.3 L319.7,297.5 L320.0,296.8 L320.3,296.2 L320.5,295.6 L320.7,295.1 L320.9,294.7 L321.1,294.3 L321.3,293.9 L321.4,293.6 L321.5,293.3 L321.6,293.0 L321.7,292.8 L321.8,292.6 L321.9,292.4 L321.9,292.2 L322.0,292.0" fill="none" stroke="#ff8a8a" stroke-width="0.6"/>
<circle cx="222.0" cy="413.0" r="1.25" fill="#ff2424"/>
<circle cx="222.6" cy="412.2" r="1.25" fill="#ff2424"/>
<circle cx="223.2" cy="411.4" r="1.25" fill="#ff2424"/>
<circle cx="223.9" cy="410.6" r="1.25" fill="#ff2424"/>
<circle cx="224.6" cy="409.9" r="1.25" fill="#ff2424"/>
<circle cx="225.3" cy="409.3" r="1.25" fill="#ff2424"/>
<circle cx="226.1" cy="408.7" r="1.25" fill="#ff2424"/>
<circle cx="227.0" cy="408.2" r="1.25" fill="#ff2424"/>
<circle cx="227.9" cy="407.7" r="1.25" fill="#ff2424"/>
<circle cx="228.8" cy="407.3" r="1.25" fill="#ff2424"/>
<circle cx="229.7" cy="406.9" r="1.25" fill="#ff2424"/>
<circle cx="230.7" cy="406.6" r="1.25" fill="#ff2424"/>
<circle cx="231.6" cy="406.4" r="1.25" fill="#ff2424"/>
<circle cx="232.6" cy="406.2" r="1.25" fill="#ff2424"/>
<circle cx="233.6" cy="406.0" r="1.25" fill="#ff2424"/>
<circle cx="234.6" cy="405.9" r="1.25" fill="#ff2424"/>
<circle cx="235.6" cy="405.8" r="1.25" fill="#ff2424"/>
<circle cx="236.6" cy="405.8" r="1.25" fill="#ff2424"/>
<circle cx="237.6" cy="405.8" r="1.25" fill="#ff2424"/>
<circle cx="238.6" cy="405.8" r="1.25" fill="#ff2424"/>
<circle cx="239.6" cy="405.9" r="1.25" fill="#ff2424"/>
<circle cx="240.6" cy="406.0" r="1.25" fill="#ff2424"/>
<circle cx="241.6" cy="406.2" r="1.25" fill="#ff2424"/>
<circle cx="242.5" cy="406.4" r="1.25" fill="#ff2424"/>
<circle cx="243.5" cy="406.7" r="1.25" fill="#ff2424"/>
<circle cx="244.5" cy="407.0" r="1.25" fill="#ff2424"/>
<circle cx="245.4" cy="407.2" r="1.25" fill="#ff2424"/>
<circle cx="246.4" cy="407.5" r="1.25" fill="#ff2424"/>
<circle cx="247.3" cy="407.8" r="1.25" fill="#ff2424"/>
<circle cx="248.3" cy="408.1" r="1.25" fill="#ff2424"/>
<circle cx="249.3" cy="408.3" r="1.25" fill="#ff2424"/>
<circle cx="250.3" cy="408.4" r="1.25" fill="#ff2424"/>
<circle cx="251.2" cy="408.2" r="1.25" fill="#ff2424"/>
<circle cx="252.2" cy="407.9" r="1.25" fill="#ff2424"/>
<circle cx="253.9" cy="406.1" r="1.50" fill="#ff2424"/>
<circle cx="254.9" cy="404.6" r="1.50" fill="#ff2424"/>
<circle cx="256.1" cy="403.1" r="1.50" fill="#ff2424"/>
<circle cx="257.5" cy="401.4" r="1.50" fill="#ff2424"/>
<circle cx="259.0" cy="399.6" r="1.50" fill="#ff2424"/>
<circle cx="260.5" cy="397.5" r="1.50" fill="#ff2424"/>
<circle cx="262.1" cy="395.2" r="1.50" fill="#ff2424"/>
<circle cx="264.0" cy="392.8" r="1.50" fill="#ff2424"/>
<circle cx="265.4" cy="389.8" r="1.50" fill="#ff2424"/>
<circle cx="267.6" cy="386.8" r="1.50" fill="#ff2424"/>
<circle cx="270.2" cy="383.6" r="1.50" fill="#ff2424"/>
<circle cx="272.9" cy="380.2" r="1.50" fill="#ff2424"/>
<circle cx="275.8" cy="376.4" r="1.50" fill="#ff2424"/>
<circle cx="278.9" cy="372.1" r="1.50" fill="#ff2424"/>
<circle cx="282.3" cy="367.6" r="1.50" fill="#ff2424"/>
<circle cx="285.9" cy="362.5" r="1.50" fill="#ff2424"/>
<circle cx="289.7" cy="356.8" r="1.50" fill="#ff2424"/>
<circle cx="293.7" cy="350.4" r="1.50" fill="#ff2424"/>
<circle cx="297.7" cy="343.3" r="1.50" fill="#ff2424"/>
<circle cx="301.8" cy="335.2" r="1.50" fill="#ff2424"/>
<circle cx="306.3" cy="326.3" r="1.50" fill="#ff2424"/>
<circle cx="310.9" cy="316.4" r="1.50" fill="#ff2424"/>
<circle cx="316.0" cy="305.3" r="1.50" fill="#ff2424"/>
<circle cx="321.6" cy="293.1" r="1.50" fill="#ff2424"/>
<path d="M222.0,413.0 L222.1,412.9 L222.3,412.7 L222.4,412.6 L222.6,412.4 L222.8,412.1 L223.0,411.9 L223.2,411.7 L223.5,411.4 L223.7,411.2 L224.0,410.9 L224.2,410.7 L224.5,410.4 L224.7,410.2 L225.0,410.0 L225.3,409.8 L225.5,409.6 L225.8,409.4 L226.0,409.2 L226.3,409.0 L226.6,408.8 L226.9,408.6 L227.2,408.4 L227.5,408.2 L227.8,408.0 L228.1,407.8 L228.4,407.6 L228.7,407.5 L229.0,407.3 L229.3,407.1 L229.7,407.0 L230.0,406.8 L230.4,406.6 L230.7,406.5 L231.1,406.3 L231.4,406.2 L231.8,406.0 L232.2,405.9 L232.5,405.8 L232.9,405.6 L233.3,405.5 L233.6,405.4 L234.0,405.3 L234.4,405.2 L234.7,405.1 L235.1,405.0 L235.5,405.0 L235.8,404.9 L236.2,404.9 L236.6,404.8 L236.9,404.8 L237.3,404.7 L237.6,404.7 L238.0,404.7 L238.3,404.6 L238.7,404.6 L239.0,404.6 L239.3,404.6 L239.6,404.6 L239.9,404.6 L240.2,404.6 L240.5,404.6 L240.8,404.6 L241.1,404.6 L241.3,404.6 L241.6,404.6 L241.9,404.7 L242.2,404.7 L242.4,404.7 L242.7,404.8 L243.0,404.8 L243.3,404.8 L243.6,404.9 L243.9,404.9 L244.2,405.0 L244.4,405.0 L244.7,405.1 L245.0,405.1 L245.3,405.2 L245.6,405.2 L245.9,405.3 L246.2,405.4 L246.5,405.4 L246.7,405.5 L247.0,405.6 L247.3,405.7 L247.5,405.8 L247.8,405.9 L248.0,406.0 L248.3,406.1 L248.6,406.2 L248.8,406.3 L249.0,406.4 L249.3,406.5 L249.5,406.6 L249.8,406.7 L250.0,406.8 L250.3,406.9 L250.5,407.0 L250.7,407.1 L251.0,407.2 L251.2,407.3 L251.5,407.4 L251.7,407.5 L252.0,407.6 L252.2,407.8 L252.4,407.9 L252.7,408.0 L252.9,408.0 L253.1,408.1 L253.3,408.2 L253.5,408.3 L253.7,408.3 L253.9,408.3 L254.0,408.4 L254.1,408.4 L254.2,408.4 L254.3,408.4 L254.4,408.5 L254.5,408.5 L254.6,408.4 L254.7,408.4 L254.8,408.4 L255.0,408.3 L255.1,408.2 L255.2,408.1 L255.4,408.0 L255.6,407.8 L255.8,407.7 L256.0,407.5 L256.2,407.2 L256.5,407.0 L256.7,406.7 L257.0,406.5 L257.3,406.2 L257.5,405.9 L257.8,405.6 L258.0,405.3 L258.3,405.0 L258.6,404.8 L258.8,404.5 L259.0,404.2 L259.3,404.0 L259.5,403.7 L259.7,403.4 L260.0,403.2 L260.2,402.9 L260.4,402.6 L260.7,402.3 L260.9,402.0 L261.2,401.8 L261.4,401.5 L261.7,401.2 L261.9,400.9 L262.2,400.6 L262.5,400.3 L262.8,400.0 L263.1,399.7 L263.4,399.4 L263.7,399.1 L264.0,398.8 L264.3,398.5 L264.6,398.2 L264.9,397.8 L265.3,397.5 L265.6,397.2 L265.9,396.9 L266.2,396.6 L266.5,396.3 L266.8,396.0 L267.1,395.7 L267.4,395.4 L267.7,395.1 L268.0,394.8 L268.3,394.5 L268.6,394.2 L268.9,393.9 L269.2,393.6 L269.5,393.3 L269.8,393.0 L270.1,392.7 L270.4,392.4 L270.7,392.1 L271.0,391.8 L271.3,391.5 L271.6,391.2 L271.9,390.9 L272.2,390.6 L272.5,390.4 L272.8,390.1 L273.1,389.8 L273.4,389.5 L273.7,389.2 L274.0,388.8 L274.3,388.5 L274.7,388.2 L275.0,387.8 L275.3,387.4 L275.7,387.0 L276.0,386.6 L276.4,386.2 L276.8,385.7 L277.1,385.3 L277.5,384.8 L277.9,384.4 L278.2,383.9 L278.6,383.5 L279.0,383.0 L279.4,382.6 L279.7,382.2 L280.1,381.8 L280.5,381.4 L280.8,381.1 L281.2,380.7 L281.6,380.4 L281.9,380.1 L282.3,379.7 L282.7,379.4 L283.0,379.1 L283.4,378.8 L283.8,378.5 L284.1,378.2 L284.5,377.9 L284.8,377.5 L285.2,377.2 L285.6,376.9 L285.9,376.5 L286.2,376.2 L286.6,375.9 L286.9,375.6 L287.2,375.2 L287.6,374.9 L287.9,374.6 L288.2,374.2 L288.6,373.9 L288.9,373.5 L289.3,373.2 L289.6,372.8 L290.0,372.4 L290.4,372.0 L290.8,371.6 L291.1,371.1 L291.5,370.7 L291.9,370.3 L292.3,369.8 L292.7,369.3 L293.1,368.9 L293.5,368.4 L293.9,367.9 L294.3,367.4 L294.7,367.0 L295.1,366.5 L295.5,366.0 L295.9,365.5 L296.2,365.0 L296.6,364.6 L297.0,364.1 L297.4,363.6 L297.7,363.1 L298.1,362.6 L298.4,362.1 L298.8,361.6 L299.2,361.1 L299.5,360.6 L299.9,360.1 L300.2,359.6 L300.6,359.1 L301.0,358.6 L301.3,358.1 L301.7,357.6 L302.1,357.2 L302.5,356.7 L302.8,356.2 L303.2,355.7 L303.6,355.2 L304.0,354.8 L304.3,354.3 L304.7,353.8 L305.0,353.3 L305.4,352.8 L305.7,352.3 L306.0,351.8 L306.3,351.3 L306.6,350.8 L306.9,350.3 L307.2,349.8 L307.4,349.3 L307.7,348.8 L308.0,348.3 L308.3,347.8 L308.5,347.3 L308.8,346.7 L309.1,346.2 L309.4,345.7 L309.7,345.1 L310.0,344.5 L310.4,344.0 L310.7,343.4 L311.0,342.8 L311.4,342.2 L311.8,341.6 L312.1,341.0 L312.5,340.4 L312.9,339.7 L313.2,339.1 L313.6,338.5 L313.9,337.8 L314.3,337.2 L314.6,336.5 L314.9,335.8 L315.3,335.2 L315.6,334.5 L315.9,333.8 L316.2,333.1 L316.5,332.4 L316.8,331.7 L317.2,331.0 L317.5,330.3 L317.8,329.6 L318.1,328.8 L318.4,328.1 L318.7,327.4 L319.0,326.6 L319.3,325.8 L319.6,325.1 L319.9,324.3 L320.2,323.5 L320.5,322.7 L320.8,321.9 L321.1,321.1 L321.4,320.3 L321.7,319.5 L322.0,318.6 L322.3,317.8 L322.6,316.9 L322.9,316.1 L323.2,315.2 L323.5,314.3 L323.9,313.3 L324.2,312.3 L324.6,311.3 L325.0,310.3 L325.4,309.3 L325.7,308.2 L326.1,307.2 L326.5,306.2 L326.8,305.2 L327.1,304.3 L327.5,303.4 L327.7,302.6 L328.0,301.8 L328.2,301.1 L328.5,300.4 L328.6,299.8 L328.8,299.2 L329.0,298.6 L329.2,298.1 L329.3,297.6 L329.4,297.1 L329.5,296.7 L329.7,296.3 L329.8,295.9 L329.8,295.6 L329.9,295.3 L330.0,295.0" fill="none" stroke="#8a8a8a" stroke-width="0.6"/>
<rect x="220.8" y="411.9" width="2.3" height="2.3" fill="#2e2e2e"/>
<rect x="221.5" y="411.1" width="2.3" height="2.3" fill="#2e2e2e"/>
<rect x="222.2" y="410.4" width="2.3" height="2.3" fill="#2e2e2e"/>
<rect x="222.9" y="409.7" width="2.3" height="2.3" fill="#2e2e2e"/>
<rect x="223.7" y="409.0" width="2.3" height="2.3" fill="#2e2e2e"/>
<rect x="224.4" y="408.4" width="2.3" height="2.3" fill="#2e2e2e"/>
<rect x="225.2" y="407.8" width="2.3" height="2.3" fill="#2e2e2e"/>
<rect x="226.1" y="407.2" width="2.3" height="2.3" fill="#2e2e2e"/>
<rect x="226.9" y="406.7" width="2.3" height="2.3" fill="#2e2e2e"/>
<rect x="227.8" y="406.2" width="2.3" height="2.3" fill="#2e2e2e"/>
<rect x="228.7" y="405.7" width="2.3" height="2.3" fill="#2e2e2e"/>
<rect x="229.6" y="405.3" width="2.3" height="2.3" fill="#2e2e2e"/>
<rect x="230.5" y="404.9" width="2.3" height="2.3" fill="#2e2e2e"/>
<rect x="231.4" y="404.6" width="2.3" height="2.3" fill="#2e2e2e"/>
<rect x="232.4" y="404.3" width="2.3" height="2.3" fill="#2e2e2e"/>
<rect x="233.4" y="404.0" width="2.3" height="2.3" fill="#2e2e2e"/>
<rect x="234.3" y="403.8" width="2.3" height="2.3" fill="#2e2e2e"/>
<rect x="235.3" y="403.7" width="2.3" height="2.3" fill="#2e2e2e"/>
<rect x="236.3" y="403.6" width="2.3" height="2.3" fill="#2e2e2e"/>
<rect x="237.3" y="403.5" width="2.3" height="2.3" fill="#2e2e2e"/>
<rect x="238.3" y="403.4" width="2.3" height="2.3" fill="#2e2e2e"/>
<rect x="239.3" y="403.4" width="2.3" height="2.3" fill="#2e2e2e"/>
<rect x="240.3" y="403.5" width="2.3" height="2.3" fill="#2e2e2e"/>
<rect x="241.3" y="403.6" width="2.3" height="2.3" fill="#2e2e2e"/>
<rect x="242.3" y="403.7" width="2.3" height="2.3" fill="#2e2e2e"/>
<rect x="243.3" y="403.9" width="2.3" height="2.3" fill="#2e2e2e"/>
<rect x="244.3" y="404.1" width="2.3" height="2.3" fill="#2e2e2e"/>
<rect x="245.2" y="404.3" width="2.3" height="2.3" fill="#2e2e2e"/>
<rect x="246.2" y="404.6" width="2.3" height="2.3" fill="#2e2e2e"/>
<rect x="247.1" y="404.9" width="2.3" height="2.3" fill="#2e2e2e"/>
<rect x="248.1" y="405.3" width="2.3" height="2.3" fill="#2e2e2e"/>
<rect x="249.0" y="405.7" width="2.3" height="2.3" fill="#2e2e2e"/>
<rect x="249.9" y="406.1" width="2.3" height="2.3" fill="#2e2e2e"/>
<rect x="250.8" y="406.5" width="2.3" height="2.3" fill="#2e2e2e"/>
<rect x="251.7" y="406.9" width="2.3" height="2.3" fill="#2e2e2e"/>
<rect x="252.7" y="407.2" width="2.3" height="2.3" fill="#2e2e2e"/>
<rect x="253.7" y="407.2" width="2.3" height="2.3" fill="#2e2e2e"/>
<rect x="255.3" y="405.6" width="2.6" height="2.6" fill="#2e2e2e"/>
<rect x="256.4" y="404.4" width="2.6" height="2.6" fill="#2e2e2e"/>
<rect x="257.7" y="403.0" width="2.6" height="2.6" fill="#2e2e2e"/>
<rect x="259.0" y="401.4" width="2.6" height="2.6" fill="#2e2e2e"/>
<rect x="260.5" y="399.8" width="2.6" height="2.6" fill="#2e2e2e"/>
<rect x="262.1" y="398.0" width="2.6" height="2.6" fill="#2e2e2e"/>
<rect x="264.0" y="396.2" width="2.6" height="2.6" fill="#2e2e2e"/>
<rect x="266.0" y="394.2" width="2.6" height="2.6" fill="#2e2e2e"/>
<rect x="268.1" y="392.1" width="2.6" height="2.6" fill="#2e2e2e"/>
<rect x="270.4" y="389.8" width="2.6" height="2.6" fill="#2e2e2e"/>
<rect x="272.9" y="387.3" width="2.6" height="2.6" fill="#2e2e2e"/>
<rect x="275.5" y="384.4" width="2.6" height="2.6" fill="#2e2e2e"/>
<rect x="278.1" y="381.2" width="2.6" height="2.6" fill="#2e2e2e"/>
<rect x="281.4" y="378.1" width="2.6" height="2.6" fill="#2e2e2e"/>
<rect x="285.0" y="374.8" width="2.6" height="2.6" fill="#2e2e2e"/>
<rect x="288.7" y="371.1" width="2.6" height="2.6" fill="#2e2e2e"/>
<rect x="292.5" y="366.8" width="2.6" height="2.6" fill="#2e2e2e"/>
<rect x="296.3" y="361.9" width="2.6" height="2.6" fill="#2e2e2e"/>
<rect x="300.3" y="356.5" width="2.6" height="2.6" fill="#2e2e2e"/>
<rect x="304.7" y="350.6" width="2.6" height="2.6" fill="#2e2e2e"/>
<rect x="308.6" y="343.5" width="2.6" height="2.6" fill="#2e2e2e"/>
<rect x="313.0" y="335.8" width="2.6" height="2.6" fill="#2e2e2e"/>
<rect x="317.0" y="327.0" width="2.6" height="2.6" fill="#2e2e2e"/>
<rect x="320.8" y="316.9" width="2.6" height="2.6" fill="#2e2e2e"/>
<rect x="324.9" y="305.7" width="2.6" height="2.6" fill="#2e2e2e"/>
<rect x="328.7" y="293.7" width="2.6" height="2.6" fill="#2e2e2e"/>
<path d="M223.3,413.0 L223.4,412.9 L223.5,412.7 L223.6,412.5 L223.7,412.2 L223.9,412.0 L224.0,411.7 L224.2,411.4 L224.4,411.1 L224.5,410.9 L224.7,410.6 L224.9,410.3 L225.1,410.0 L225.3,409.7 L225.5,409.5 L225.7,409.3 L225.9,409.0 L226.1,408.8 L226.4,408.6 L226.6,408.4 L226.8,408.2 L227.1,407.9 L227.3,407.7 L227.6,407.5 L227.9,407.3 L228.1,407.1 L228.4,406.9 L228.7,406.7 L229.0,406.5 L229.3,406.3 L229.6,406.1 L230.0,405.9 L230.3,405.7 L230.6,405.5 L231.0,405.3 L231.3,405.1 L231.7,404.9 L232.1,404.7 L232.5,404.5 L232.8,404.3 L233.2,404.1 L233.6,404.0 L234.0,403.8 L234.4,403.6 L234.8,403.5 L235.2,403.4 L235.6,403.2 L236.1,403.1 L236.5,403.0 L236.9,402.9 L237.4,402.8 L237.8,402.7 L238.3,402.6 L238.7,402.5 L239.1,402.4 L239.6,402.3 L240.0,402.2 L240.4,402.1 L240.9,402.0 L241.3,402.0 L241.8,401.9 L242.2,401.8 L242.7,401.8 L243.1,401.7 L243.6,401.7 L244.0,401.6 L244.4,401.6 L244.8,401.5 L245.2,401.5 L245.6,401.4 L246.0,401.4 L246.3,401.4 L246.7,401.3 L247.0,401.3 L247.2,401.3 L247.5,401.2 L247.7,401.2 L248.0,401.2 L248.3,401.2 L248.5,401.2 L248.8,401.1 L249.0,401.1 L249.3,401.1 L249.7,401.1 L250.0,401.1 L250.4,401.1 L250.8,401.1 L251.2,401.1 L251.6,401.1 L252.0,401.1 L252.4,401.1 L252.9,401.1 L253.3,401.1 L253.8,401.1 L254.2,401.1 L254.7,401.1 L255.1,401.2 L255.6,401.2 L256.0,401.2 L256.4,401.2 L256.9,401.3 L257.3,401.3 L257.7,401.3 L258.2,401.4 L258.6,401.4 L259.1,401.5 L259.5,401.5 L259.9,401.6 L260.4,401.7 L260.8,401.7 L261.2,401.8 L261.6,401.8 L262.0,401.9 L262.4,402.0 L262.8,402.0 L263.2,402.1 L263.5,402.2 L263.9,402.3 L264.3,402.3 L264.6,402.4 L265.0,402.5 L265.3,402.6 L265.7,402.7 L266.0,402.8 L266.3,402.8 L266.7,402.9 L267.0,403.0 L267.3,403.1 L267.6,403.2 L268.0,403.2 L268.3,403.3 L268.6,403.4 L268.9,403.5 L269.2,403.6 L269.5,403.6 L269.8,403.7 L270.1,403.8 L270.3,403.9 L270.6,403.9 L270.8,404.0 L271.0,404.0 L271.2,404.0 L271.3,404.1 L271.5,404.1 L271.6,404.1 L271.7,404.1 L271.7,404.1 L271.8,404.1 L271.9,404.1 L272.0,404.1 L272.0,404.1 L272.1,404.1 L272.2,404.1 L272.3,404.0 L272.4,404.0 L272.5,404.0 L272.7,403.9 L272.8,403.8 L273.0,403.7 L273.1,403.7 L273.3,403.6 L273.4,403.5 L273.6,403.4 L273.8,403.3 L273.9,403.2 L274.1,403.1 L274.2,403.0 L274.4,402.9 L274.5,402.8 L274.6,402.7 L274.7,402.6 L274.8,402.6 L274.9,402.5 L275.0,402.4 L275.1,402.4 L275.2,402.3 L275.3,402.2 L275.3,402.2 L275.4,402.1 L275.5,401.9 L275.6,401.8 L275.8,401.7 L275.9,401.5 L276.0,401.3 L276.2,401.1 L276.4,400.8 L276.5,400.6 L276.7,400.3 L276.9,400.0 L277.1,399.7 L277.3,399.4 L277.5,399.1 L277.6,398.8 L277.8,398.5 L278.0,398.2 L278.2,398.0 L278.4,397.7 L278.6,397.4 L278.8,397.2 L278.9,396.9 L279.1,396.7 L279.3,396.5 L279.5,396.2 L279.7,396.0 L279.9,395.7 L280.0,395.5 L280.2,395.3 L280.4,395.0 L280.6,394.8 L280.8,394.5 L281.0,394.3 L281.2,394.1 L281.4,393.8 L281.6,393.6 L281.8,393.3 L282.0,393.1 L282.3,392.8 L282.5,392.6 L282.7,392.3 L282.9,392.1 L283.1,391.8 L283.3,391.6 L283.6,391.4 L283.8,391.1 L284.0,390.9 L284.2,390.7 L284.4,390.4 L284.6,390.2 L284.8,390.0 L285.1,389.8 L285.3,389.6 L285.5,389.3 L285.7,389.1 L285.9,388.9 L286.1,388.7 L286.3,388.5 L286.6,388.2 L286.8,388.0 L287.0,387.8 L287.2,387.6 L287.5,387.4 L287.7,387.1 L287.9,386.9 L288.2,386.7 L288.4,386.5 L288.6,386.2 L288.9,386.0 L289.1,385.8 L289.4,385.6 L289.6,385.4 L289.9,385.1 L290.1,384.9 L290.4,384.7 L290.7,384.5 L290.9,384.3 L291.2,384.1 L291.5,383.9 L291.8,383.6 L292.0,383.4 L292.3,383.2 L292.6,383.0 L292.9,382.8 L293.2,382.6 L293.5,382.4 L293.7,382.2 L294.0,382.0 L294.3,381.8 L294.6,381.6 L294.8,381.4 L295.1,381.2 L295.3,381.0 L295.6,380.8 L295.8,380.6 L296.1,380.4 L296.3,380.2 L296.6,380.0 L296.8,379.8 L297.1,379.6 L297.4,379.3 L297.7,379.1 L298.0,378.9 L298.3,378.7 L298.7,378.4 L299.0,378.2 L299.4,378.0 L299.8,377.7 L300.1,377.5 L300.5,377.3 L300.9,377.0 L301.3,376.8 L301.7,376.5 L302.1,376.2 L302.4,376.0 L302.8,375.7 L303.2,375.4 L303.6,375.1 L303.9,374.8 L304.3,374.5 L304.6,374.2 L305.0,373.8 L305.4,373.5 L305.7,373.2 L306.1,372.8 L306.4,372.5 L306.8,372.1 L307.2,371.8 L307.5,371.5 L307.9,371.1 L308.3,370.8 L308.7,370.5 L309.1,370.1 L309.5,369.8 L309.9,369.5 L310.3,369.2 L310.7,368.8 L311.1,368.5 L311.5,368.2 L311.9,367.8 L312.3,367.5 L312.7,367.2 L313.2,366.9 L313.6,366.5 L314.0,366.2 L314.4,365.9 L314.8,365.6 L315.2,365.3 L315.6,364.9 L316.1,364.6 L316.5,364.3 L316.9,364.0 L317.3,363.7 L317.7,363.4 L318.2,363.1 L318.6,362.7 L319.1,362.4 L319.5,362.1 L320.0,361.7 L320.5,361.3 L321.0,360.9 L321.5,360.6 L322.1,360.2 L322.6,359.7 L323.2,359.3 L323.8,358.9 L324.3,358.5 L324.9,358.1 L325.5,357.6 L326.0,357.2 L326.6,356.8 L327.1,356.4 L327.6,356.0 L328.1,355.6 L328.6,355.2 L329.1,354.8 L329.6,354.4 L330.0,354.0 L330.5,353.6 L331.0,353.2 L331.4,352.8 L331.9,352.4 L332.3,352.0 L332.8,351.6 L333.2,351.3 L333.7,350.9 L334.1,350.5 L334.5,350.1 L335.0,349.8 L335.4,349.4 L335.8,349.0 L336.2,348.7 L336.7,348.3 L337.1,348.0 L337.5,347.6 L337.9,347.3 L338.3,346.9 L338.7,346.6 L339.2,346.2 L339.6,345.9 L340.0,345.5 L340.4,345.1 L340.9,344.8 L341.3,344.5 L341.7,344.1 L342.1,343.8 L342.5,343.4 L343.0,343.1 L343.4,342.7 L343.8,342.4 L344.3,342.0 L344.7,341.6 L345.2,341.2 L345.6,340.8 L346.1,340.4 L346.6,340.0 L347.1,339.5 L347.5,339.0 L348.0,338.5 L348.5,338.0 L349.0,337.5 L349.6,337.0 L350.1,336.5 L350.6,335.9 L351.1,335.4 L351.6,334.8 L352.2,334.3 L352.7,333.7 L353.2,333.1 L353.7,332.5 L354.3,331.9 L354.8,331.2 L355.4,330.6 L356.0,329.9 L356.5,329.2 L357.1,328.5 L357.7,327.8 L358.2,327.2 L358.8,326.5 L359.3,325.9 L359.8,325.2 L360.3,324.7 L360.8,324.1 L361.3,323.6 L361.7,323.0 L362.2,322.5 L362.6,322.0 L363.0,321.5 L363.5,321.0 L363.9,320.5 L364.3,320.0 L364.6,319.6 L365.0,319.2 L365.3,318.9 L365.6,318.5 L365.8,318.2 L366.0,318.0" fill="none" stroke="#8ab8ff" stroke-width="0.6"/>
<path d="M223.3,411.4 L224.7,414.0 L221.9,414.0Z" fill="#1f6fff"/>
<path d="M223.8,410.5 L225.3,413.0 L222.4,413.0Z" fill="#1f6fff"/>
<path d="M224.4,409.5 L225.8,412.1 L223.0,412.1Z" fill="#1f6fff"/>
<path d="M225.0,408.6 L226.4,411.1 L223.6,411.1Z" fill="#1f6fff"/>
<path d="M225.7,407.7 L227.1,410.3 L224.2,410.3Z" fill="#1f6fff"/>
<path d="M226.4,407.0 L227.9,409.5 L225.0,409.5Z" fill="#1f6fff"/>
<path d="M227.3,406.2 L228.7,408.8 L225.8,408.8Z" fill="#1f6fff"/>
<path d="M228.1,405.6 L229.6,408.1 L226.7,408.1Z" fill="#1f6fff"/>
<path d="M229.0,404.9 L230.5,407.5 L227.6,407.5Z" fill="#1f6fff"/>
<path d="M230.0,404.3 L231.4,406.9 L228.5,406.9Z" fill="#1f6fff"/>
<path d="M230.9,403.8 L232.3,406.3 L229.5,406.3Z" fill="#1f6fff"/>
<path d="M231.9,403.2 L233.3,405.8 L230.4,405.8Z" fill="#1f6fff"/>
<path d="M232.8,402.7 L234.3,405.3 L231.4,405.3Z" fill="#1f6fff"/>
<path d="M233.9,402.3 L235.3,404.8 L232.4,404.8Z" fill="#1f6fff"/>
<path d="M234.9,401.9 L236.3,404.5 L233.5,404.5Z" fill="#1f6fff"/>
<path d="M235.9,401.6 L237.4,404.1 L234.5,404.1Z" fill="#1f6fff"/>
<path d="M237.0,401.3 L238.4,403.8 L235.6,403.8Z" fill="#1f6fff"/>
<path d="M238.1,401.0 L239.5,403.6 L236.6,403.6Z" fill="#1f6fff"/>
<path d="M239.1,400.8 L240.6,403.4 L237.7,403.4Z" fill="#1f6fff"/>
<path d="M240.2,400.6 L241.7,403.1 L238.8,403.1Z" fill="#1f6fff"/>
<path d="M241.3,400.4 L242.7,402.9 L239.9,402.9Z" fill="#1f6fff"/>
<path d="M242.4,400.3 L243.8,402.8 L241.0,402.8Z" fill="#1f6fff"/>
<path d="M243.5,400.1 L244.9,402.7 L242.1,402.7Z" fill="#1f6fff"/>
<path d="M244.6,400.0 L246.0,402.5 L243.1,402.5Z" fill="#1f6fff"/>
<path d="M245.7,399.9 L247.1,402.4 L244.2,402.4Z" fill="#1f6fff"/>
<path d="M246.8,399.8 L248.2,402.3 L245.3,402.3Z" fill="#1f6fff"/>
<path d="M247.9,399.6 L249.3,402.2 L246.4,402.2Z" fill="#1f6fff"/>
<path d="M249.0,399.6 L250.4,402.1 L247.5,402.1Z" fill="#1f6fff"/>
<path d="M250.1,399.5 L251.5,402.1 L248.6,402.1Z" fill="#1f6fff"/>
<path d="M251.2,399.5 L252.6,402.1 L249.7,402.1Z" fill="#1f6fff"/>
<path d="M252.3,399.5 L253.7,402.1 L250.8,402.1Z" fill="#1f6fff"/>
<path d="M253.4,399.5 L254.8,402.1 L251.9,402.1Z" fill="#1f6fff"/>
<path d="M254.5,399.6 L255.9,402.1 L253.0,402.1Z" fill="#1f6fff"/>
<path d="M255.6,399.6 L257.0,402.1 L254.1,402.1Z" fill="#1f6fff"/>
<path d="M256.7,399.7 L258.1,402.2 L255.2,402.2Z" fill="#1f6fff"/>
<path d="M257.7,399.8 L259.2,402.3 L256.3,402.3Z" fill="#1f6fff"/>
<path d="M258.8,399.9 L260.3,402.4 L257.4,402.4Z" fill="#1f6fff"/>
<path d="M259.9,400.0 L261.4,402.6 L258.5,402.6Z" fill="#1f6fff"/>
<path d="M261.0,400.2 L262.5,402.7 L259.6,402.7Z" fill="#1f6fff"/>
<path d="M262.1,400.4 L263.5,402.9 L260.7,402.9Z" fill="#1f6fff"/>
<path d="M263.2,400.6 L264.6,403.1 L261.8,403.1Z" fill="#1f6fff"/>
<path d="M264.3,400.8 L265.7,403.3 L262.8,403.3Z" fill="#1f6fff"/>
<path d="M265.3,401.0 L266.8,403.6 L263.9,403.6Z" fill="#1f6fff"/>
<path d="M266.4,401.3 L267.8,403.8 L265.0,403.8Z" fill="#1f6fff"/>
<path d="M267.5,401.6 L268.9,404.1 L266.0,404.1Z" fill="#1f6fff"/>
<path d="M268.5,401.8 L270.0,404.4 L267.1,404.4Z" fill="#1f6fff"/>
<path d="M269.6,402.1 L271.0,404.6 L268.2,404.6Z" fill="#1f6fff"/>
<path d="M270.7,402.4 L272.1,404.9 L269.2,404.9Z" fill="#1f6fff"/>
<path d="M271.8,402.6 L273.2,405.1 L270.3,405.1Z" fill="#1f6fff"/>
<path d="M275.6,400.2 L277.2,403.0 L274.0,403.0Z" fill="#1f6fff"/>
<path d="M277.8,396.8 L279.4,399.7 L276.2,399.7Z" fill="#1f6fff"/>
<path d="M280.4,393.4 L282.0,396.2 L278.8,396.2Z" fill="#1f6fff"/>
<path d="M283.4,389.8 L285.0,392.7 L281.8,392.7Z" fill="#1f6fff"/>
<path d="M286.8,386.3 L288.4,389.1 L285.2,389.1Z" fill="#1f6fff"/>
<path d="M290.7,382.7 L292.3,385.6 L289.1,385.6Z" fill="#1f6fff"/>
<path d="M295.2,379.4 L296.8,382.2 L293.6,382.2Z" fill="#1f6fff"/>
<path d="M299.9,375.9 L301.5,378.7 L298.3,378.7Z" fill="#1f6fff"/>
<path d="M304.9,372.2 L306.5,375.0 L303.3,375.0Z" fill="#1f6fff"/>
<path d="M309.7,367.9 L311.3,370.7 L308.1,370.7Z" fill="#1f6fff"/>
<path d="M315.2,363.6 L316.8,366.4 L313.6,366.4Z" fill="#1f6fff"/>
<path d="M321.0,359.2 L322.6,362.0 L319.4,362.0Z" fill="#1f6fff"/>
<path d="M327.2,354.6 L328.8,357.4 L325.6,357.4Z" fill="#1f6fff"/>
<path d="M333.4,349.3 L335.0,352.2 L331.8,352.2Z" fill="#1f6fff"/>
<path d="M340.0,343.8 L341.6,346.6 L338.4,346.6Z" fill="#1f6fff"/>
<path d="M346.9,337.9 L348.5,340.7 L345.3,340.7Z" fill="#1f6fff"/>
<path d="M353.5,331.0 L355.1,333.8 L352.0,333.8Z" fill="#1f6fff"/>
<path d="M360.1,323.1 L361.7,326.0 L358.6,326.0Z" fill="#1f6fff"/>
<path d="M366.0,316.3 L367.6,319.1 L364.4,319.1Z" fill="#1f6fff"/>
<path d="M220.7,413.0 L220.7,412.9 L220.8,412.7 L220.9,412.5 L220.9,412.3 L221.0,412.0 L221.1,411.8 L221.2,411.5 L221.3,411.2 L221.4,410.9 L221.5,410.6 L221.6,410.4 L221.7,410.1 L221.9,409.8 L222.0,409.5 L222.1,409.2 L222.3,408.9 L222.5,408.7 L222.6,408.4 L222.8,408.1 L223.0,407.8 L223.2,407.5 L223.4,407.2 L223.6,406.9 L223.8,406.6 L224.1,406.3 L224.3,406.0 L224.5,405.7 L224.8,405.4 L225.1,405.1 L225.4,404.8 L225.7,404.6 L226.0,404.3 L226.3,404.0 L226.6,403.8 L226.9,403.5 L227.3,403.2 L227.6,403.0 L228.0,402.7 L228.3,402.5 L228.6,402.2 L229.0,401.9 L229.3,401.7 L229.6,401.5 L229.9,401.2 L230.2,401.0 L230.6,400.7 L230.9,400.5 L231.2,400.3 L231.5,400.1 L231.8,399.8 L232.1,399.6 L232.4,399.4 L232.8,399.2 L233.1,398.9 L233.4,398.7 L233.7,398.5 L234.0,398.3 L234.3,398.1 L234.6,397.9 L235.0,397.6 L235.3,397.4 L235.6,397.2 L235.9,397.0 L236.2,396.8 L236.5,396.6 L236.8,396.4 L237.2,396.2 L237.5,396.0 L237.8,395.8 L238.1,395.6 L238.4,395.4 L238.7,395.2 L239.1,395.0 L239.4,394.8 L239.7,394.6 L240.0,394.5 L240.3,394.3 L240.7,394.1 L241.0,393.9 L241.3,393.7 L241.6,393.5 L242.0,393.4 L242.3,393.2 L242.6,393.0 L242.9,392.8 L243.2,392.6 L243.5,392.5 L243.9,392.3 L244.2,392.1 L244.5,391.9 L244.8,391.7 L245.1,391.6 L245.4,391.4 L245.7,391.2 L246.1,391.0 L246.4,390.8 L246.7,390.7 L247.0,390.5 L247.3,390.3 L247.6,390.2 L248.0,390.0 L248.3,389.8 L248.6,389.7 L248.9,389.5 L249.2,389.3 L249.6,389.2 L249.9,389.0 L250.2,388.8 L250.5,388.7 L250.9,388.5 L251.2,388.4 L251.5,388.2 L251.8,388.0 L252.1,387.9 L252.4,387.7 L252.8,387.6 L253.1,387.4 L253.4,387.3 L253.7,387.1 L254.0,387.0 L254.3,386.8 L254.6,386.7 L254.9,386.5 L255.3,386.4 L255.6,386.2 L255.9,386.1 L256.2,385.9 L256.5,385.8 L256.9,385.6 L257.2,385.5 L257.5,385.3 L257.8,385.2 L258.2,385.0 L258.5,384.9 L258.8,384.7 L259.1,384.6 L259.5,384.4 L259.8,384.3 L260.2,384.1 L260.5,384.0 L260.8,383.9 L261.2,383.7 L261.6,383.6 L261.9,383.5 L262.3,383.4 L262.7,383.3 L263.0,383.1 L263.4,383.0 L263.8,382.9 L264.1,382.8 L264.5,382.7 L264.9,382.6 L265.2,382.5 L265.6,382.4 L266.0,382.3 L266.3,382.2 L266.7,382.1 L267.1,382.0 L267.4,382.0 L267.8,381.9 L268.1,381.8 L268.5,381.7 L268.9,381.7 L269.2,381.6 L269.6,381.5 L270.0,381.4 L270.3,381.4 L270.7,381.3 L271.1,381.2 L271.4,381.2 L271.8,381.1 L272.2,381.0 L272.6,380.9 L272.9,380.9 L273.3,380.8 L273.7,380.7 L274.0,380.7 L274.4,380.6 L274.8,380.6 L275.2,380.5 L275.5,380.5 L275.9,380.4 L276.3,380.4 L276.6,380.3 L277.0,380.3 L277.4,380.2 L277.7,380.2 L278.1,380.1 L278.5,380.1 L278.8,380.1 L279.2,380.0 L279.6,380.0 L279.9,380.0 L280.3,380.0 L280.6,379.9 L281.0,379.9 L281.4,379.9 L281.7,379.9 L282.1,379.8 L282.4,379.8 L282.8,379.8 L283.1,379.8 L283.4,379.8 L283.8,379.7 L284.1,379.7 L284.5,379.7 L284.8,379.7 L285.1,379.7 L285.5,379.7 L285.8,379.7 L286.1,379.7 L286.4,379.7 L286.8,379.7 L287.1,379.7 L287.4,379.7 L287.7,379.7 L288.0,379.7 L288.3,379.7 L288.6,379.7 L289.0,379.7 L289.3,379.8 L289.6,379.8 L289.9,379.8 L290.2,379.8 L290.5,379.8 L290.8,379.8 L291.1,379.8 L291.4,379.9 L291.7,379.9 L292.0,379.9 L292.4,379.9 L292.7,379.9 L293.0,380.0 L293.3,380.0 L293.6,380.0 L293.9,380.0 L294.3,380.1 L294.6,380.1 L294.9,380.1 L295.3,380.2 L295.7,380.2 L296.0,380.2 L296.4,380.3 L296.8,380.3 L297.2,380.3 L297.5,380.4 L297.9,380.4 L298.3,380.4 L298.7,380.5 L299.1,380.5 L299.4,380.6 L299.8,380.6 L300.2,380.6 L300.5,380.7 L300.9,380.7 L301.3,380.8 L301.7,380.8 L302.0,380.9 L302.4,380.9 L302.8,380.9 L303.1,381.0 L303.5,381.0 L303.9,381.1 L304.2,381.1 L304.6,381.2 L304.9,381.2 L305.2,381.2 L305.5,381.3 L305.9,381.3 L306.2,381.4 L306.5,381.4 L306.7,381.4 L307.0,381.5 L307.3,381.5 L307.6,381.6 L307.9,381.6 L308.2,381.6 L308.5,381.7 L308.8,381.7 L309.1,381.8 L309.4,381.9 L309.7,381.9 L310.0,382.0 L310.3,382.0 L310.7,382.1 L311.0,382.2 L311.3,382.2 L311.6,382.3 L311.9,382.4 L312.3,382.5 L312.6,382.5 L312.9,382.6 L313.3,382.7 L313.6,382.8 L313.9,382.9 L314.3,383.0 L314.7,383.1 L315.0,383.2 L315.4,383.3 L315.8,383.4 L316.1,383.6 L316.5,383.7 L316.9,383.8 L317.3,383.9 L317.6,384.0 L318.0,384.2 L318.3,384.3 L318.7,384.4 L319.0,384.5 L319.4,384.6 L319.7,384.7 L320.1,384.8 L320.4,385.0 L320.8,385.1 L321.1,385.2 L321.4,385.3 L321.8,385.4 L322.1,385.5 L322.4,385.6 L322.7,385.8 L323.1,385.9 L323.4,386.0 L323.7,386.1 L324.1,386.3 L324.4,386.4 L324.7,386.5 L325.0,386.7 L325.4,386.8 L325.7,387.0 L326.0,387.1 L326.3,387.3 L326.6,387.4 L326.9,387.6 L327.2,387.7 L327.5,387.9 L327.8,388.0 L328.1,388.1 L328.3,388.3 L328.6,388.4 L328.9,388.6 L329.1,388.7 L329.4,388.8 L329.6,389.0 L329.8,389.1 L330.1,389.2 L330.3,389.4 L330.6,389.5 L330.8,389.6 L331.0,389.8 L331.3,389.9 L331.6,390.0 L331.8,390.1 L332.1,390.3 L332.3,390.4 L332.6,390.5 L332.9,390.6 L333.1,390.7 L333.4,390.9 L333.7,391.0 L333.9,391.1 L334.2,391.2 L334.4,391.3 L334.7,391.4 L334.9,391.5 L335.1,391.6 L335.4,391.7 L335.6,391.8 L335.8,391.9 L336.0,392.0 L336.2,392.1 L336.4,392.2 L336.6,392.3 L336.8,392.4 L337.0,392.5 L337.2,392.6 L337.4,392.6 L337.6,392.7 L337.8,392.8 L338.0,392.9 L338.2,392.9 L338.4,393.0 L338.7,393.1 L338.9,393.1 L339.1,393.2 L339.3,393.2 L339.5,393.3 L339.7,393.3 L339.9,393.4 L340.2,393.5 L340.4,393.5 L340.6,393.6 L340.8,393.6 L341.0,393.6 L341.2,393.7 L341.4,393.7 L341.6,393.8 L341.8,393.8 L342.0,393.9 L342.2,393.9 L342.5,394.0 L342.7,394.0 L342.9,394.0 L343.1,394.1 L343.3,394.1 L343.5,394.2 L343.7,394.2 L343.9,394.2 L344.1,394.3 L344.3,394.3 L344.6,394.3 L344.8,394.4 L345.0,394.4 L345.2,394.4 L345.4,394.5 L345.6,394.5 L345.8,394.5 L346.1,394.5 L346.3,394.6 L346.5,394.6 L346.7,394.6 L346.9,394.6 L347.1,394.6 L347.3,394.6 L347.5,394.6 L347.7,394.6 L347.9,394.6 L348.2,394.7 L348.4,394.6 L348.6,394.6 L348.8,394.6 L349.0,394.6 L349.2,394.6 L349.4,394.6 L349.6,394.6 L349.8,394.6 L350.0,394.6 L350.2,394.5 L350.4,394.5 L350.7,394.5 L350.9,394.5 L351.1,394.4 L351.3,394.4 L351.5,394.4 L351.7,394.3 L352.0,394.3 L352.2,394.3 L352.4,394.2 L352.6,394.2 L352.8,394.2 L353.0,394.1 L353.2,394.1 L353.5,394.1 L353.7,394.0 L353.9,394.0 L354.1,393.9 L354.3,393.9 L354.5,393.8 L354.8,393.8 L355.0,393.8 L355.2,393.7 L355.4,393.7 L355.6,393.6 L355.8,393.5 L356.0,393.5 L356.2,393.4 L356.4,393.4 L356.6,393.3 L356.8,393.2 L357.1,393.2 L357.3,393.1 L357.5,393.0 L357.7,393.0 L357.9,392.9 L358.1,392.8 L358.3,392.8 L358.5,392.7 L358.7,392.6 L358.9,392.6 L359.1,392.5 L359.4,392.5 L359.6,392.4 L359.8,392.3 L360.0,392.3 L360.2,392.2 L360.5,392.2 L360.7,392.1 L360.9,392.1 L361.1,392.0 L361.3,392.0 L361.5,391.9 L361.7,391.8 L361.9,391.8 L362.1,391.7 L362.3,391.7 L362.5,391.6 L362.7,391.6 L362.9,391.5 L363.1,391.4 L363.3,391.4 L363.5,391.3 L363.6,391.3 L363.8,391.3 L363.9,391.2 L364.0,391.2" fill="none" stroke="#7fd3a6" stroke-width="0.6"/>
<path d="M220.7,414.9 L222.4,411.8 L219.0,411.8Z" fill="#14a55a"/>
<path d="M221.0,413.9 L222.7,410.9 L219.3,410.9Z" fill="#14a55a"/>
<path d="M221.3,413.0 L223.0,409.9 L219.6,409.9Z" fill="#14a55a"/>
<path d="M221.7,412.0 L223.4,409.0 L220.0,409.0Z" fill="#14a55a"/>
<path d="M222.1,411.1 L223.8,408.1 L220.4,408.1Z" fill="#14a55a"/>
<path d="M222.6,410.3 L224.3,407.2 L220.9,407.2Z" fill="#14a55a"/>
<path d="M223.1,409.4 L224.8,406.4 L221.4,406.4Z" fill="#14a55a"/>
<path d="M223.7,408.6 L225.4,405.6 L222.0,405.6Z" fill="#14a55a"/>
<path d="M224.3,407.8 L226.0,404.8 L222.6,404.8Z" fill="#14a55a"/>
<path d="M225.0,407.1 L226.7,404.0 L223.3,404.0Z" fill="#14a55a"/>
<path d="M225.7,406.4 L227.4,403.3 L224.0,403.3Z" fill="#14a55a"/>
<path d="M226.5,405.7 L228.2,402.7 L224.8,402.7Z" fill="#14a55a"/>
<path d="M227.3,405.1 L229.0,402.1 L225.6,402.1Z" fill="#14a55a"/>
<path d="M228.1,404.5 L229.8,401.5 L226.4,401.5Z" fill="#14a55a"/>
<path d="M228.9,403.9 L230.6,400.9 L227.2,400.9Z" fill="#14a55a"/>
<path d="M229.7,403.3 L231.4,400.3 L228.0,400.3Z" fill="#14a55a"/>
<path d="M230.5,402.7 L232.2,399.7 L228.7,399.7Z" fill="#14a55a"/>
<path d="M231.3,402.1 L233.0,399.1 L229.6,399.1Z" fill="#14a55a"/>
<path d="M232.1,401.5 L233.8,398.5 L230.4,398.5Z" fill="#14a55a"/>
<path d="M232.9,400.9 L234.6,397.9 L231.2,397.9Z" fill="#14a55a"/>
<path d="M233.7,400.4 L235.4,397.3 L232.0,397.3Z" fill="#14a55a"/>
<path d="M234.5,399.8 L236.2,396.8 L232.8,396.8Z" fill="#14a55a"/>
<path d="M235.4,399.2 L237.1,396.2 L233.7,396.2Z" fill="#14a55a"/>
<path d="M236.2,398.7 L237.9,395.7 L234.5,395.7Z" fill="#14a55a"/>
<path d="M237.0,398.1 L238.7,395.1 L235.3,395.1Z" fill="#14a55a"/>
<path d="M237.9,397.6 L239.6,394.6 L236.2,394.6Z" fill="#14a55a"/>
<path d="M241.7,395.2 L243.3,392.4 L240.1,392.4Z" fill="#14a55a"/>
<path d="M245.4,393.1 L247.0,390.3 L243.8,390.3Z" fill="#14a55a"/>
<path d="M249.1,391.2 L250.7,388.3 L247.5,388.3Z" fill="#14a55a"/>
<path d="M252.8,389.3 L254.4,386.5 L251.2,386.5Z" fill="#14a55a"/>
<path d="M256.6,387.5 L258.2,384.7 L255.0,384.7Z" fill="#14a55a"/>
<path d="M260.5,385.8 L262.1,382.9 L258.9,382.9Z" fill="#14a55a"/>
<path d="M264.4,384.5 L266.0,381.6 L262.9,381.6Z" fill="#14a55a"/>
<path d="M268.5,383.5 L270.1,380.6 L266.9,380.6Z" fill="#14a55a"/>
<path d="M272.7,382.7 L274.2,379.8 L271.1,379.8Z" fill="#14a55a"/>
<path d="M276.8,382.0 L278.4,379.2 L275.2,379.2Z" fill="#14a55a"/>
<path d="M281.0,381.6 L282.6,378.8 L279.4,378.8Z" fill="#14a55a"/>
<path d="M285.2,381.4 L286.8,378.6 L283.6,378.6Z" fill="#14a55a"/>
<path d="M289.4,381.5 L291.0,378.7 L287.8,378.7Z" fill="#14a55a"/>
<path d="M293.6,381.8 L295.2,378.9 L292.0,378.9Z" fill="#14a55a"/>
<path d="M297.8,382.1 L299.3,379.3 L296.2,379.3Z" fill="#14a55a"/>
<path d="M301.9,382.6 L303.5,379.7 L300.3,379.7Z" fill="#14a55a"/>
<path d="M306.1,383.1 L307.7,380.3 L304.5,380.3Z" fill="#14a55a"/>
<path d="M310.2,383.8 L311.8,380.9 L308.6,380.9Z" fill="#14a55a"/>
<path d="M314.3,384.7 L315.9,381.9 L312.7,381.9Z" fill="#14a55a"/>
<path d="M318.3,386.0 L319.9,383.2 L316.7,383.2Z" fill="#14a55a"/>
<path d="M322.3,387.3 L323.9,384.5 L320.7,384.5Z" fill="#14a55a"/>
<path d="M326.2,389.0 L327.8,386.1 L324.6,386.1Z" fill="#14a55a"/>
<path d="M329.9,390.9 L331.5,388.1 L328.3,388.1Z" fill="#14a55a"/>
<path d="M333.7,392.7 L335.3,389.9 L332.1,389.9Z" fill="#14a55a"/>
<path d="M337.5,394.4 L339.1,391.6 L335.9,391.6Z" fill="#14a55a"/>
<path d="M341.6,395.5 L343.2,392.7 L340.0,392.7Z" fill="#14a55a"/>
<path d="M345.7,396.2 L347.3,393.4 L344.1,393.4Z" fill="#14a55a"/>
<path d="M349.9,396.3 L351.5,393.5 L348.3,393.5Z" fill="#14a55a"/>
<path d="M354.1,395.7 L355.7,392.9 L352.5,392.9Z" fill="#14a55a"/>
<path d="M358.1,394.6 L359.7,391.7 L356.5,391.7Z" fill="#14a55a"/>
<path d="M362.2,393.5 L363.7,390.6 L360.6,390.6Z" fill="#14a55a"/>
</g>
<line x1="224.2" y1="308.3" x2="240.6" y2="308.3" stroke="#ff8a8a" stroke-width="0.7"/>
<circle cx="232.5" cy="308.3" r="1.55" fill="#ff2424"/>
<text x="243.70" y="311.10" font-size="7.8" font-family="Liberation Serif" fill="#161616" stroke="#161616" stroke-width="0.12" text-anchor="start" >LFP/C-F<tspan font-size="0.72em" dy="1.8">3</tspan><tspan dy="-1.8"></tspan></text>
<line x1="224.2" y1="319.4" x2="240.6" y2="319.4" stroke="#8a8a8a" stroke-width="0.7"/>
<rect x="230.9" y="317.8" width="3.1" height="3.1" fill="#2e2e2e"/>
<text x="243.70" y="322.20" font-size="7.8" font-family="Liberation Serif" fill="#161616" stroke="#161616" stroke-width="0.12" text-anchor="start" >LFP/C-Nb<tspan font-size="0.72em" dy="1.8">1</tspan><tspan dy="-1.8"></tspan></text>
<line x1="224.2" y1="330.6" x2="240.6" y2="330.6" stroke="#8ab8ff" stroke-width="0.7"/>
<path d="M232.5,328.7 L234.2,331.8 L230.8,331.8Z" fill="#1f6fff"/>
<text x="243.70" y="333.40" font-size="7.8" font-family="Liberation Serif" fill="#161616" stroke="#161616" stroke-width="0.12" text-anchor="start" >LFP/C-Mn<tspan font-size="0.72em" dy="1.8">3</tspan><tspan dy="-1.8"></tspan></text>
<line x1="224.2" y1="342" x2="240.6" y2="342" stroke="#7fd3a6" stroke-width="0.7"/>
<path d="M232.5,343.9 L234.2,340.8 L230.8,340.8Z" fill="#14a55a"/>
<text x="243.70" y="344.80" font-size="7.8" font-family="Liberation Serif" fill="#161616" stroke="#161616" stroke-width="0.12" text-anchor="start" >LFP/C</text>
<rect x="397.80" y="296.80" width="145.50" height="116.50" fill="none" stroke="#2a2a2a" stroke-width="1.2"/>
<line x1="395.60" y1="413.30" x2="397.80" y2="413.30" stroke="#2a2a2a" stroke-width="0.9"/>
<text x="394.20" y="415.64" font-size="7.1" font-family="Liberation Serif" fill="#555555" text-anchor="end" textLength="3.0" lengthAdjust="spacingAndGlyphs">0</text>
<line x1="395.60" y1="384.18" x2="397.80" y2="384.18" stroke="#2a2a2a" stroke-width="0.9"/>
<text x="394.20" y="386.52" font-size="7.1" font-family="Liberation Serif" fill="#555555" text-anchor="end" textLength="9.1" lengthAdjust="spacingAndGlyphs">150</text>
<line x1="395.60" y1="355.05" x2="397.80" y2="355.05" stroke="#2a2a2a" stroke-width="0.9"/>
<text x="394.20" y="357.39" font-size="7.1" font-family="Liberation Serif" fill="#555555" text-anchor="end" textLength="9.1" lengthAdjust="spacingAndGlyphs">300</text>
<line x1="395.60" y1="325.93" x2="397.80" y2="325.93" stroke="#2a2a2a" stroke-width="0.9"/>
<text x="394.20" y="328.27" font-size="7.1" font-family="Liberation Serif" fill="#555555" text-anchor="end" textLength="9.1" lengthAdjust="spacingAndGlyphs">450</text>
<line x1="395.60" y1="296.80" x2="397.80" y2="296.80" stroke="#2a2a2a" stroke-width="0.9"/>
<text x="394.20" y="299.14" font-size="7.1" font-family="Liberation Serif" fill="#555555" text-anchor="end" textLength="9.1" lengthAdjust="spacingAndGlyphs">600</text>
<line x1="396.50" y1="398.74" x2="397.80" y2="398.74" stroke="#2a2a2a" stroke-width="0.8"/>
<line x1="396.50" y1="369.61" x2="397.80" y2="369.61" stroke="#2a2a2a" stroke-width="0.8"/>
<line x1="396.50" y1="340.49" x2="397.80" y2="340.49" stroke="#2a2a2a" stroke-width="0.8"/>
<line x1="396.50" y1="311.36" x2="397.80" y2="311.36" stroke="#2a2a2a" stroke-width="0.8"/>
<line x1="397.80" y1="413.30" x2="397.80" y2="415.50" stroke="#2a2a2a" stroke-width="0.9"/>
<text x="397.80" y="422.60" font-size="7.1" font-family="Liberation Serif" fill="#555555" text-anchor="middle" textLength="3.0" lengthAdjust="spacingAndGlyphs">0</text>
<line x1="434.18" y1="413.30" x2="434.18" y2="415.50" stroke="#2a2a2a" stroke-width="0.9"/>
<text x="434.18" y="422.60" font-size="7.1" font-family="Liberation Serif" fill="#555555" text-anchor="middle" textLength="9.1" lengthAdjust="spacingAndGlyphs">150</text>
<line x1="470.55" y1="413.30" x2="470.55" y2="415.50" stroke="#2a2a2a" stroke-width="0.9"/>
<text x="470.55" y="422.60" font-size="7.1" font-family="Liberation Serif" fill="#555555" text-anchor="middle" textLength="9.1" lengthAdjust="spacingAndGlyphs">300</text>
<line x1="506.92" y1="413.30" x2="506.92" y2="415.50" stroke="#2a2a2a" stroke-width="0.9"/>
<text x="506.92" y="422.60" font-size="7.1" font-family="Liberation Serif" fill="#555555" text-anchor="middle" textLength="9.1" lengthAdjust="spacingAndGlyphs">450</text>
<line x1="543.30" y1="413.30" x2="543.30" y2="415.50" stroke="#2a2a2a" stroke-width="0.9"/>
<text x="543.30" y="422.60" font-size="7.1" font-family="Liberation Serif" fill="#555555" text-anchor="middle" textLength="9.1" lengthAdjust="spacingAndGlyphs">600</text>
<line x1="415.99" y1="413.30" x2="415.99" y2="414.60" stroke="#2a2a2a" stroke-width="0.8"/>
<line x1="452.36" y1="413.30" x2="452.36" y2="414.60" stroke="#2a2a2a" stroke-width="0.8"/>
<line x1="488.74" y1="413.30" x2="488.74" y2="414.60" stroke="#2a2a2a" stroke-width="0.8"/>
<line x1="525.11" y1="413.30" x2="525.11" y2="414.60" stroke="#2a2a2a" stroke-width="0.8"/>
<text x="366.80" y="304.60" font-size="13.5" font-family="Liberation Serif" fill="#161616" stroke="#161616" stroke-width="0.12" text-anchor="start" >(i)</text>
<text x="0" y="0" font-size="7.9" font-family="Liberation Serif" fill="#161616" stroke="#161616" stroke-width="0.15" text-anchor="middle" transform="translate(384.1,354.5) rotate(-90)">-<tspan font-style="italic">Z</tspan>''(ohm)</text>
<text x="458.2" y="433" font-size="8.2" font-family="Liberation Serif" fill="#161616" stroke="#161616" stroke-width="0.15"><tspan font-style="italic">Z</tspan>'(ohm)</text>
<clipPath id="ci"><rect x="397.8" y="296.8" width="145.5" height="116.5"/></clipPath><g clip-path="url(#ci)">
<path d="M398.0,415.2 L399.8,412.1 L396.2,412.1Z" fill="#14a55a"/>
<path d="M399.0,412.5 L400.8,409.4 L397.2,409.4Z" fill="#14a55a"/>
<path d="M400.5,410.0 L402.3,406.9 L398.8,406.9Z" fill="#14a55a"/>
<path d="M402.4,407.8 L404.1,404.7 L400.6,404.7Z" fill="#14a55a"/>
<path d="M404.4,405.8 L406.2,402.7 L402.7,402.7Z" fill="#14a55a"/>
<path d="M406.7,404.0 L408.5,400.9 L405.0,400.9Z" fill="#14a55a"/>
<path d="M409.2,402.5 L411.0,399.3 L407.4,399.3Z" fill="#14a55a"/>
<path d="M411.7,401.1 L413.5,398.0 L410.0,398.0Z" fill="#14a55a"/>
<path d="M414.4,399.8 L416.1,396.7 L412.6,396.7Z" fill="#14a55a"/>
<path d="M417.0,398.7 L418.8,395.6 L415.3,395.6Z" fill="#14a55a"/>
<path d="M419.8,397.7 L421.5,394.6 L418.0,394.6Z" fill="#14a55a"/>
<path d="M422.5,396.9 L424.3,393.7 L420.8,393.7Z" fill="#14a55a"/>
<path d="M425.3,396.1 L427.1,393.0 L423.6,393.0Z" fill="#14a55a"/>
<path d="M428.2,395.5 L429.9,392.4 L426.4,392.4Z" fill="#14a55a"/>
<path d="M431.0,394.9 L432.8,391.8 L429.2,391.8Z" fill="#14a55a"/>
<path d="M433.9,394.4 L435.6,391.3 L432.1,391.3Z" fill="#14a55a"/>
<path d="M436.7,394.1 L438.5,390.9 L435.0,390.9Z" fill="#14a55a"/>
<path d="M439.6,393.8 L441.4,390.6 L437.9,390.6Z" fill="#14a55a"/>
<path d="M442.5,393.6 L444.3,390.5 L440.8,390.5Z" fill="#14a55a"/>
<path d="M445.4,393.7 L447.2,390.6 L443.7,390.6Z" fill="#14a55a"/>
<path d="M448.3,393.9 L450.1,390.7 L446.6,390.7Z" fill="#14a55a"/>
<path d="M451.2,394.1 L453.0,391.0 L449.4,391.0Z" fill="#14a55a"/>
<path d="M454.1,394.5 L455.8,391.4 L452.3,391.4Z" fill="#14a55a"/>
<path d="M456.9,394.9 L458.7,391.8 L455.2,391.8Z" fill="#14a55a"/>
<path d="M459.8,395.3 L461.6,392.2 L458.1,392.2Z" fill="#14a55a"/>
<path d="M462.7,395.8 L464.4,392.7 L460.9,392.7Z" fill="#14a55a"/>
<path d="M465.5,396.3 L467.3,393.1 L463.8,393.1Z" fill="#14a55a"/>
<path d="M468.4,396.8 L470.1,393.7 L466.6,393.7Z" fill="#14a55a"/>
<path d="M471.2,397.5 L473.0,394.4 L469.4,394.4Z" fill="#14a55a"/>
<path d="M474.0,398.3 L475.8,395.1 L472.2,395.1Z" fill="#14a55a"/>
<path d="M476.8,399.2 L478.5,396.0 L475.0,396.0Z" fill="#14a55a"/>
<path d="M479.5,400.2 L481.2,397.0 L477.7,397.0Z" fill="#14a55a"/>
<path d="M482.2,401.2 L484.0,398.0 L480.4,398.0Z" fill="#14a55a"/>
<path d="M484.9,402.2 L486.7,399.1 L483.1,399.1Z" fill="#14a55a"/>
<path d="M487.6,403.3 L489.4,400.2 L485.8,400.2Z" fill="#14a55a"/>
<path d="M490.3,404.4 L492.0,401.3 L488.5,401.3Z" fill="#14a55a"/>
<path d="M492.9,405.7 L494.7,402.5 L491.1,402.5Z" fill="#14a55a"/>
<path d="M495.5,406.9 L497.3,403.8 L493.7,403.8Z" fill="#14a55a"/>
<path d="M498.0,408.4 L499.8,405.2 L496.3,405.2Z" fill="#14a55a"/>
<path d="M500.4,410.0 L502.2,406.8 L498.7,406.8Z" fill="#14a55a"/>
<path d="M530.5,332.5 L532.3,329.3 L528.7,329.3Z" fill="#14a55a"/>
<path d="M528.3,345.3 L530.1,342.1 L526.5,342.1Z" fill="#14a55a"/>
<path d="M526.9,356.2 L528.7,353.0 L525.1,353.0Z" fill="#14a55a"/>
<path d="M525.0,365.2 L526.8,362.0 L523.2,362.0Z" fill="#14a55a"/>
<path d="M522.9,373.4 L524.7,370.2 L521.1,370.2Z" fill="#14a55a"/>
<path d="M521.0,379.8 L522.8,376.6 L519.2,376.6Z" fill="#14a55a"/>
<path d="M518.9,385.2 L520.7,382.0 L517.1,382.0Z" fill="#14a55a"/>
<path d="M517.0,389.8 L518.8,386.6 L515.2,386.6Z" fill="#14a55a"/>
<path d="M514.7,394.3 L516.5,391.1 L512.9,391.1Z" fill="#14a55a"/>
<path d="M512.8,398.0 L514.6,394.8 L511.0,394.8Z" fill="#14a55a"/>
<path d="M510.1,401.6 L511.9,398.4 L508.3,398.4Z" fill="#14a55a"/>
<path d="M507.4,404.7 L509.2,401.5 L505.6,401.5Z" fill="#14a55a"/>
<path d="M504.5,407.6 L506.3,404.4 L502.7,404.4Z" fill="#14a55a"/>
<path d="M398.0,413.3 L398.1,413.2 L398.1,413.0 L398.2,412.9 L398.3,412.7 L398.4,412.5 L398.5,412.3 L398.6,412.1 L398.7,411.9 L398.8,411.6 L398.9,411.4 L399.1,411.2 L399.2,410.9 L399.3,410.7 L399.5,410.5 L399.7,410.3 L399.8,410.1 L400.0,409.9 L400.2,409.6 L400.4,409.4 L400.6,409.2 L400.8,409.0 L401.0,408.8 L401.3,408.6 L401.5,408.3 L401.7,408.1 L402.0,407.9 L402.2,407.7 L402.5,407.5 L402.8,407.3 L403.1,407.1 L403.3,406.9 L403.6,406.7 L403.9,406.5 L404.2,406.3 L404.6,406.1 L404.9,405.9 L405.2,405.7 L405.6,405.5 L405.9,405.3 L406.3,405.2 L406.6,405.0 L407.0,404.8 L407.4,404.6 L407.8,404.5 L408.2,404.3 L408.5,404.1 L409.0,403.9 L409.4,403.8 L409.8,403.6 L410.2,403.5 L410.6,403.3 L411.1,403.2 L411.6,403.0 L412.0,402.9 L412.5,402.7 L413.0,402.6 L413.5,402.5 L414.0,402.4 L414.6,402.2 L415.1,402.1 L415.7,402.0 L416.3,401.9 L416.9,401.8 L417.5,401.7 L418.1,401.6 L418.7,401.5 L419.2,401.4 L419.8,401.3 L420.4,401.3 L421.0,401.2 L421.6,401.1 L422.1,401.1 L422.7,401.0 L423.3,401.0 L423.9,400.9 L424.4,400.9 L425.0,400.8 L425.6,400.8 L426.1,400.8 L426.7,400.7 L427.3,400.7 L427.9,400.7 L428.4,400.7 L429.0,400.7 L429.6,400.7 L430.1,400.7 L430.7,400.7 L431.3,400.7 L431.9,400.8 L432.4,400.8 L433.0,400.8 L433.6,400.9 L434.1,400.9 L434.7,401.0 L435.3,401.0 L435.9,401.1 L436.4,401.1 L437.0,401.2 L437.6,401.3 L438.2,401.3 L438.7,401.4 L439.3,401.5 L439.9,401.6 L440.5,401.7 L441.1,401.8 L441.6,401.9 L442.2,402.0 L442.8,402.1 L443.4,402.2 L443.9,402.3 L444.5,402.4 L445.0,402.5 L445.5,402.6 L446.1,402.6 L446.6,402.7 L447.1,402.8 L447.7,402.9 L448.2,402.9 L448.7,403.0 L449.2,403.0 L449.7,403.1 L450.2,403.1 L450.6,403.2 L451.1,403.2 L451.6,403.3 L452.0,403.3 L452.4,403.3 L452.8,403.4 L453.2,403.4 L453.6,403.4 L454.0,403.4 L454.4,403.4 L454.7,403.4 L455.1,403.4 L455.4,403.4 L455.8,403.4 L456.1,403.4 L456.5,403.4 L456.8,403.3 L457.1,403.3 L457.4,403.3 L457.7,403.2 L458.0,403.1 L458.3,403.1 L458.6,403.0 L458.9,402.9 L459.2,402.8 L459.5,402.7 L459.7,402.6 L460.0,402.5 L460.3,402.4 L460.5,402.3 L460.8,402.2 L461.0,402.1 L461.2,402.0 L461.5,401.9 L461.7,401.7 L461.9,401.6 L462.1,401.5 L462.3,401.3 L462.5,401.2 L462.7,401.0 L462.9,400.9 L463.1,400.7 L463.3,400.5 L463.5,400.4 L463.6,400.2 L463.8,400.0 L464.0,399.8 L464.1,399.6 L464.3,399.5 L464.4,399.3 L464.6,399.1 L464.7,398.9 L464.9,398.7 L465.0,398.5 L465.1,398.2 L465.3,398.0 L465.4,397.8 L465.5,397.5 L465.7,397.3 L465.8,397.0" fill="none" stroke="#2e2e2e" stroke-width="3.2" stroke-linecap="round" stroke-linejoin="round"/>
<rect x="490.1" y="310.9" width="2.7" height="2.7" fill="#2e2e2e"/>
<rect x="485.0" y="325.5" width="2.7" height="2.7" fill="#2e2e2e"/>
<rect x="481.0" y="337.9" width="2.7" height="2.7" fill="#2e2e2e"/>
<rect x="477.9" y="349.2" width="2.7" height="2.7" fill="#2e2e2e"/>
<rect x="477.1" y="356.5" width="2.7" height="2.7" fill="#2e2e2e"/>
<rect x="473.6" y="365.6" width="2.7" height="2.7" fill="#2e2e2e"/>
<rect x="471.6" y="372.4" width="2.7" height="2.7" fill="#2e2e2e"/>
<rect x="469.9" y="378.3" width="2.7" height="2.7" fill="#2e2e2e"/>
<rect x="468.5" y="383.4" width="2.7" height="2.7" fill="#2e2e2e"/>
<rect x="467.3" y="387.3" width="2.7" height="2.7" fill="#2e2e2e"/>
<rect x="466.0" y="390.8" width="2.7" height="2.7" fill="#2e2e2e"/>
<path d="M398.0,413.3 L398.1,413.2 L398.1,413.0 L398.2,412.9 L398.3,412.7 L398.4,412.5 L398.5,412.2 L398.6,412.0 L398.7,411.8 L398.8,411.5 L398.9,411.3 L399.1,411.0 L399.2,410.8 L399.3,410.5 L399.5,410.3 L399.7,410.1 L399.8,409.8 L400.0,409.6 L400.2,409.4 L400.4,409.1 L400.6,408.9 L400.8,408.7 L401.0,408.4 L401.3,408.2 L401.5,407.9 L401.7,407.7 L402.0,407.5 L402.2,407.2 L402.5,407.0 L402.8,406.8 L403.1,406.6 L403.3,406.3 L403.6,406.1 L403.9,405.9 L404.2,405.7 L404.6,405.4 L404.9,405.2 L405.2,405.0 L405.6,404.8 L405.9,404.6 L406.3,404.4 L406.6,404.2 L407.0,404.0 L407.4,403.8 L407.8,403.6 L408.2,403.4 L408.6,403.2 L409.0,403.0 L409.4,402.8 L409.8,402.7 L410.3,402.5 L410.7,402.3 L411.2,402.1 L411.6,402.0 L412.1,401.8 L412.5,401.6 L413.0,401.5 L413.5,401.4 L413.9,401.2 L414.4,401.1 L414.9,400.9 L415.4,400.8 L415.9,400.7 L416.4,400.6 L416.9,400.5 L417.4,400.4 L417.9,400.3 L418.4,400.2 L419.0,400.1 L419.5,400.0 L420.0,399.9 L420.5,399.8 L421.1,399.8 L421.6,399.7 L422.2,399.6 L422.7,399.6 L423.3,399.5 L423.8,399.5 L424.4,399.4 L425.0,399.4 L425.5,399.4 L426.1,399.3 L426.6,399.3 L427.2,399.3 L427.7,399.3 L428.2,399.3 L428.8,399.3 L429.3,399.3 L429.8,399.3 L430.3,399.3 L430.9,399.4 L431.4,399.4 L431.9,399.4 L432.4,399.4 L432.9,399.5 L433.5,399.5 L434.0,399.6 L434.5,399.6 L435.0,399.7 L435.5,399.8 L436.0,399.8 L436.5,399.9 L437.0,400.0 L437.5,400.1 L438.0,400.2 L438.5,400.2 L439.0,400.3 L439.5,400.4 L440.0,400.6 L440.5,400.7 L441.0,400.8 L441.5,400.9 L442.0,401.0 L442.5,401.1 L443.0,401.3 L443.5,401.4 L444.0,401.5 L444.5,401.7 L445.0,401.8 L445.5,402.0 L446.0,402.2 L446.5,402.3 L447.0,402.5 L447.5,402.6 L448.0,402.7 L448.5,402.9 L449.0,403.0 L449.5,403.1 L450.0,403.2 L450.4,403.4 L450.9,403.5 L451.4,403.6 L451.9,403.7 L452.4,403.8 L452.8,403.9 L453.3,404.0 L453.7,404.1 L454.2,404.1 L454.6,404.2 L455.0,404.3 L455.4,404.3 L455.8,404.3 L456.2,404.4 L456.5,404.4 L456.9,404.4 L457.2,404.4 L457.5,404.4 L457.8,404.4 L458.2,404.4 L458.5,404.4 L458.8,404.4 L459.1,404.3 L459.4,404.3 L459.7,404.3 L460.0,404.2 L460.3,404.1 L460.6,404.1 L460.9,404.0 L461.2,403.9 L461.5,403.8 L461.8,403.7 L462.1,403.6 L462.4,403.5 L462.7,403.4 L462.9,403.3 L463.2,403.2 L463.5,403.1 L463.7,402.9 L464.0,402.8 L464.2,402.7 L464.5,402.5 L464.7,402.4 L465.0,402.2 L465.2,402.1 L465.4,401.9 L465.6,401.8 L465.8,401.6 L466.0,401.4 L466.2,401.3 L466.4,401.1 L466.6,400.9 L466.8,400.8 L467.0,400.6 L467.2,400.4 L467.4,400.2 L467.5,400.1 L467.7,399.9 L467.9,399.7 L468.0,399.5 L468.2,399.3 L468.3,399.1 L468.5,398.9 L468.6,398.7 L468.8,398.6 L468.9,398.4 L469.1,398.2 L469.2,398.0" fill="none" stroke="#ff2424" stroke-width="3.5" stroke-linecap="round" stroke-linejoin="round"/>
<circle cx="485.5" cy="310.5" r="1.60" fill="#ff2424"/>
<circle cx="484.6" cy="326.5" r="1.60" fill="#ff2424"/>
<circle cx="483.5" cy="339.1" r="1.60" fill="#ff2424"/>
<circle cx="481.5" cy="351.5" r="1.60" fill="#ff2424"/>
<circle cx="480.2" cy="360.5" r="1.60" fill="#ff2424"/>
<circle cx="479.0" cy="367.7" r="1.60" fill="#ff2424"/>
<circle cx="477.6" cy="374.2" r="1.60" fill="#ff2424"/>
<circle cx="476.2" cy="379.7" r="1.60" fill="#ff2424"/>
<circle cx="475.0" cy="384.8" r="1.60" fill="#ff2424"/>
<circle cx="473.8" cy="388.7" r="1.60" fill="#ff2424"/>
<circle cx="472.5" cy="392.1" r="1.60" fill="#ff2424"/>
<circle cx="470.8" cy="395.6" r="1.60" fill="#ff2424"/>
<path d="M398.0,413.3 L398.1,413.2 L398.1,413.1 L398.2,412.9 L398.3,412.8 L398.4,412.6 L398.5,412.4 L398.6,412.2 L398.7,412.0 L398.8,411.8 L399.0,411.6 L399.1,411.4 L399.2,411.2 L399.4,411.0 L399.5,410.8 L399.6,410.6 L399.8,410.5 L399.9,410.3 L400.1,410.1 L400.3,410.0 L400.4,409.8 L400.6,409.6 L400.8,409.5 L401.0,409.3 L401.1,409.2 L401.3,409.0 L401.6,408.9 L401.8,408.7 L402.0,408.6 L402.2,408.5 L402.5,408.3 L402.7,408.2 L403.0,408.1 L403.3,407.9 L403.5,407.8 L403.8,407.7 L404.1,407.6 L404.4,407.5 L404.7,407.4 L405.0,407.3 L405.3,407.2 L405.7,407.1 L406.0,407.0 L406.3,406.9 L406.7,406.9 L407.1,406.8 L407.5,406.7 L407.9,406.7 L408.3,406.6 L408.7,406.6 L409.1,406.5 L409.5,406.5 L409.9,406.5 L410.3,406.4 L410.7,406.4 L411.0,406.4 L411.4,406.4 L411.8,406.4 L412.1,406.4 L412.4,406.4 L412.8,406.5 L413.1,406.5 L413.5,406.5 L413.8,406.6 L414.1,406.6 L414.4,406.7 L414.8,406.7 L415.1,406.8 L415.4,406.9 L415.7,406.9 L416.0,407.0 L416.3,407.1 L416.6,407.2 L416.9,407.3 L417.2,407.4 L417.5,407.5 L417.8,407.6 L418.0,407.7 L418.3,407.8 L418.6,407.9 L418.9,408.0 L419.1,408.1 L419.4,408.2 L419.7,408.3 L420.0,408.4 L420.3,408.5 L420.6,408.6 L420.9,408.7 L421.2,408.7 L421.5,408.8 L421.8,408.9 L422.1,409.0 L422.4,409.1 L422.7,409.1 L423.0,409.2 L423.3,409.2 L423.6,409.3 L423.8,409.3 L424.1,409.3 L424.4,409.3 L424.6,409.3 L424.9,409.3 L425.1,409.3 L425.4,409.2 L425.6,409.2 L425.9,409.2 L426.1,409.1 L426.3,409.1 L426.6,409.0 L426.8,408.9 L427.0,408.8 L427.3,408.7 L427.5,408.6 L427.7,408.5 L428.0,408.3 L428.2,408.2 L428.4,408.0 L428.6,407.8 L428.9,407.7 L429.1,407.5 L429.3,407.3 L429.5,407.1 L429.7,406.9 L429.9,406.7 L430.1,406.4 L430.3,406.2 L430.5,406.0 L430.7,405.8 L430.9,405.6 L431.0,405.3 L431.2,405.1 L431.4,404.8 L431.6,404.6 L431.7,404.3 L431.9,404.1 L432.0,403.8 L432.2,403.6 L432.3,403.3 L432.5,403.0 L432.6,402.8 L432.8,402.5 L433.0,402.2 L433.1,402.0 L433.2,401.7 L433.4,401.4 L433.5,401.1 L433.7,400.8 L433.8,400.6 L434.0,400.3 L434.1,400.0 L434.2,399.7 L434.4,399.4 L434.5,399.1 L434.7,398.8 L434.8,398.5" fill="none" stroke="#1f6fff" stroke-width="3.2" stroke-linecap="round" stroke-linejoin="round"/>
<path d="M487.3,308.3 L488.9,311.2 L485.7,311.2Z" fill="#1f6fff"/>
<path d="M479.1,321.1 L480.8,324.0 L477.5,324.0Z" fill="#1f6fff"/>
<path d="M472.2,332.4 L473.8,335.3 L470.6,335.3Z" fill="#1f6fff"/>
<path d="M466.2,342.2 L467.8,345.1 L464.6,345.1Z" fill="#1f6fff"/>
<path d="M460.9,351.0 L462.5,353.9 L459.2,353.9Z" fill="#1f6fff"/>
<path d="M456.2,358.7 L457.8,361.6 L454.6,361.6Z" fill="#1f6fff"/>
<path d="M452.3,365.2 L453.9,368.1 L450.7,368.1Z" fill="#1f6fff"/>
<path d="M448.9,371.0 L450.5,373.9 L447.2,373.9Z" fill="#1f6fff"/>
<path d="M446.0,376.2 L447.6,379.1 L444.4,379.1Z" fill="#1f6fff"/>
<path d="M443.4,380.9 L445.0,383.8 L441.8,383.8Z" fill="#1f6fff"/>
<path d="M441.4,384.7 L443.0,387.6 L439.8,387.6Z" fill="#1f6fff"/>
<path d="M439.2,388.7 L440.8,391.6 L437.6,391.6Z" fill="#1f6fff"/>
<path d="M437.0,392.7 L438.6,395.6 L435.4,395.6Z" fill="#1f6fff"/>
</g>
<circle cx="406.5" cy="303.8" r="1.45" fill="#ff2424"/>
<text x="417.80" y="306.60" font-size="7.8" font-family="Liberation Serif" fill="#161616" stroke="#161616" stroke-width="0.12" text-anchor="start" >LFP/C-F<tspan font-size="0.72em" dy="1.8">3</tspan><tspan dy="-1.8"></tspan></text>
<rect x="405.1" y="313.2" width="2.9" height="2.9" fill="#2e2e2e"/>
<text x="417.80" y="317.50" font-size="7.8" font-family="Liberation Serif" fill="#161616" stroke="#161616" stroke-width="0.12" text-anchor="start" >LFP/C-Mn<tspan font-size="0.72em" dy="1.8">3</tspan><tspan dy="-1.8"></tspan></text>
<path d="M406.5,324.8 L408.1,327.6 L404.9,327.6Z" fill="#1f6fff"/>
<text x="417.80" y="329.30" font-size="7.8" font-family="Liberation Serif" fill="#161616" stroke="#161616" stroke-width="0.12" text-anchor="start" >LFP/C-Nb<tspan font-size="0.72em" dy="1.8">1</tspan><tspan dy="-1.8"></tspan></text>
<path d="M406.5,339.5 L408.1,336.7 L404.9,336.7Z" fill="#14a55a"/>
<text x="417.80" y="340.60" font-size="7.8" font-family="Liberation Serif" fill="#161616" stroke="#161616" stroke-width="0.12" text-anchor="start" >LFP/C</text>
</svg>
</body></html>
